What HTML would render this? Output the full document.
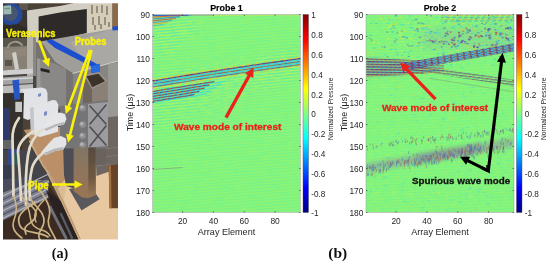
<!DOCTYPE html>
<html><head><meta charset="utf-8"><title>Probe comparison</title>
<style>html,body{margin:0;padding:0;background:#fff;}body{width:550px;height:265px;overflow:hidden;}svg{display:block;}</style>
</head><body>
<svg width="550" height="265" viewBox="0 0 550 265" font-family="'Liberation Sans', Arial, sans-serif"><defs><linearGradient id="jet" x1="0" y1="0" x2="0" y2="1"><stop offset="0" stop-color="rgb(128, 0, 0)"/><stop offset="0.125" stop-color="rgb(255, 0, 0)"/><stop offset="0.375" stop-color="rgb(255, 255, 0)"/><stop offset="0.625" stop-color="rgb(0, 255, 255)"/><stop offset="0.875" stop-color="rgb(0, 0, 255)"/><stop offset="1" stop-color="rgb(0, 0, 128)"/></linearGradient><filter id="blur" filterUnits="userSpaceOnUse" x="0" y="0" width="125" height="245"><feGaussianBlur stdDeviation="0.5"/></filter><filter id="sblur" x="-0.1" y="-0.1" width="1.2" height="1.2"><feGaussianBlur stdDeviation="0.7"/></filter><filter id="ublur" x="-0.2" y="-0.5" width="1.4" height="2"><feGaussianBlur stdDeviation="2"/></filter><filter id="ublur2" x="-0.3" y="-0.5" width="1.6" height="2"><feGaussianBlur stdDeviation="5"/></filter><filter id="pblur" x="0" y="0" width="1" height="1"><feGaussianBlur stdDeviation="0.45"/></filter><clipPath id="pc152"><rect x="152.5" y="14.5" width="148" height="198"/></clipPath><clipPath id="pc366"><rect x="366.0" y="14.5" width="148" height="198"/></clipPath><linearGradient id="pipeL" x1="0" y1="0" x2="0" y2="1"><stop offset="0" stop-color="#807466"/><stop offset="0.45" stop-color="#8e745c"/><stop offset="1" stop-color="#9a7654"/></linearGradient><linearGradient id="pipeR" x1="0" y1="0" x2="0" y2="1"><stop offset="0" stop-color="#574a40"/><stop offset="0.6" stop-color="#6e5842"/><stop offset="1" stop-color="#9a7a58"/></linearGradient><clipPath id="phc"><rect x="3" y="3.3" width="115" height="236.2"/></clipPath></defs>
<g clip-path="url(#phc)"><g filter="url(#blur)"><rect x="0" y="0" width="121" height="243" fill="#4e4338"/>
<polygon points="0,0 28,0 28,40 0,40" fill="#3b3531"/>
<polygon points="19,0 28,0 28,10 19,10" fill="#5e564c"/>
<circle cx="11.5" cy="14.5" r="11" fill="#26489a"/>
<circle cx="10.5" cy="13.5" r="7.5" fill="#4a5670"/>
<polygon points="3.4,5.7 11,5.2 11.5,14 3.4,14.5" fill="#9cbab0"/>
<polygon points="4.5,8 10,7.8 10,9 4.5,9.2" fill="#5a7068" opacity="0.6"/>
<polygon points="0,26 18,24 27,28 28,40 0,40" fill="#2f2b28"/>
<polygon points="27,10.5 60,6 88.3,0 112.5,0 112.5,30 37,44 36,75 28,75" fill="#d3cec4"/>
<polygon points="38.6,16.6 60,12.5 86.8,9 86.8,33 38.6,44" fill="#2e2a29"/>
<polygon points="88.5,4 112,4 112,29 88.5,32" fill="#cbc1ad"/>
<polygon points="88.5,4 112,4 112,29 88.5,32" fill="#d6cdb9"/>
<rect x="91" y="5" width="2" height="9" fill="#7d7466" opacity="0.7"/>
<rect x="96" y="6" width="2" height="7" fill="#7d7466" opacity="0.7"/>
<rect x="101" y="5" width="2" height="8" fill="#7d7466" opacity="0.7"/>
<rect x="106" y="6" width="2" height="9" fill="#7d7466" opacity="0.7"/>
<rect x="92" y="17" width="2" height="8" fill="#7d7466" opacity="0.7"/>
<rect x="98" y="16" width="2" height="9" fill="#7d7466" opacity="0.7"/>
<rect x="104" y="17" width="2" height="8" fill="#7d7466" opacity="0.7"/>
<rect x="94" y="25" width="2" height="5" fill="#7d7466" opacity="0.7"/>
<rect x="100" y="24" width="2" height="5" fill="#7d7466" opacity="0.7"/>
<rect x="108" y="22" width="2" height="5" fill="#7d7466" opacity="0.7"/>
<polygon points="112.5,0 121,0 121,27 112.5,28" fill="#8d6a47"/>
<polygon points="0,38 28,38 36,42 36,100 0,100" fill="#4a4541"/>
<polygon points="0,38 27,38 27,47 0,48" fill="#5a544c"/>
<polygon points="0,47 27,46 27,70 0,70" fill="#868074"/>
<polygon points="5,50 26,48 26,56 5,58" fill="#8f887a"/>
<path d="M8,47 C10,41 18,40 22,45" fill="none" stroke="#9a978f" stroke-width="2.0" stroke-linecap="round" stroke-linejoin="round"/>
<polygon points="12,53 16,52 19,69 15,70" fill="#cfcdc6"/>
<polygon points="5,60 12,60 12,66 5,66" fill="#5a544a"/>
<polygon points="27,35 33,35 33,76 27,76" fill="#b4b2aa"/>
<polygon points="33,35 36,38 36,76 33,76" fill="#8a8882"/>
<polygon points="0,70.5 33,68.5 33,73.5 0,75.5" fill="#cfcfcf"/>
<polygon points="0,77.5 33,75.5 33,83 0,85" fill="#a5a5a5"/>
<polygon points="0,79 33,77 33,78.5 0,80.5" fill="#d5d5d5"/>
<polygon points="0,86 33,84 33,91.5 0,93.5" fill="#bcbcbc"/>
<polygon points="36,42 42.8,44 55,62 73,73.4 73,112 36,104" fill="#747270"/>
<polygon points="37,42 115.5,28.6 121,28.6 121,61 73,73.4 55,62 42.8,44" fill="#a09e9b"/>
<polygon points="70,42 115.5,28.6 121,28.6 121,61 90,68.5" fill="#aeacaa" opacity="0.7"/>
<polygon points="73,73.4 121,61 121,120 73,120" fill="#878582"/>
<path d="M73,73.4 L118,61" fill="none" stroke="#d2d2d2" stroke-width="0.9" stroke-linecap="round" stroke-linejoin="round"/>
<polygon points="46,40.5 52,39.6 97.4,64.2 99.7,63.8 99.7,72 91.3,73 91.3,66.4 55,48" fill="#1f50d0"/>
<polygon points="91.3,66.4 99.7,63.8 99.7,72 91.3,73" fill="#2a6ae0"/>
<polygon points="112.5,26.5 121,25.8 121,30 112.5,30.5" fill="#1f50d0"/>
<polygon points="37,58 56,64 66,69 66,108 40,102 37,100" fill="#8a8886"/>
<polygon points="37,58 40,59 41,101 37,100" fill="#9a9896"/>
<polygon points="40.6,68 49.6,70 49.6,73 40.6,71" fill="#262423"/>
<polygon points="84,75 92,89 92,106 82.5,104" fill="#6e655c"/>
<polygon points="92,89 107.5,81 106.5,103.5 92,106" fill="#8a8076"/>
<polygon points="84,75 99,72 107.5,81 92,89" fill="#9a9088"/>
<polygon points="86.5,76.2 98.5,73.8 105,81.2 92.2,87.2" fill="#3b322c"/>
<polygon points="108,64 121,62 121,120 108,120" fill="#9a9895"/>
<polygon points="24,130 75,126 100,140 121,140 121,243 82.3,243 62.5,200 48,170 44,165 30.6,140" fill="#d8bc96"/>
<polygon points="66,186 121,150 121,243 82.3,243 64,200" fill="#e8c8a0"/>
<polygon points="24,130 60,128 68,150 66,178 58,188 48,170 44,165 30.6,140" fill="#bb9068"/>
<polygon points="30.6,140 44,165 48,170 62.5,200 82.3,243 79.8,243 60.5,201 46,171.5 42,166 28.5,141" fill="#c9a67c"/>
<polygon points="19,92 22,89 42,87.5 46,89 47.5,93 47.5,112 28,120 20,117" fill="#e2e3e6"/>
<polygon points="19,92 23,90.5 24,118 20,117" fill="#c4c5c9"/>
<polygon points="16,106 23.5,106 23.5,115 16,115" fill="#d5d5d8"/>
<polygon points="30,108 52.6,100 56,100.5 58.3,104.5 58,131.7 40,137 31,134" fill="#e3e4e7"/>
<polygon points="30,108 33.5,107 34.5,135 31,134" fill="#c4c5c9"/>
<polygon points="38,94 41,93 41,96 38,97" fill="#5064b0" opacity="0.7"/>
<polygon points="44,112 47,111 47,115 44,116" fill="#5064b0" opacity="0.7"/>
<polygon points="100,118 121,116 121,170 108,172 96.5,176 95,140" fill="#6e6660"/>
<path d="M97,150 L121,147 M97,158 L121,155 M97,166 L110,164" fill="none" stroke="#857c74" stroke-width="0.8" stroke-linecap="round" stroke-linejoin="round"/>
<polygon points="108.7,165.5 121,164 121,208.3 109.5,208.3" fill="#6a4326"/>
<polygon points="108.7,165.5 111,165.5 111.5,208.3 109.5,208.3" fill="#a07040"/>
<polygon points="63,143 76,140 76,189 66,186 64,175" fill="#4e4e53"/>
<polygon points="95,140 106,140 106,164.5 95,164.5" fill="#6a625c"/>
<polygon points="60,106 108,100 108,148.5 65.7,148.5 60,146" fill="#747478"/>
<polygon points="88,104 108,102 108,146 88,147.5" fill="#9c9ca0"/>
<path d="M90,106 L106,124 M106,105 L90,124 M90,127 L106,145 M106,126 L90,146" fill="none" stroke="#4f4f52" stroke-width="1.6" stroke-linecap="round" stroke-linejoin="round"/>
<circle cx="82.6" cy="108" r="3.3" fill="#8f8f93"/><circle cx="81.8" cy="107.2" r="1.6" fill="#b5b5b8"/>
<circle cx="82.6" cy="124.5" r="3.3" fill="#8f8f93"/><circle cx="81.8" cy="123.7" r="1.6" fill="#b5b5b8"/>
<circle cx="82.6" cy="135.8" r="3.3" fill="#8f8f93"/><circle cx="81.8" cy="135.0" r="1.6" fill="#b5b5b8"/>
<circle cx="82.6" cy="145" r="3.3" fill="#8f8f93"/><circle cx="81.8" cy="144.2" r="1.6" fill="#b5b5b8"/>
<polygon points="69,189 90,185 99.6,199.2 81.5,210.6" fill="#58585d"/>
<polygon points="73.6,147.4 95.7,147.4 95.7,195 88.3,198 82,197.5 73.6,191" fill="url(#pipeL)"/>
<polygon points="88.3,147.4 95.7,147.4 95.7,195 88.3,198" fill="url(#pipeR)"/>
<polygon points="0,93.5 24,93 22,150 0,150" fill="#35312e"/>
<polygon points="12.3,80.4 19,79.5 20,99 14.5,100" fill="#2657c4"/>
<polygon points="15.3,101.8 22,101.8 22,112 15.3,112" fill="#c8c8c6"/>
<polygon points="3,108 10,108 10,143 3,143" fill="#2e3f80" opacity="0.75"/>
<polygon points="0,150 26,150 28.5,141 42,166 46,171.5 48,185 48.7,198 0,200" fill="#45444a"/>
<polygon points="0,140 14,140 14,149 0,149" fill="#646466"/>
<polygon points="8,149 18,149 18,165 8,165" fill="#30489a" opacity="0.85"/>
<polygon points="0,165 14,165 14,179 0,179" fill="#353a50"/>
<polygon points="0,180 30,176 30,186 0,192" fill="#484c5c"/>
<polygon points="0,193.6 37,180 48.7,180 48.7,198 0,222" fill="#7e7f8c"/>
<path d="M0,197.4 L48.7,174.0" fill="none" stroke="#b4b5c0" stroke-width="1.1" stroke-linecap="round" stroke-linejoin="round"/>
<path d="M0,201.1 L48.7,177.7" fill="none" stroke="#505162" stroke-width="1.1" stroke-linecap="round" stroke-linejoin="round"/>
<path d="M0,204.8 L48.7,181.4" fill="none" stroke="#b4b5c0" stroke-width="1.1" stroke-linecap="round" stroke-linejoin="round"/>
<path d="M0,208.5 L48.7,185.1" fill="none" stroke="#505162" stroke-width="1.1" stroke-linecap="round" stroke-linejoin="round"/>
<path d="M0,212.20000000000002 L48.7,188.8" fill="none" stroke="#b4b5c0" stroke-width="1.1" stroke-linecap="round" stroke-linejoin="round"/>
<path d="M0,215.9 L48.7,192.5" fill="none" stroke="#505162" stroke-width="1.1" stroke-linecap="round" stroke-linejoin="round"/>
<path d="M0,219.6 L48.7,196.2" fill="none" stroke="#b4b5c0" stroke-width="1.1" stroke-linecap="round" stroke-linejoin="round"/>
<polygon points="0,222 48.7,198 48,185 60.5,201 79.8,243 0,243" fill="#3b2c21"/>
<polygon points="46,190 60.5,201 79.8,243 66,243" fill="#2a2420"/>
<path d="M50,207 L66,238" fill="none" stroke="#6f7078" stroke-width="2.8" stroke-linecap="round" stroke-linejoin="round"/>
<path d="M61,214 L72,238" fill="none" stroke="#5a5b62" stroke-width="2.2" stroke-linecap="round" stroke-linejoin="round"/>
<polygon points="13,153 20,153 20,165 13,165" fill="#2f5f45" opacity="0.85"/>
<polygon points="54,113.5 60,112.4 65,114 66.5,119 64,124.5 56,126.5 46,131 41,128.5 49,119" fill="#e6e6e8"/>
<polygon points="56,124 64,122 64,124.5 56,126.5 46,131 44,129" fill="#b8b8bc"/>
<polygon points="54,138 61,136 66,138.5 66.5,144 63.5,149.5 55,151 46,155 41,152.5 49,143" fill="#e4e4e6"/>
<polygon points="55,148.5 63.5,147 63.5,149.5 55,151 46,155 44,153" fill="#b5b5b9"/>
<path d="M19,118 C14,125 12,132 12.5,140 C13,155 13,170 13.5,196" fill="none" stroke="#e3dccb" stroke-width="2.7" stroke-linecap="round" stroke-linejoin="round"/>
<path d="M34,131 C24,137 18,144 18,152 C19,165 20,172 21,200" fill="none" stroke="#e3dccb" stroke-width="2.7" stroke-linecap="round" stroke-linejoin="round"/>
<path d="M43,129 C36,134 30,142 28,155 C26,168 25,178 26,205" fill="none" stroke="#e3dccb" stroke-width="2.7" stroke-linecap="round" stroke-linejoin="round"/>
<path d="M43,153 C38,157 34,161 32,168 C30,176 29,186 30,200" fill="none" stroke="#e3dccb" stroke-width="2.7" stroke-linecap="round" stroke-linejoin="round"/>
<path d="M22,196 C26,205 40,208 35,218 C30,226 22,224 26,234" fill="none" stroke="#cdb486" stroke-width="1.7" stroke-linecap="round" stroke-linejoin="round"/>
<path d="M30,198 C35,207 45,212 44,222 C43,230 36,232 40,240" fill="none" stroke="#cdb486" stroke-width="1.7" stroke-linecap="round" stroke-linejoin="round"/>
<path d="M35,202 C25,210 15,214 20,226 C24,234 40,231 48,237" fill="none" stroke="#cdb486" stroke-width="1.7" stroke-linecap="round" stroke-linejoin="round"/>
<path d="M40,190 C45,198 52,207 49,217 C46,225 52,231 56,240" fill="none" stroke="#cdb486" stroke-width="1.7" stroke-linecap="round" stroke-linejoin="round"/>
<path d="M14,196 C16,204 18,210 14,220 C11,228 16,234 22,238" fill="none" stroke="#cdb486" stroke-width="1.6" stroke-linecap="round" stroke-linejoin="round"/>
<path d="M26,205 C32,212 28,220 34,226 C40,232 46,228 50,236" fill="none" stroke="#cdb486" stroke-width="1.5" stroke-linecap="round" stroke-linejoin="round"/>
<path d="M44,200 C38,206 32,214 36,222" fill="none" stroke="#cdb486" stroke-width="1.4" stroke-linecap="round" stroke-linejoin="round"/></g>
<line x1="39.00" y1="40.50" x2="46.43" y2="60.15" stroke="#fbf20a" stroke-width="2.7"/><polygon points="48.90,66.70 42.19,60.68 49.95,57.75" fill="#fbf20a"/>
<line x1="90.00" y1="50.00" x2="68.18" y2="107.46" stroke="#fbf20a" stroke-width="2.6"/><polygon points="65.70,114.00 64.80,105.10 72.28,107.94" fill="#fbf20a"/>
<line x1="91.50" y1="50.00" x2="69.72" y2="135.82" stroke="#fbf20a" stroke-width="2.6"/><polygon points="68.00,142.60 66.09,133.86 73.84,135.83" fill="#fbf20a"/>
<line x1="52.00" y1="184.50" x2="75.60" y2="184.50" stroke="#fbf20a" stroke-width="2.6"/><polygon points="82.60,184.50 74.60,188.50 74.60,180.50" fill="#fbf20a"/>
<text x="6.1" y="36.9" font-size="11.2" font-weight="bold" fill="#fbf20a" stroke="#fbf20a" stroke-width="0.35" font-family="'Liberation Sans', Arial, sans-serif" textLength="49.4" lengthAdjust="spacingAndGlyphs">Verasonics</text>
<text x="74.7" y="44.8" font-size="10.4" font-weight="bold" fill="#fbf20a" stroke="#fbf20a" stroke-width="0.35" font-family="'Liberation Sans', Arial, sans-serif" textLength="31.7" lengthAdjust="spacingAndGlyphs">Probes</text>
<text x="28.3" y="188.9" font-size="10.4" font-weight="bold" fill="#fbf20a" stroke="#fbf20a" stroke-width="0.35" font-family="'Liberation Sans', Arial, sans-serif" textLength="20.4" lengthAdjust="spacingAndGlyphs">Pipe</text>
</g>
<g clip-path="url(#pc152)"><g filter="url(#pblur)"><defs><filter id="blp1_152" x="-0.2" y="-0.2" width="1.4" height="1.4"><feGaussianBlur stdDeviation="6"/></filter><mask id="mp1_152" maskUnits="userSpaceOnUse" x="152.5" y="14.5" width="148" height="198"><g filter="url(#blp1_152)"><polygon points="152.5,14.5 212.5,14.5 172.5,54.5 152.5,54.5" fill="#fff"/><polygon points="152.5,74.5 300.5,49.5 300.5,76.5 222.5,106.5 152.5,114.5" fill="#fff"/><polygon points="152.5,102.5 242.5,92.5 242.5,114.5 152.5,129.5" fill="#bbb"/></g></mask></defs>
<rect x="152.5" y="14.5" width="148" height="198" fill="#82f47c"/>
<g opacity="0.2"><path d="M152.5,-5.5 L201.8,-9.4 L251.2,-13.4 L300.5,-17.3" fill="none" stroke="#e8f54a" stroke-width="0.8" stroke-dasharray="28 6" stroke-dashoffset="4"/><path d="M152.5,-4.0 L201.8,-7.9 L251.2,-11.9 L300.5,-15.8" fill="none" stroke="#3ee8cf" stroke-width="0.8" stroke-dasharray="36 2" stroke-dashoffset="31"/><path d="M152.5,-2.5 L201.8,-6.4 L251.2,-10.4 L300.5,-14.3" fill="none" stroke="#e8f54a" stroke-width="0.8" stroke-dasharray="48 5" stroke-dashoffset="24"/><path d="M152.5,-1.0 L201.8,-4.9 L251.2,-8.9 L300.5,-12.8" fill="none" stroke="#3ee8cf" stroke-width="0.8" stroke-dasharray="33 2" stroke-dashoffset="31"/><path d="M152.5,0.5 L201.8,-3.4 L251.2,-7.4 L300.5,-11.3" fill="none" stroke="#e8f54a" stroke-width="0.8" stroke-dasharray="21 8" stroke-dashoffset="24"/><path d="M152.5,2.0 L201.8,-1.9 L251.2,-5.9 L300.5,-9.8" fill="none" stroke="#3ee8cf" stroke-width="0.8" stroke-dasharray="47 6" stroke-dashoffset="0"/><path d="M152.5,3.5 L201.8,-0.4 L251.2,-4.4 L300.5,-8.3" fill="none" stroke="#e8f54a" stroke-width="0.8" stroke-dasharray="48 4" stroke-dashoffset="14"/><path d="M152.5,5.0 L201.8,1.1 L251.2,-2.9 L300.5,-6.8" fill="none" stroke="#3ee8cf" stroke-width="0.8" stroke-dasharray="57 2" stroke-dashoffset="20"/><path d="M152.5,6.5 L201.8,2.6 L251.2,-1.4 L300.5,-5.3" fill="none" stroke="#e8f54a" stroke-width="0.8" stroke-dasharray="21 2" stroke-dashoffset="1"/><path d="M152.5,8.0 L201.8,4.1 L251.2,0.1 L300.5,-3.8" fill="none" stroke="#3ee8cf" stroke-width="0.8" stroke-dasharray="54 2" stroke-dashoffset="24"/><path d="M152.5,9.5 L201.8,5.6 L251.2,1.6 L300.5,-2.3" fill="none" stroke="#e8f54a" stroke-width="0.8" stroke-dasharray="33 5" stroke-dashoffset="1"/><path d="M152.5,11.0 L201.8,7.1 L251.2,3.1 L300.5,-0.8" fill="none" stroke="#3ee8cf" stroke-width="0.8" stroke-dasharray="53 3" stroke-dashoffset="28"/><path d="M152.5,12.5 L201.8,8.6 L251.2,4.6 L300.5,0.7" fill="none" stroke="#e8f54a" stroke-width="0.8" stroke-dasharray="51 6" stroke-dashoffset="14"/><path d="M152.5,14.0 L201.8,10.1 L251.2,6.1 L300.5,2.2" fill="none" stroke="#3ee8cf" stroke-width="0.8" stroke-dasharray="42 3" stroke-dashoffset="14"/><path d="M152.5,15.5 L201.8,11.6 L251.2,7.6 L300.5,3.7" fill="none" stroke="#e8f54a" stroke-width="0.8" stroke-dasharray="49 4" stroke-dashoffset="1"/><path d="M152.5,17.0 L201.8,13.1 L251.2,9.1 L300.5,5.2" fill="none" stroke="#3ee8cf" stroke-width="0.8" stroke-dasharray="46 8" stroke-dashoffset="35"/><path d="M152.5,18.5 L201.8,14.6 L251.2,10.6 L300.5,6.7" fill="none" stroke="#e8f54a" stroke-width="0.8" stroke-dasharray="26 3" stroke-dashoffset="40"/><path d="M152.5,20.0 L201.8,16.1 L251.2,12.1 L300.5,8.2" fill="none" stroke="#3ee8cf" stroke-width="0.8" stroke-dasharray="38 2" stroke-dashoffset="21"/><path d="M152.5,21.5 L201.8,17.6 L251.2,13.6 L300.5,9.7" fill="none" stroke="#e8f54a" stroke-width="0.8" stroke-dasharray="52 5" stroke-dashoffset="32"/><path d="M152.5,23.0 L201.8,19.1 L251.2,15.1 L300.5,11.2" fill="none" stroke="#3ee8cf" stroke-width="0.8" stroke-dasharray="32 4" stroke-dashoffset="18"/><path d="M152.5,24.5 L201.8,20.6 L251.2,16.6 L300.5,12.7" fill="none" stroke="#e8f54a" stroke-width="0.8" stroke-dasharray="57 5" stroke-dashoffset="32"/><path d="M152.5,26.0 L201.8,22.1 L251.2,18.1 L300.5,14.2" fill="none" stroke="#3ee8cf" stroke-width="0.8" stroke-dasharray="45 6" stroke-dashoffset="2"/><path d="M152.5,27.5 L201.8,23.6 L251.2,19.6 L300.5,15.7" fill="none" stroke="#e8f54a" stroke-width="0.8" stroke-dasharray="50 3" stroke-dashoffset="25"/><path d="M152.5,29.0 L201.8,25.1 L251.2,21.1 L300.5,17.2" fill="none" stroke="#3ee8cf" stroke-width="0.8" stroke-dasharray="46 7" stroke-dashoffset="11"/><path d="M152.5,30.5 L201.8,26.6 L251.2,22.6 L300.5,18.7" fill="none" stroke="#e8f54a" stroke-width="0.8" stroke-dasharray="43 6" stroke-dashoffset="23"/><path d="M152.5,32.0 L201.8,28.1 L251.2,24.1 L300.5,20.2" fill="none" stroke="#3ee8cf" stroke-width="0.8" stroke-dasharray="25 5" stroke-dashoffset="32"/><path d="M152.5,33.5 L201.8,29.6 L251.2,25.6 L300.5,21.7" fill="none" stroke="#e8f54a" stroke-width="0.8" stroke-dasharray="26 8" stroke-dashoffset="10"/><path d="M152.5,35.0 L201.8,31.1 L251.2,27.1 L300.5,23.2" fill="none" stroke="#3ee8cf" stroke-width="0.8" stroke-dasharray="53 8" stroke-dashoffset="25"/><path d="M152.5,36.5 L201.8,32.6 L251.2,28.6 L300.5,24.7" fill="none" stroke="#e8f54a" stroke-width="0.8" stroke-dasharray="43 5" stroke-dashoffset="1"/><path d="M152.5,38.0 L201.8,34.1 L251.2,30.1 L300.5,26.2" fill="none" stroke="#3ee8cf" stroke-width="0.8" stroke-dasharray="50 2" stroke-dashoffset="19"/><path d="M152.5,39.5 L201.8,35.6 L251.2,31.6 L300.5,27.7" fill="none" stroke="#e8f54a" stroke-width="0.8" stroke-dasharray="59 6" stroke-dashoffset="37"/><path d="M152.5,41.0 L201.8,37.1 L251.2,33.1 L300.5,29.2" fill="none" stroke="#3ee8cf" stroke-width="0.8" stroke-dasharray="45 7" stroke-dashoffset="10"/><path d="M152.5,42.5 L201.8,38.6 L251.2,34.6 L300.5,30.7" fill="none" stroke="#e8f54a" stroke-width="0.8" stroke-dasharray="30 6" stroke-dashoffset="14"/><path d="M152.5,44.0 L201.8,40.1 L251.2,36.1 L300.5,32.2" fill="none" stroke="#3ee8cf" stroke-width="0.8" stroke-dasharray="20 8" stroke-dashoffset="12"/><path d="M152.5,45.5 L201.8,41.6 L251.2,37.6 L300.5,33.7" fill="none" stroke="#e8f54a" stroke-width="0.8" stroke-dasharray="54 8" stroke-dashoffset="35"/><path d="M152.5,47.0 L201.8,43.1 L251.2,39.1 L300.5,35.2" fill="none" stroke="#3ee8cf" stroke-width="0.8" stroke-dasharray="34 5" stroke-dashoffset="32"/><path d="M152.5,48.5 L201.8,44.6 L251.2,40.6 L300.5,36.7" fill="none" stroke="#e8f54a" stroke-width="0.8" stroke-dasharray="42 8" stroke-dashoffset="36"/><path d="M152.5,50.0 L201.8,46.1 L251.2,42.1 L300.5,38.2" fill="none" stroke="#3ee8cf" stroke-width="0.8" stroke-dasharray="42 5" stroke-dashoffset="17"/><path d="M152.5,51.5 L201.8,47.6 L251.2,43.6 L300.5,39.7" fill="none" stroke="#e8f54a" stroke-width="0.8" stroke-dasharray="55 6" stroke-dashoffset="0"/><path d="M152.5,53.0 L201.8,49.1 L251.2,45.1 L300.5,41.2" fill="none" stroke="#3ee8cf" stroke-width="0.8" stroke-dasharray="44 8" stroke-dashoffset="32"/><path d="M152.5,54.5 L201.8,50.6 L251.2,46.6 L300.5,42.7" fill="none" stroke="#e8f54a" stroke-width="0.8" stroke-dasharray="28 6" stroke-dashoffset="35"/><path d="M152.5,56.0 L201.8,52.1 L251.2,48.1 L300.5,44.2" fill="none" stroke="#3ee8cf" stroke-width="0.8" stroke-dasharray="33 5" stroke-dashoffset="3"/><path d="M152.5,57.5 L201.8,53.6 L251.2,49.6 L300.5,45.7" fill="none" stroke="#e8f54a" stroke-width="0.8" stroke-dasharray="50 8" stroke-dashoffset="23"/><path d="M152.5,59.0 L201.8,55.1 L251.2,51.1 L300.5,47.2" fill="none" stroke="#3ee8cf" stroke-width="0.8" stroke-dasharray="56 6" stroke-dashoffset="12"/><path d="M152.5,60.5 L201.8,56.6 L251.2,52.6 L300.5,48.7" fill="none" stroke="#e8f54a" stroke-width="0.8" stroke-dasharray="52 5" stroke-dashoffset="31"/><path d="M152.5,62.0 L201.8,58.1 L251.2,54.1 L300.5,50.2" fill="none" stroke="#3ee8cf" stroke-width="0.8" stroke-dasharray="42 5" stroke-dashoffset="22"/><path d="M152.5,63.5 L201.8,59.6 L251.2,55.6 L300.5,51.7" fill="none" stroke="#e8f54a" stroke-width="0.8" stroke-dasharray="20 6" stroke-dashoffset="34"/><path d="M152.5,65.0 L201.8,61.1 L251.2,57.1 L300.5,53.2" fill="none" stroke="#3ee8cf" stroke-width="0.8" stroke-dasharray="59 8" stroke-dashoffset="39"/><path d="M152.5,66.5 L201.8,62.6 L251.2,58.6 L300.5,54.7" fill="none" stroke="#e8f54a" stroke-width="0.8" stroke-dasharray="41 5" stroke-dashoffset="38"/><path d="M152.5,68.0 L201.8,64.1 L251.2,60.1 L300.5,56.2" fill="none" stroke="#3ee8cf" stroke-width="0.8" stroke-dasharray="21 8" stroke-dashoffset="14"/><path d="M152.5,69.5 L201.8,65.6 L251.2,61.6 L300.5,57.7" fill="none" stroke="#e8f54a" stroke-width="0.8" stroke-dasharray="60 3" stroke-dashoffset="35"/><path d="M152.5,71.0 L201.8,67.1 L251.2,63.1 L300.5,59.2" fill="none" stroke="#3ee8cf" stroke-width="0.8" stroke-dasharray="57 3" stroke-dashoffset="5"/><path d="M152.5,72.5 L201.8,68.6 L251.2,64.6 L300.5,60.7" fill="none" stroke="#e8f54a" stroke-width="0.8" stroke-dasharray="55 8" stroke-dashoffset="16"/><path d="M152.5,74.0 L201.8,70.1 L251.2,66.1 L300.5,62.2" fill="none" stroke="#3ee8cf" stroke-width="0.8" stroke-dasharray="22 8" stroke-dashoffset="4"/><path d="M152.5,75.5 L201.8,71.6 L251.2,67.6 L300.5,63.7" fill="none" stroke="#e8f54a" stroke-width="0.8" stroke-dasharray="25 8" stroke-dashoffset="1"/><path d="M152.5,77.0 L201.8,73.1 L251.2,69.1 L300.5,65.2" fill="none" stroke="#3ee8cf" stroke-width="0.8" stroke-dasharray="48 2" stroke-dashoffset="17"/><path d="M152.5,78.5 L201.8,74.6 L251.2,70.6 L300.5,66.7" fill="none" stroke="#e8f54a" stroke-width="0.8" stroke-dasharray="35 4" stroke-dashoffset="7"/><path d="M152.5,80.0 L201.8,76.1 L251.2,72.1 L300.5,68.2" fill="none" stroke="#3ee8cf" stroke-width="0.8" stroke-dasharray="59 3" stroke-dashoffset="22"/><path d="M152.5,81.5 L201.8,77.6 L251.2,73.6 L300.5,69.7" fill="none" stroke="#e8f54a" stroke-width="0.8" stroke-dasharray="38 2" stroke-dashoffset="10"/><path d="M152.5,83.0 L201.8,79.1 L251.2,75.1 L300.5,71.2" fill="none" stroke="#3ee8cf" stroke-width="0.8" stroke-dasharray="30 4" stroke-dashoffset="33"/><path d="M152.5,84.5 L201.8,80.6 L251.2,76.6 L300.5,72.7" fill="none" stroke="#e8f54a" stroke-width="0.8" stroke-dasharray="30 7" stroke-dashoffset="17"/><path d="M152.5,86.0 L201.8,82.1 L251.2,78.1 L300.5,74.2" fill="none" stroke="#3ee8cf" stroke-width="0.8" stroke-dasharray="38 5" stroke-dashoffset="20"/><path d="M152.5,87.5 L201.8,83.6 L251.2,79.6 L300.5,75.7" fill="none" stroke="#e8f54a" stroke-width="0.8" stroke-dasharray="51 5" stroke-dashoffset="7"/><path d="M152.5,89.0 L201.8,85.1 L251.2,81.1 L300.5,77.2" fill="none" stroke="#3ee8cf" stroke-width="0.8" stroke-dasharray="21 4" stroke-dashoffset="24"/><path d="M152.5,90.5 L201.8,86.6 L251.2,82.6 L300.5,78.7" fill="none" stroke="#e8f54a" stroke-width="0.8" stroke-dasharray="41 5" stroke-dashoffset="12"/><path d="M152.5,92.0 L201.8,88.1 L251.2,84.1 L300.5,80.2" fill="none" stroke="#3ee8cf" stroke-width="0.8" stroke-dasharray="36 2" stroke-dashoffset="16"/><path d="M152.5,93.5 L201.8,89.6 L251.2,85.6 L300.5,81.7" fill="none" stroke="#e8f54a" stroke-width="0.8" stroke-dasharray="52 3" stroke-dashoffset="38"/><path d="M152.5,95.0 L201.8,91.1 L251.2,87.1 L300.5,83.2" fill="none" stroke="#3ee8cf" stroke-width="0.8" stroke-dasharray="47 8" stroke-dashoffset="1"/><path d="M152.5,96.5 L201.8,92.6 L251.2,88.6 L300.5,84.7" fill="none" stroke="#e8f54a" stroke-width="0.8" stroke-dasharray="34 2" stroke-dashoffset="25"/><path d="M152.5,98.0 L201.8,94.1 L251.2,90.1 L300.5,86.2" fill="none" stroke="#3ee8cf" stroke-width="0.8" stroke-dasharray="29 2" stroke-dashoffset="10"/><path d="M152.5,99.5 L201.8,95.6 L251.2,91.6 L300.5,87.7" fill="none" stroke="#e8f54a" stroke-width="0.8" stroke-dasharray="48 7" stroke-dashoffset="32"/><path d="M152.5,101.0 L201.8,97.1 L251.2,93.1 L300.5,89.2" fill="none" stroke="#3ee8cf" stroke-width="0.8" stroke-dasharray="47 6" stroke-dashoffset="14"/><path d="M152.5,102.5 L201.8,98.6 L251.2,94.6 L300.5,90.7" fill="none" stroke="#e8f54a" stroke-width="0.8" stroke-dasharray="60 8" stroke-dashoffset="33"/><path d="M152.5,104.0 L201.8,100.1 L251.2,96.1 L300.5,92.2" fill="none" stroke="#3ee8cf" stroke-width="0.8" stroke-dasharray="48 3" stroke-dashoffset="33"/><path d="M152.5,105.5 L201.8,101.6 L251.2,97.6 L300.5,93.7" fill="none" stroke="#e8f54a" stroke-width="0.8" stroke-dasharray="21 5" stroke-dashoffset="36"/><path d="M152.5,107.0 L201.8,103.1 L251.2,99.1 L300.5,95.2" fill="none" stroke="#3ee8cf" stroke-width="0.8" stroke-dasharray="40 7" stroke-dashoffset="40"/><path d="M152.5,108.5 L201.8,104.6 L251.2,100.6 L300.5,96.7" fill="none" stroke="#e8f54a" stroke-width="0.8" stroke-dasharray="47 2" stroke-dashoffset="19"/><path d="M152.5,110.0 L201.8,106.1 L251.2,102.1 L300.5,98.2" fill="none" stroke="#3ee8cf" stroke-width="0.8" stroke-dasharray="28 3" stroke-dashoffset="3"/><path d="M152.5,111.5 L201.8,107.6 L251.2,103.6 L300.5,99.7" fill="none" stroke="#e8f54a" stroke-width="0.8" stroke-dasharray="39 2" stroke-dashoffset="4"/><path d="M152.5,113.0 L201.8,109.1 L251.2,105.1 L300.5,101.2" fill="none" stroke="#3ee8cf" stroke-width="0.8" stroke-dasharray="39 4" stroke-dashoffset="10"/><path d="M152.5,114.5 L201.8,110.6 L251.2,106.6 L300.5,102.7" fill="none" stroke="#e8f54a" stroke-width="0.8" stroke-dasharray="46 6" stroke-dashoffset="16"/><path d="M152.5,116.0 L201.8,112.1 L251.2,108.1 L300.5,104.2" fill="none" stroke="#3ee8cf" stroke-width="0.8" stroke-dasharray="28 2" stroke-dashoffset="35"/><path d="M152.5,117.5 L201.8,113.6 L251.2,109.6 L300.5,105.7" fill="none" stroke="#e8f54a" stroke-width="0.8" stroke-dasharray="22 6" stroke-dashoffset="13"/><path d="M152.5,119.0 L201.8,115.1 L251.2,111.1 L300.5,107.2" fill="none" stroke="#3ee8cf" stroke-width="0.8" stroke-dasharray="56 5" stroke-dashoffset="10"/><path d="M152.5,120.5 L201.8,116.6 L251.2,112.6 L300.5,108.7" fill="none" stroke="#e8f54a" stroke-width="0.8" stroke-dasharray="59 6" stroke-dashoffset="2"/><path d="M152.5,122.0 L201.8,118.1 L251.2,114.1 L300.5,110.2" fill="none" stroke="#3ee8cf" stroke-width="0.8" stroke-dasharray="44 3" stroke-dashoffset="22"/><path d="M152.5,123.5 L201.8,119.6 L251.2,115.6 L300.5,111.7" fill="none" stroke="#e8f54a" stroke-width="0.8" stroke-dasharray="26 3" stroke-dashoffset="36"/><path d="M152.5,125.0 L201.8,121.1 L251.2,117.1 L300.5,113.2" fill="none" stroke="#3ee8cf" stroke-width="0.8" stroke-dasharray="47 6" stroke-dashoffset="12"/><path d="M152.5,126.5 L201.8,122.6 L251.2,118.6 L300.5,114.7" fill="none" stroke="#e8f54a" stroke-width="0.8" stroke-dasharray="51 2" stroke-dashoffset="24"/><path d="M152.5,128.0 L201.8,124.1 L251.2,120.1 L300.5,116.2" fill="none" stroke="#3ee8cf" stroke-width="0.8" stroke-dasharray="38 6" stroke-dashoffset="31"/><path d="M152.5,129.5 L201.8,125.6 L251.2,121.6 L300.5,117.7" fill="none" stroke="#e8f54a" stroke-width="0.8" stroke-dasharray="21 4" stroke-dashoffset="39"/><path d="M152.5,131.0 L201.8,127.1 L251.2,123.1 L300.5,119.2" fill="none" stroke="#3ee8cf" stroke-width="0.8" stroke-dasharray="45 4" stroke-dashoffset="1"/><path d="M152.5,132.5 L201.8,128.6 L251.2,124.6 L300.5,120.7" fill="none" stroke="#e8f54a" stroke-width="0.8" stroke-dasharray="30 3" stroke-dashoffset="20"/><path d="M152.5,134.0 L201.8,130.1 L251.2,126.1 L300.5,122.2" fill="none" stroke="#3ee8cf" stroke-width="0.8" stroke-dasharray="56 8" stroke-dashoffset="8"/><path d="M152.5,135.5 L201.8,131.6 L251.2,127.6 L300.5,123.7" fill="none" stroke="#e8f54a" stroke-width="0.8" stroke-dasharray="41 5" stroke-dashoffset="13"/><path d="M152.5,137.0 L201.8,133.1 L251.2,129.1 L300.5,125.2" fill="none" stroke="#3ee8cf" stroke-width="0.8" stroke-dasharray="37 7" stroke-dashoffset="6"/><path d="M152.5,138.5 L201.8,134.6 L251.2,130.6 L300.5,126.7" fill="none" stroke="#e8f54a" stroke-width="0.8" stroke-dasharray="44 6" stroke-dashoffset="22"/><path d="M152.5,140.0 L201.8,136.1 L251.2,132.1 L300.5,128.2" fill="none" stroke="#3ee8cf" stroke-width="0.8" stroke-dasharray="54 5" stroke-dashoffset="34"/><path d="M152.5,141.5 L201.8,137.6 L251.2,133.6 L300.5,129.7" fill="none" stroke="#e8f54a" stroke-width="0.8" stroke-dasharray="35 2" stroke-dashoffset="2"/><path d="M152.5,143.0 L201.8,139.1 L251.2,135.1 L300.5,131.2" fill="none" stroke="#3ee8cf" stroke-width="0.8" stroke-dasharray="25 3" stroke-dashoffset="10"/><path d="M152.5,144.5 L201.8,140.6 L251.2,136.6 L300.5,132.7" fill="none" stroke="#e8f54a" stroke-width="0.8" stroke-dasharray="30 6" stroke-dashoffset="13"/><path d="M152.5,146.0 L201.8,142.1 L251.2,138.1 L300.5,134.2" fill="none" stroke="#3ee8cf" stroke-width="0.8" stroke-dasharray="37 8" stroke-dashoffset="21"/><path d="M152.5,147.5 L201.8,143.6 L251.2,139.6 L300.5,135.7" fill="none" stroke="#e8f54a" stroke-width="0.8" stroke-dasharray="58 6" stroke-dashoffset="16"/><path d="M152.5,149.0 L201.8,145.1 L251.2,141.1 L300.5,137.2" fill="none" stroke="#3ee8cf" stroke-width="0.8" stroke-dasharray="43 4" stroke-dashoffset="21"/><path d="M152.5,150.5 L201.8,146.6 L251.2,142.6 L300.5,138.7" fill="none" stroke="#e8f54a" stroke-width="0.8" stroke-dasharray="27 4" stroke-dashoffset="15"/><path d="M152.5,152.0 L201.8,148.1 L251.2,144.1 L300.5,140.2" fill="none" stroke="#3ee8cf" stroke-width="0.8" stroke-dasharray="58 8" stroke-dashoffset="31"/><path d="M152.5,153.5 L201.8,149.6 L251.2,145.6 L300.5,141.7" fill="none" stroke="#e8f54a" stroke-width="0.8" stroke-dasharray="28 6" stroke-dashoffset="35"/><path d="M152.5,155.0 L201.8,151.1 L251.2,147.1 L300.5,143.2" fill="none" stroke="#3ee8cf" stroke-width="0.8" stroke-dasharray="26 4" stroke-dashoffset="2"/><path d="M152.5,156.5 L201.8,152.6 L251.2,148.6 L300.5,144.7" fill="none" stroke="#e8f54a" stroke-width="0.8" stroke-dasharray="46 2" stroke-dashoffset="24"/><path d="M152.5,158.0 L201.8,154.1 L251.2,150.1 L300.5,146.2" fill="none" stroke="#3ee8cf" stroke-width="0.8" stroke-dasharray="29 8" stroke-dashoffset="8"/><path d="M152.5,159.5 L201.8,155.6 L251.2,151.6 L300.5,147.7" fill="none" stroke="#e8f54a" stroke-width="0.8" stroke-dasharray="41 2" stroke-dashoffset="39"/><path d="M152.5,161.0 L201.8,157.1 L251.2,153.1 L300.5,149.2" fill="none" stroke="#3ee8cf" stroke-width="0.8" stroke-dasharray="57 8" stroke-dashoffset="24"/><path d="M152.5,162.5 L201.8,158.6 L251.2,154.6 L300.5,150.7" fill="none" stroke="#e8f54a" stroke-width="0.8" stroke-dasharray="24 6" stroke-dashoffset="35"/><path d="M152.5,164.0 L201.8,160.1 L251.2,156.1 L300.5,152.2" fill="none" stroke="#3ee8cf" stroke-width="0.8" stroke-dasharray="34 6" stroke-dashoffset="5"/><path d="M152.5,165.5 L201.8,161.6 L251.2,157.6 L300.5,153.7" fill="none" stroke="#e8f54a" stroke-width="0.8" stroke-dasharray="37 4" stroke-dashoffset="18"/><path d="M152.5,167.0 L201.8,163.1 L251.2,159.1 L300.5,155.2" fill="none" stroke="#3ee8cf" stroke-width="0.8" stroke-dasharray="56 6" stroke-dashoffset="7"/><path d="M152.5,168.5 L201.8,164.6 L251.2,160.6 L300.5,156.7" fill="none" stroke="#e8f54a" stroke-width="0.8" stroke-dasharray="49 4" stroke-dashoffset="6"/><path d="M152.5,170.0 L201.8,166.1 L251.2,162.1 L300.5,158.2" fill="none" stroke="#3ee8cf" stroke-width="0.8" stroke-dasharray="22 8" stroke-dashoffset="18"/><path d="M152.5,171.5 L201.8,167.6 L251.2,163.6 L300.5,159.7" fill="none" stroke="#e8f54a" stroke-width="0.8" stroke-dasharray="20 6" stroke-dashoffset="0"/><path d="M152.5,173.0 L201.8,169.1 L251.2,165.1 L300.5,161.2" fill="none" stroke="#3ee8cf" stroke-width="0.8" stroke-dasharray="25 5" stroke-dashoffset="7"/><path d="M152.5,174.5 L201.8,170.6 L251.2,166.6 L300.5,162.7" fill="none" stroke="#e8f54a" stroke-width="0.8" stroke-dasharray="22 3" stroke-dashoffset="15"/><path d="M152.5,176.0 L201.8,172.1 L251.2,168.1 L300.5,164.2" fill="none" stroke="#3ee8cf" stroke-width="0.8" stroke-dasharray="57 5" stroke-dashoffset="10"/><path d="M152.5,177.5 L201.8,173.6 L251.2,169.6 L300.5,165.7" fill="none" stroke="#e8f54a" stroke-width="0.8" stroke-dasharray="27 5" stroke-dashoffset="10"/><path d="M152.5,179.0 L201.8,175.1 L251.2,171.1 L300.5,167.2" fill="none" stroke="#3ee8cf" stroke-width="0.8" stroke-dasharray="35 3" stroke-dashoffset="6"/><path d="M152.5,180.5 L201.8,176.6 L251.2,172.6 L300.5,168.7" fill="none" stroke="#e8f54a" stroke-width="0.8" stroke-dasharray="47 5" stroke-dashoffset="34"/><path d="M152.5,182.0 L201.8,178.1 L251.2,174.1 L300.5,170.2" fill="none" stroke="#3ee8cf" stroke-width="0.8" stroke-dasharray="38 6" stroke-dashoffset="16"/><path d="M152.5,183.5 L201.8,179.6 L251.2,175.6 L300.5,171.7" fill="none" stroke="#e8f54a" stroke-width="0.8" stroke-dasharray="50 4" stroke-dashoffset="6"/><path d="M152.5,185.0 L201.8,181.1 L251.2,177.1 L300.5,173.2" fill="none" stroke="#3ee8cf" stroke-width="0.8" stroke-dasharray="33 7" stroke-dashoffset="20"/><path d="M152.5,186.5 L201.8,182.6 L251.2,178.6 L300.5,174.7" fill="none" stroke="#e8f54a" stroke-width="0.8" stroke-dasharray="22 2" stroke-dashoffset="0"/><path d="M152.5,188.0 L201.8,184.1 L251.2,180.1 L300.5,176.2" fill="none" stroke="#3ee8cf" stroke-width="0.8" stroke-dasharray="38 7" stroke-dashoffset="38"/><path d="M152.5,189.5 L201.8,185.6 L251.2,181.6 L300.5,177.7" fill="none" stroke="#e8f54a" stroke-width="0.8" stroke-dasharray="40 5" stroke-dashoffset="25"/><path d="M152.5,191.0 L201.8,187.1 L251.2,183.1 L300.5,179.2" fill="none" stroke="#3ee8cf" stroke-width="0.8" stroke-dasharray="40 5" stroke-dashoffset="4"/><path d="M152.5,192.5 L201.8,188.6 L251.2,184.6 L300.5,180.7" fill="none" stroke="#e8f54a" stroke-width="0.8" stroke-dasharray="24 4" stroke-dashoffset="38"/><path d="M152.5,194.0 L201.8,190.1 L251.2,186.1 L300.5,182.2" fill="none" stroke="#3ee8cf" stroke-width="0.8" stroke-dasharray="49 2" stroke-dashoffset="16"/><path d="M152.5,195.5 L201.8,191.6 L251.2,187.6 L300.5,183.7" fill="none" stroke="#e8f54a" stroke-width="0.8" stroke-dasharray="33 8" stroke-dashoffset="39"/><path d="M152.5,197.0 L201.8,193.1 L251.2,189.1 L300.5,185.2" fill="none" stroke="#3ee8cf" stroke-width="0.8" stroke-dasharray="54 8" stroke-dashoffset="30"/><path d="M152.5,198.5 L201.8,194.6 L251.2,190.6 L300.5,186.7" fill="none" stroke="#e8f54a" stroke-width="0.8" stroke-dasharray="42 4" stroke-dashoffset="11"/><path d="M152.5,200.0 L201.8,196.1 L251.2,192.1 L300.5,188.2" fill="none" stroke="#3ee8cf" stroke-width="0.8" stroke-dasharray="54 3" stroke-dashoffset="19"/><path d="M152.5,201.5 L201.8,197.6 L251.2,193.6 L300.5,189.7" fill="none" stroke="#e8f54a" stroke-width="0.8" stroke-dasharray="32 3" stroke-dashoffset="23"/><path d="M152.5,203.0 L201.8,199.1 L251.2,195.1 L300.5,191.2" fill="none" stroke="#3ee8cf" stroke-width="0.8" stroke-dasharray="25 8" stroke-dashoffset="17"/><path d="M152.5,204.5 L201.8,200.6 L251.2,196.6 L300.5,192.7" fill="none" stroke="#e8f54a" stroke-width="0.8" stroke-dasharray="25 8" stroke-dashoffset="28"/><path d="M152.5,206.0 L201.8,202.1 L251.2,198.1 L300.5,194.2" fill="none" stroke="#3ee8cf" stroke-width="0.8" stroke-dasharray="25 7" stroke-dashoffset="36"/><path d="M152.5,207.5 L201.8,203.6 L251.2,199.6 L300.5,195.7" fill="none" stroke="#e8f54a" stroke-width="0.8" stroke-dasharray="41 3" stroke-dashoffset="24"/><path d="M152.5,209.0 L201.8,205.1 L251.2,201.1 L300.5,197.2" fill="none" stroke="#3ee8cf" stroke-width="0.8" stroke-dasharray="39 2" stroke-dashoffset="20"/><path d="M152.5,210.5 L201.8,206.6 L251.2,202.6 L300.5,198.7" fill="none" stroke="#e8f54a" stroke-width="0.8" stroke-dasharray="31 4" stroke-dashoffset="37"/><path d="M152.5,212.0 L201.8,208.1 L251.2,204.1 L300.5,200.2" fill="none" stroke="#3ee8cf" stroke-width="0.8" stroke-dasharray="39 3" stroke-dashoffset="21"/><path d="M152.5,213.5 L201.8,209.6 L251.2,205.6 L300.5,201.7" fill="none" stroke="#e8f54a" stroke-width="0.8" stroke-dasharray="26 6" stroke-dashoffset="39"/><path d="M152.5,215.0 L201.8,211.1 L251.2,207.1 L300.5,203.2" fill="none" stroke="#3ee8cf" stroke-width="0.8" stroke-dasharray="57 8" stroke-dashoffset="38"/><path d="M152.5,216.5 L201.8,212.6 L251.2,208.6 L300.5,204.7" fill="none" stroke="#e8f54a" stroke-width="0.8" stroke-dasharray="25 3" stroke-dashoffset="14"/><path d="M152.5,218.0 L201.8,214.1 L251.2,210.1 L300.5,206.2" fill="none" stroke="#3ee8cf" stroke-width="0.8" stroke-dasharray="21 8" stroke-dashoffset="15"/><path d="M152.5,219.5 L201.8,215.6 L251.2,211.6 L300.5,207.7" fill="none" stroke="#e8f54a" stroke-width="0.8" stroke-dasharray="45 2" stroke-dashoffset="17"/><path d="M152.5,221.0 L201.8,217.1 L251.2,213.1 L300.5,209.2" fill="none" stroke="#3ee8cf" stroke-width="0.8" stroke-dasharray="55 8" stroke-dashoffset="4"/><path d="M152.5,222.5 L201.8,218.6 L251.2,214.6 L300.5,210.7" fill="none" stroke="#e8f54a" stroke-width="0.8" stroke-dasharray="24 2" stroke-dashoffset="40"/><path d="M152.5,224.0 L201.8,220.1 L251.2,216.1 L300.5,212.2" fill="none" stroke="#3ee8cf" stroke-width="0.8" stroke-dasharray="20 4" stroke-dashoffset="22"/><path d="M152.5,225.5 L201.8,221.6 L251.2,217.6 L300.5,213.7" fill="none" stroke="#e8f54a" stroke-width="0.8" stroke-dasharray="51 5" stroke-dashoffset="9"/><path d="M152.5,227.0 L201.8,223.1 L251.2,219.1 L300.5,215.2" fill="none" stroke="#3ee8cf" stroke-width="0.8" stroke-dasharray="26 6" stroke-dashoffset="20"/><path d="M152.5,228.5 L201.8,224.6 L251.2,220.6 L300.5,216.7" fill="none" stroke="#e8f54a" stroke-width="0.8" stroke-dasharray="24 6" stroke-dashoffset="11"/><path d="M152.5,230.0 L201.8,226.1 L251.2,222.1 L300.5,218.2" fill="none" stroke="#3ee8cf" stroke-width="0.8" stroke-dasharray="31 8" stroke-dashoffset="9"/><path d="M152.5,231.5 L201.8,227.6 L251.2,223.6 L300.5,219.7" fill="none" stroke="#e8f54a" stroke-width="0.8" stroke-dasharray="29 8" stroke-dashoffset="20"/></g>
<g mask="url(#mp1_152)"><g opacity="0.4"><path d="M152.5,0.5 L201.8,-4.4 L251.2,-9.4 L300.5,-14.3" fill="none" stroke="#f2f23a" stroke-width="0.85" stroke-dasharray="10 2" stroke-dashoffset="32"/><path d="M152.5,2.0 L201.8,-2.9 L251.2,-7.9 L300.5,-12.8" fill="none" stroke="#30dce8" stroke-width="0.85" stroke-dasharray="19 6" stroke-dashoffset="18"/><path d="M152.5,3.5 L201.8,-1.4 L251.2,-6.4 L300.5,-11.3" fill="none" stroke="#f2f23a" stroke-width="0.85" stroke-dasharray="8 3" stroke-dashoffset="9"/><path d="M152.5,5.0 L201.8,0.1 L251.2,-4.9 L300.5,-9.8" fill="none" stroke="#30dce8" stroke-width="0.85" stroke-dasharray="14 2" stroke-dashoffset="20"/><path d="M152.5,6.5 L201.8,1.6 L251.2,-3.4 L300.5,-8.3" fill="none" stroke="#f2f23a" stroke-width="0.85" stroke-dasharray="19 6" stroke-dashoffset="35"/><path d="M152.5,8.0 L201.8,3.1 L251.2,-1.9 L300.5,-6.8" fill="none" stroke="#30dce8" stroke-width="0.85" stroke-dasharray="19 3" stroke-dashoffset="11"/><path d="M152.5,9.5 L201.8,4.6 L251.2,-0.4 L300.5,-5.3" fill="none" stroke="#f2f23a" stroke-width="0.85" stroke-dasharray="10 5" stroke-dashoffset="34"/><path d="M152.5,11.0 L201.8,6.1 L251.2,1.1 L300.5,-3.8" fill="none" stroke="#30dce8" stroke-width="0.85" stroke-dasharray="8 2" stroke-dashoffset="15"/><path d="M152.5,12.5 L201.8,7.6 L251.2,2.6 L300.5,-2.3" fill="none" stroke="#f2f23a" stroke-width="0.85" stroke-dasharray="10 2" stroke-dashoffset="28"/><path d="M152.5,14.0 L201.8,9.1 L251.2,4.1 L300.5,-0.8" fill="none" stroke="#30dce8" stroke-width="0.85" stroke-dasharray="18 5" stroke-dashoffset="35"/><path d="M152.5,15.5 L201.8,10.6 L251.2,5.6 L300.5,0.7" fill="none" stroke="#f2f23a" stroke-width="0.85" stroke-dasharray="10 6" stroke-dashoffset="28"/><path d="M152.5,17.0 L201.8,12.1 L251.2,7.1 L300.5,2.2" fill="none" stroke="#30dce8" stroke-width="0.85" stroke-dasharray="19 6" stroke-dashoffset="29"/><path d="M152.5,18.5 L201.8,13.6 L251.2,8.6 L300.5,3.7" fill="none" stroke="#f2f23a" stroke-width="0.85" stroke-dasharray="6 5" stroke-dashoffset="21"/><path d="M152.5,20.0 L201.8,15.1 L251.2,10.1 L300.5,5.2" fill="none" stroke="#30dce8" stroke-width="0.85" stroke-dasharray="8 4" stroke-dashoffset="31"/><path d="M152.5,21.5 L201.8,16.6 L251.2,11.6 L300.5,6.7" fill="none" stroke="#f2f23a" stroke-width="0.85" stroke-dasharray="6 5" stroke-dashoffset="36"/><path d="M152.5,23.0 L201.8,18.1 L251.2,13.1 L300.5,8.2" fill="none" stroke="#30dce8" stroke-width="0.85" stroke-dasharray="6 2" stroke-dashoffset="22"/><path d="M152.5,24.5 L201.8,19.6 L251.2,14.6 L300.5,9.7" fill="none" stroke="#f2f23a" stroke-width="0.85" stroke-dasharray="15 3" stroke-dashoffset="37"/><path d="M152.5,26.0 L201.8,21.1 L251.2,16.1 L300.5,11.2" fill="none" stroke="#30dce8" stroke-width="0.85" stroke-dasharray="8 3" stroke-dashoffset="16"/><path d="M152.5,27.5 L201.8,22.6 L251.2,17.6 L300.5,12.7" fill="none" stroke="#f2f23a" stroke-width="0.85" stroke-dasharray="19 4" stroke-dashoffset="25"/><path d="M152.5,29.0 L201.8,24.1 L251.2,19.1 L300.5,14.2" fill="none" stroke="#30dce8" stroke-width="0.85" stroke-dasharray="15 5" stroke-dashoffset="11"/><path d="M152.5,30.5 L201.8,25.6 L251.2,20.6 L300.5,15.7" fill="none" stroke="#f2f23a" stroke-width="0.85" stroke-dasharray="15 2" stroke-dashoffset="14"/><path d="M152.5,32.0 L201.8,27.1 L251.2,22.1 L300.5,17.2" fill="none" stroke="#30dce8" stroke-width="0.85" stroke-dasharray="13 2" stroke-dashoffset="11"/><path d="M152.5,33.5 L201.8,28.6 L251.2,23.6 L300.5,18.7" fill="none" stroke="#f2f23a" stroke-width="0.85" stroke-dasharray="14 4" stroke-dashoffset="32"/><path d="M152.5,35.0 L201.8,30.1 L251.2,25.1 L300.5,20.2" fill="none" stroke="#30dce8" stroke-width="0.85" stroke-dasharray="20 5" stroke-dashoffset="40"/><path d="M152.5,36.5 L201.8,31.6 L251.2,26.6 L300.5,21.7" fill="none" stroke="#f2f23a" stroke-width="0.85" stroke-dasharray="17 3" stroke-dashoffset="15"/><path d="M152.5,38.0 L201.8,33.1 L251.2,28.1 L300.5,23.2" fill="none" stroke="#30dce8" stroke-width="0.85" stroke-dasharray="11 5" stroke-dashoffset="30"/><path d="M152.5,39.5 L201.8,34.6 L251.2,29.6 L300.5,24.7" fill="none" stroke="#f2f23a" stroke-width="0.85" stroke-dasharray="9 5" stroke-dashoffset="21"/><path d="M152.5,41.0 L201.8,36.1 L251.2,31.1 L300.5,26.2" fill="none" stroke="#30dce8" stroke-width="0.85" stroke-dasharray="14 6" stroke-dashoffset="17"/><path d="M152.5,42.5 L201.8,37.6 L251.2,32.6 L300.5,27.7" fill="none" stroke="#f2f23a" stroke-width="0.85" stroke-dasharray="16 3" stroke-dashoffset="3"/><path d="M152.5,44.0 L201.8,39.1 L251.2,34.1 L300.5,29.2" fill="none" stroke="#30dce8" stroke-width="0.85" stroke-dasharray="20 2" stroke-dashoffset="32"/><path d="M152.5,45.5 L201.8,40.6 L251.2,35.6 L300.5,30.7" fill="none" stroke="#f2f23a" stroke-width="0.85" stroke-dasharray="16 4" stroke-dashoffset="10"/><path d="M152.5,47.0 L201.8,42.1 L251.2,37.1 L300.5,32.2" fill="none" stroke="#30dce8" stroke-width="0.85" stroke-dasharray="14 3" stroke-dashoffset="19"/><path d="M152.5,48.5 L201.8,43.6 L251.2,38.6 L300.5,33.7" fill="none" stroke="#f2f23a" stroke-width="0.85" stroke-dasharray="10 4" stroke-dashoffset="35"/><path d="M152.5,50.0 L201.8,45.1 L251.2,40.1 L300.5,35.2" fill="none" stroke="#30dce8" stroke-width="0.85" stroke-dasharray="11 3" stroke-dashoffset="29"/><path d="M152.5,51.5 L201.8,46.6 L251.2,41.6 L300.5,36.7" fill="none" stroke="#f2f23a" stroke-width="0.85" stroke-dasharray="15 2" stroke-dashoffset="7"/><path d="M152.5,53.0 L201.8,48.1 L251.2,43.1 L300.5,38.2" fill="none" stroke="#30dce8" stroke-width="0.85" stroke-dasharray="20 6" stroke-dashoffset="32"/><path d="M152.5,54.5 L201.8,49.6 L251.2,44.6 L300.5,39.7" fill="none" stroke="#f2f23a" stroke-width="0.85" stroke-dasharray="15 5" stroke-dashoffset="11"/><path d="M152.5,56.0 L201.8,51.1 L251.2,46.1 L300.5,41.2" fill="none" stroke="#30dce8" stroke-width="0.85" stroke-dasharray="8 4" stroke-dashoffset="27"/><path d="M152.5,57.5 L201.8,52.6 L251.2,47.6 L300.5,42.7" fill="none" stroke="#f2f23a" stroke-width="0.85" stroke-dasharray="9 6" stroke-dashoffset="3"/><path d="M152.5,59.0 L201.8,54.1 L251.2,49.1 L300.5,44.2" fill="none" stroke="#30dce8" stroke-width="0.85" stroke-dasharray="13 5" stroke-dashoffset="40"/><path d="M152.5,60.5 L201.8,55.6 L251.2,50.6 L300.5,45.7" fill="none" stroke="#f2f23a" stroke-width="0.85" stroke-dasharray="11 5" stroke-dashoffset="32"/><path d="M152.5,62.0 L201.8,57.1 L251.2,52.1 L300.5,47.2" fill="none" stroke="#30dce8" stroke-width="0.85" stroke-dasharray="19 3" stroke-dashoffset="34"/><path d="M152.5,63.5 L201.8,58.6 L251.2,53.6 L300.5,48.7" fill="none" stroke="#f2f23a" stroke-width="0.85" stroke-dasharray="17 2" stroke-dashoffset="33"/><path d="M152.5,65.0 L201.8,60.1 L251.2,55.1 L300.5,50.2" fill="none" stroke="#30dce8" stroke-width="0.85" stroke-dasharray="7 4" stroke-dashoffset="40"/><path d="M152.5,66.5 L201.8,61.6 L251.2,56.6 L300.5,51.7" fill="none" stroke="#f2f23a" stroke-width="0.85" stroke-dasharray="7 4" stroke-dashoffset="5"/><path d="M152.5,68.0 L201.8,63.1 L251.2,58.1 L300.5,53.2" fill="none" stroke="#30dce8" stroke-width="0.85" stroke-dasharray="8 6" stroke-dashoffset="5"/><path d="M152.5,69.5 L201.8,64.6 L251.2,59.6 L300.5,54.7" fill="none" stroke="#f2f23a" stroke-width="0.85" stroke-dasharray="13 3" stroke-dashoffset="24"/><path d="M152.5,71.0 L201.8,66.1 L251.2,61.1 L300.5,56.2" fill="none" stroke="#30dce8" stroke-width="0.85" stroke-dasharray="18 5" stroke-dashoffset="25"/><path d="M152.5,72.5 L201.8,67.6 L251.2,62.6 L300.5,57.7" fill="none" stroke="#f2f23a" stroke-width="0.85" stroke-dasharray="8 4" stroke-dashoffset="28"/><path d="M152.5,74.0 L201.8,69.1 L251.2,64.1 L300.5,59.2" fill="none" stroke="#30dce8" stroke-width="0.85" stroke-dasharray="8 6" stroke-dashoffset="31"/><path d="M152.5,75.5 L201.8,70.6 L251.2,65.6 L300.5,60.7" fill="none" stroke="#f2f23a" stroke-width="0.85" stroke-dasharray="9 2" stroke-dashoffset="27"/><path d="M152.5,77.0 L201.8,72.1 L251.2,67.1 L300.5,62.2" fill="none" stroke="#30dce8" stroke-width="0.85" stroke-dasharray="15 6" stroke-dashoffset="26"/><path d="M152.5,78.5 L201.8,73.6 L251.2,68.6 L300.5,63.7" fill="none" stroke="#f2f23a" stroke-width="0.85" stroke-dasharray="20 2" stroke-dashoffset="18"/><path d="M152.5,80.0 L201.8,75.1 L251.2,70.1 L300.5,65.2" fill="none" stroke="#30dce8" stroke-width="0.85" stroke-dasharray="10 3" stroke-dashoffset="24"/><path d="M152.5,81.5 L201.8,76.6 L251.2,71.6 L300.5,66.7" fill="none" stroke="#f2f23a" stroke-width="0.85" stroke-dasharray="17 6" stroke-dashoffset="0"/><path d="M152.5,83.0 L201.8,78.1 L251.2,73.1 L300.5,68.2" fill="none" stroke="#30dce8" stroke-width="0.85" stroke-dasharray="9 6" stroke-dashoffset="28"/><path d="M152.5,84.5 L201.8,79.6 L251.2,74.6 L300.5,69.7" fill="none" stroke="#f2f23a" stroke-width="0.85" stroke-dasharray="15 2" stroke-dashoffset="1"/><path d="M152.5,86.0 L201.8,81.1 L251.2,76.1 L300.5,71.2" fill="none" stroke="#30dce8" stroke-width="0.85" stroke-dasharray="16 6" stroke-dashoffset="15"/><path d="M152.5,87.5 L201.8,82.6 L251.2,77.6 L300.5,72.7" fill="none" stroke="#f2f23a" stroke-width="0.85" stroke-dasharray="19 4" stroke-dashoffset="13"/><path d="M152.5,89.0 L201.8,84.1 L251.2,79.1 L300.5,74.2" fill="none" stroke="#30dce8" stroke-width="0.85" stroke-dasharray="8 4" stroke-dashoffset="9"/><path d="M152.5,90.5 L201.8,85.6 L251.2,80.6 L300.5,75.7" fill="none" stroke="#f2f23a" stroke-width="0.85" stroke-dasharray="14 3" stroke-dashoffset="17"/><path d="M152.5,92.0 L201.8,87.1 L251.2,82.1 L300.5,77.2" fill="none" stroke="#30dce8" stroke-width="0.85" stroke-dasharray="10 6" stroke-dashoffset="16"/><path d="M152.5,93.5 L201.8,88.6 L251.2,83.6 L300.5,78.7" fill="none" stroke="#f2f23a" stroke-width="0.85" stroke-dasharray="19 5" stroke-dashoffset="10"/><path d="M152.5,95.0 L201.8,90.1 L251.2,85.1 L300.5,80.2" fill="none" stroke="#30dce8" stroke-width="0.85" stroke-dasharray="14 4" stroke-dashoffset="31"/><path d="M152.5,96.5 L201.8,91.6 L251.2,86.6 L300.5,81.7" fill="none" stroke="#f2f23a" stroke-width="0.85" stroke-dasharray="12 2" stroke-dashoffset="13"/><path d="M152.5,98.0 L201.8,93.1 L251.2,88.1 L300.5,83.2" fill="none" stroke="#30dce8" stroke-width="0.85" stroke-dasharray="15 5" stroke-dashoffset="13"/><path d="M152.5,99.5 L201.8,94.6 L251.2,89.6 L300.5,84.7" fill="none" stroke="#f2f23a" stroke-width="0.85" stroke-dasharray="10 2" stroke-dashoffset="1"/><path d="M152.5,101.0 L201.8,96.1 L251.2,91.1 L300.5,86.2" fill="none" stroke="#30dce8" stroke-width="0.85" stroke-dasharray="7 6" stroke-dashoffset="0"/><path d="M152.5,102.5 L201.8,97.6 L251.2,92.6 L300.5,87.7" fill="none" stroke="#f2f23a" stroke-width="0.85" stroke-dasharray="14 4" stroke-dashoffset="8"/><path d="M152.5,104.0 L201.8,99.1 L251.2,94.1 L300.5,89.2" fill="none" stroke="#30dce8" stroke-width="0.85" stroke-dasharray="7 6" stroke-dashoffset="23"/><path d="M152.5,105.5 L201.8,100.6 L251.2,95.6 L300.5,90.7" fill="none" stroke="#f2f23a" stroke-width="0.85" stroke-dasharray="15 4" stroke-dashoffset="27"/><path d="M152.5,107.0 L201.8,102.1 L251.2,97.1 L300.5,92.2" fill="none" stroke="#30dce8" stroke-width="0.85" stroke-dasharray="14 4" stroke-dashoffset="33"/><path d="M152.5,108.5 L201.8,103.6 L251.2,98.6 L300.5,93.7" fill="none" stroke="#f2f23a" stroke-width="0.85" stroke-dasharray="11 2" stroke-dashoffset="7"/><path d="M152.5,110.0 L201.8,105.1 L251.2,100.1 L300.5,95.2" fill="none" stroke="#30dce8" stroke-width="0.85" stroke-dasharray="13 5" stroke-dashoffset="22"/><path d="M152.5,111.5 L201.8,106.6 L251.2,101.6 L300.5,96.7" fill="none" stroke="#f2f23a" stroke-width="0.85" stroke-dasharray="10 6" stroke-dashoffset="25"/><path d="M152.5,113.0 L201.8,108.1 L251.2,103.1 L300.5,98.2" fill="none" stroke="#30dce8" stroke-width="0.85" stroke-dasharray="11 6" stroke-dashoffset="31"/><path d="M152.5,114.5 L201.8,109.6 L251.2,104.6 L300.5,99.7" fill="none" stroke="#f2f23a" stroke-width="0.85" stroke-dasharray="7 5" stroke-dashoffset="24"/><path d="M152.5,116.0 L201.8,111.1 L251.2,106.1 L300.5,101.2" fill="none" stroke="#30dce8" stroke-width="0.85" stroke-dasharray="9 6" stroke-dashoffset="0"/><path d="M152.5,117.5 L201.8,112.6 L251.2,107.6 L300.5,102.7" fill="none" stroke="#f2f23a" stroke-width="0.85" stroke-dasharray="10 6" stroke-dashoffset="32"/><path d="M152.5,119.0 L201.8,114.1 L251.2,109.1 L300.5,104.2" fill="none" stroke="#30dce8" stroke-width="0.85" stroke-dasharray="9 5" stroke-dashoffset="38"/><path d="M152.5,120.5 L201.8,115.6 L251.2,110.6 L300.5,105.7" fill="none" stroke="#f2f23a" stroke-width="0.85" stroke-dasharray="19 6" stroke-dashoffset="26"/><path d="M152.5,122.0 L201.8,117.1 L251.2,112.1 L300.5,107.2" fill="none" stroke="#30dce8" stroke-width="0.85" stroke-dasharray="20 4" stroke-dashoffset="10"/><path d="M152.5,123.5 L201.8,118.6 L251.2,113.6 L300.5,108.7" fill="none" stroke="#f2f23a" stroke-width="0.85" stroke-dasharray="13 6" stroke-dashoffset="33"/><path d="M152.5,125.0 L201.8,120.1 L251.2,115.1 L300.5,110.2" fill="none" stroke="#30dce8" stroke-width="0.85" stroke-dasharray="9 4" stroke-dashoffset="33"/><path d="M152.5,126.5 L201.8,121.6 L251.2,116.6 L300.5,111.7" fill="none" stroke="#f2f23a" stroke-width="0.85" stroke-dasharray="6 5" stroke-dashoffset="37"/><path d="M152.5,128.0 L201.8,123.1 L251.2,118.1 L300.5,113.2" fill="none" stroke="#30dce8" stroke-width="0.85" stroke-dasharray="12 5" stroke-dashoffset="21"/><path d="M152.5,129.5 L201.8,124.6 L251.2,119.6 L300.5,114.7" fill="none" stroke="#f2f23a" stroke-width="0.85" stroke-dasharray="19 6" stroke-dashoffset="37"/><path d="M152.5,131.0 L201.8,126.1 L251.2,121.1 L300.5,116.2" fill="none" stroke="#30dce8" stroke-width="0.85" stroke-dasharray="17 2" stroke-dashoffset="31"/><path d="M152.5,132.5 L201.8,127.6 L251.2,122.6 L300.5,117.7" fill="none" stroke="#f2f23a" stroke-width="0.85" stroke-dasharray="17 3" stroke-dashoffset="40"/><path d="M152.5,134.0 L201.8,129.1 L251.2,124.1 L300.5,119.2" fill="none" stroke="#30dce8" stroke-width="0.85" stroke-dasharray="16 4" stroke-dashoffset="40"/><path d="M152.5,135.5 L201.8,130.6 L251.2,125.6 L300.5,120.7" fill="none" stroke="#f2f23a" stroke-width="0.85" stroke-dasharray="6 5" stroke-dashoffset="40"/><path d="M152.5,137.0 L201.8,132.1 L251.2,127.1 L300.5,122.2" fill="none" stroke="#30dce8" stroke-width="0.85" stroke-dasharray="8 5" stroke-dashoffset="17"/><path d="M152.5,138.5 L201.8,133.6 L251.2,128.6 L300.5,123.7" fill="none" stroke="#f2f23a" stroke-width="0.85" stroke-dasharray="19 3" stroke-dashoffset="4"/><path d="M152.5,140.0 L201.8,135.1 L251.2,130.1 L300.5,125.2" fill="none" stroke="#30dce8" stroke-width="0.85" stroke-dasharray="19 6" stroke-dashoffset="0"/><path d="M152.5,141.5 L201.8,136.6 L251.2,131.6 L300.5,126.7" fill="none" stroke="#f2f23a" stroke-width="0.85" stroke-dasharray="11 4" stroke-dashoffset="26"/><path d="M152.5,143.0 L201.8,138.1 L251.2,133.1 L300.5,128.2" fill="none" stroke="#30dce8" stroke-width="0.85" stroke-dasharray="19 6" stroke-dashoffset="19"/><path d="M152.5,144.5 L201.8,139.6 L251.2,134.6 L300.5,129.7" fill="none" stroke="#f2f23a" stroke-width="0.85" stroke-dasharray="8 5" stroke-dashoffset="16"/><path d="M152.5,146.0 L201.8,141.1 L251.2,136.1 L300.5,131.2" fill="none" stroke="#30dce8" stroke-width="0.85" stroke-dasharray="13 3" stroke-dashoffset="29"/><path d="M152.5,147.5 L201.8,142.6 L251.2,137.6 L300.5,132.7" fill="none" stroke="#f2f23a" stroke-width="0.85" stroke-dasharray="14 2" stroke-dashoffset="17"/><path d="M152.5,149.0 L201.8,144.1 L251.2,139.1 L300.5,134.2" fill="none" stroke="#30dce8" stroke-width="0.85" stroke-dasharray="14 2" stroke-dashoffset="37"/><path d="M152.5,150.5 L201.8,145.6 L251.2,140.6 L300.5,135.7" fill="none" stroke="#f2f23a" stroke-width="0.85" stroke-dasharray="12 2" stroke-dashoffset="22"/><path d="M152.5,152.0 L201.8,147.1 L251.2,142.1 L300.5,137.2" fill="none" stroke="#30dce8" stroke-width="0.85" stroke-dasharray="7 5" stroke-dashoffset="1"/><path d="M152.5,153.5 L201.8,148.6 L251.2,143.6 L300.5,138.7" fill="none" stroke="#f2f23a" stroke-width="0.85" stroke-dasharray="8 6" stroke-dashoffset="10"/><path d="M152.5,155.0 L201.8,150.1 L251.2,145.1 L300.5,140.2" fill="none" stroke="#30dce8" stroke-width="0.85" stroke-dasharray="17 2" stroke-dashoffset="25"/><path d="M152.5,156.5 L201.8,151.6 L251.2,146.6 L300.5,141.7" fill="none" stroke="#f2f23a" stroke-width="0.85" stroke-dasharray="16 4" stroke-dashoffset="38"/><path d="M152.5,158.0 L201.8,153.1 L251.2,148.1 L300.5,143.2" fill="none" stroke="#30dce8" stroke-width="0.85" stroke-dasharray="10 3" stroke-dashoffset="33"/><path d="M152.5,159.5 L201.8,154.6 L251.2,149.6 L300.5,144.7" fill="none" stroke="#f2f23a" stroke-width="0.85" stroke-dasharray="9 3" stroke-dashoffset="21"/><path d="M152.5,161.0 L201.8,156.1 L251.2,151.1 L300.5,146.2" fill="none" stroke="#30dce8" stroke-width="0.85" stroke-dasharray="10 2" stroke-dashoffset="4"/><path d="M152.5,162.5 L201.8,157.6 L251.2,152.6 L300.5,147.7" fill="none" stroke="#f2f23a" stroke-width="0.85" stroke-dasharray="17 6" stroke-dashoffset="23"/><path d="M152.5,164.0 L201.8,159.1 L251.2,154.1 L300.5,149.2" fill="none" stroke="#30dce8" stroke-width="0.85" stroke-dasharray="13 6" stroke-dashoffset="35"/><path d="M152.5,165.5 L201.8,160.6 L251.2,155.6 L300.5,150.7" fill="none" stroke="#f2f23a" stroke-width="0.85" stroke-dasharray="17 2" stroke-dashoffset="10"/><path d="M152.5,167.0 L201.8,162.1 L251.2,157.1 L300.5,152.2" fill="none" stroke="#30dce8" stroke-width="0.85" stroke-dasharray="10 6" stroke-dashoffset="17"/><path d="M152.5,168.5 L201.8,163.6 L251.2,158.6 L300.5,153.7" fill="none" stroke="#f2f23a" stroke-width="0.85" stroke-dasharray="11 6" stroke-dashoffset="14"/><path d="M152.5,170.0 L201.8,165.1 L251.2,160.1 L300.5,155.2" fill="none" stroke="#30dce8" stroke-width="0.85" stroke-dasharray="12 6" stroke-dashoffset="25"/><path d="M152.5,171.5 L201.8,166.6 L251.2,161.6 L300.5,156.7" fill="none" stroke="#f2f23a" stroke-width="0.85" stroke-dasharray="8 5" stroke-dashoffset="16"/><path d="M152.5,173.0 L201.8,168.1 L251.2,163.1 L300.5,158.2" fill="none" stroke="#30dce8" stroke-width="0.85" stroke-dasharray="19 6" stroke-dashoffset="21"/><path d="M152.5,174.5 L201.8,169.6 L251.2,164.6 L300.5,159.7" fill="none" stroke="#f2f23a" stroke-width="0.85" stroke-dasharray="17 3" stroke-dashoffset="16"/><path d="M152.5,176.0 L201.8,171.1 L251.2,166.1 L300.5,161.2" fill="none" stroke="#30dce8" stroke-width="0.85" stroke-dasharray="15 3" stroke-dashoffset="1"/><path d="M152.5,177.5 L201.8,172.6 L251.2,167.6 L300.5,162.7" fill="none" stroke="#f2f23a" stroke-width="0.85" stroke-dasharray="19 6" stroke-dashoffset="25"/><path d="M152.5,179.0 L201.8,174.1 L251.2,169.1 L300.5,164.2" fill="none" stroke="#30dce8" stroke-width="0.85" stroke-dasharray="11 5" stroke-dashoffset="15"/><path d="M152.5,180.5 L201.8,175.6 L251.2,170.6 L300.5,165.7" fill="none" stroke="#f2f23a" stroke-width="0.85" stroke-dasharray="18 4" stroke-dashoffset="12"/><path d="M152.5,182.0 L201.8,177.1 L251.2,172.1 L300.5,167.2" fill="none" stroke="#30dce8" stroke-width="0.85" stroke-dasharray="7 3" stroke-dashoffset="37"/><path d="M152.5,183.5 L201.8,178.6 L251.2,173.6 L300.5,168.7" fill="none" stroke="#f2f23a" stroke-width="0.85" stroke-dasharray="13 6" stroke-dashoffset="9"/><path d="M152.5,185.0 L201.8,180.1 L251.2,175.1 L300.5,170.2" fill="none" stroke="#30dce8" stroke-width="0.85" stroke-dasharray="15 4" stroke-dashoffset="29"/><path d="M152.5,186.5 L201.8,181.6 L251.2,176.6 L300.5,171.7" fill="none" stroke="#f2f23a" stroke-width="0.85" stroke-dasharray="14 3" stroke-dashoffset="8"/><path d="M152.5,188.0 L201.8,183.1 L251.2,178.1 L300.5,173.2" fill="none" stroke="#30dce8" stroke-width="0.85" stroke-dasharray="18 3" stroke-dashoffset="28"/><path d="M152.5,189.5 L201.8,184.6 L251.2,179.6 L300.5,174.7" fill="none" stroke="#f2f23a" stroke-width="0.85" stroke-dasharray="11 4" stroke-dashoffset="25"/><path d="M152.5,191.0 L201.8,186.1 L251.2,181.1 L300.5,176.2" fill="none" stroke="#30dce8" stroke-width="0.85" stroke-dasharray="9 2" stroke-dashoffset="13"/><path d="M152.5,192.5 L201.8,187.6 L251.2,182.6 L300.5,177.7" fill="none" stroke="#f2f23a" stroke-width="0.85" stroke-dasharray="17 4" stroke-dashoffset="4"/><path d="M152.5,194.0 L201.8,189.1 L251.2,184.1 L300.5,179.2" fill="none" stroke="#30dce8" stroke-width="0.85" stroke-dasharray="7 3" stroke-dashoffset="25"/><path d="M152.5,195.5 L201.8,190.6 L251.2,185.6 L300.5,180.7" fill="none" stroke="#f2f23a" stroke-width="0.85" stroke-dasharray="11 5" stroke-dashoffset="6"/><path d="M152.5,197.0 L201.8,192.1 L251.2,187.1 L300.5,182.2" fill="none" stroke="#30dce8" stroke-width="0.85" stroke-dasharray="8 2" stroke-dashoffset="3"/><path d="M152.5,198.5 L201.8,193.6 L251.2,188.6 L300.5,183.7" fill="none" stroke="#f2f23a" stroke-width="0.85" stroke-dasharray="18 6" stroke-dashoffset="1"/><path d="M152.5,200.0 L201.8,195.1 L251.2,190.1 L300.5,185.2" fill="none" stroke="#30dce8" stroke-width="0.85" stroke-dasharray="20 3" stroke-dashoffset="2"/><path d="M152.5,201.5 L201.8,196.6 L251.2,191.6 L300.5,186.7" fill="none" stroke="#f2f23a" stroke-width="0.85" stroke-dasharray="13 6" stroke-dashoffset="39"/><path d="M152.5,203.0 L201.8,198.1 L251.2,193.1 L300.5,188.2" fill="none" stroke="#30dce8" stroke-width="0.85" stroke-dasharray="13 4" stroke-dashoffset="17"/><path d="M152.5,204.5 L201.8,199.6 L251.2,194.6 L300.5,189.7" fill="none" stroke="#f2f23a" stroke-width="0.85" stroke-dasharray="7 6" stroke-dashoffset="11"/><path d="M152.5,206.0 L201.8,201.1 L251.2,196.1 L300.5,191.2" fill="none" stroke="#30dce8" stroke-width="0.85" stroke-dasharray="7 3" stroke-dashoffset="25"/><path d="M152.5,207.5 L201.8,202.6 L251.2,197.6 L300.5,192.7" fill="none" stroke="#f2f23a" stroke-width="0.85" stroke-dasharray="9 5" stroke-dashoffset="28"/><path d="M152.5,209.0 L201.8,204.1 L251.2,199.1 L300.5,194.2" fill="none" stroke="#30dce8" stroke-width="0.85" stroke-dasharray="12 3" stroke-dashoffset="14"/><path d="M152.5,210.5 L201.8,205.6 L251.2,200.6 L300.5,195.7" fill="none" stroke="#f2f23a" stroke-width="0.85" stroke-dasharray="9 4" stroke-dashoffset="29"/><path d="M152.5,212.0 L201.8,207.1 L251.2,202.1 L300.5,197.2" fill="none" stroke="#30dce8" stroke-width="0.85" stroke-dasharray="14 6" stroke-dashoffset="24"/></g></g>
<path d="M152.5,15.5 L188.5,15.1" fill="none" stroke="#2a5ad8" stroke-width="1.25" opacity="0.9"/>
<path d="M152.5,17.2 L184.3,15.1" fill="none" stroke="#e0582a" stroke-width="1.25" opacity="0.8400000000000001"/>
<path d="M152.5,19.0 L180.1,16.7" fill="none" stroke="#2f7ae0" stroke-width="1.25" opacity="0.78"/>
<path d="M152.5,20.8 L175.9,18.5" fill="none" stroke="#d8402a" stroke-width="1.25" opacity="0.72"/>
<path d="M152.5,22.5 L171.7,20.4" fill="none" stroke="#3a8ad8" stroke-width="1.25" opacity="0.66"/>
<path d="M152.5,24.2 L167.5,22.4" fill="none" stroke="#e8902a" stroke-width="1.25" opacity="0.6000000000000001"/>
<path d="M152.5,26.0 L163.3,24.6" fill="none" stroke="#40a0e0" stroke-width="1.25" opacity="0.54"/>
<path d="M152.5,15.2 L212.5,15.1" fill="none" stroke="#2a5ad8" stroke-width="1.0" opacity="0.6"/>
<path d="M192.5,15.3 L300.5,15.1" fill="none" stroke="#e8e040" stroke-width="1.0" opacity="0.45"/>
<path d="M152.5,79.4 L167.3,77.0 L182.1,74.6 L196.9,72.2 L211.7,69.9 L226.5,67.7 L241.3,65.4 L256.1,63.2 L270.9,61.1 L285.7,59.0 L300.5,56.9" fill="none" stroke="#f2c83a" stroke-width="1.0" opacity="0.85" stroke-dasharray="5 3" stroke-dashoffset="0"/>
<path d="M152.5,88.6 L167.3,86.2 L182.1,83.8 L196.9,81.4 L211.7,79.1 L226.5,76.8 L241.3,74.6 L256.1,72.4 L270.9,70.3 L285.7,68.2 L300.5,66.1" fill="none" stroke="#f2c83a" stroke-width="1.0" opacity="0.85" stroke-dasharray="5 3" stroke-dashoffset="0"/>
<path d="M152.5,82.5 L167.3,80.1 L182.1,77.7 L196.9,75.3 L211.7,73.0 L226.5,70.8 L241.3,68.5 L256.1,66.3 L270.9,64.2 L285.7,62.1 L300.5,60.0" fill="none" stroke="#2ed2ec" stroke-width="1.2" opacity="0.95"/>
<path d="M152.5,85.5 L167.3,83.1 L182.1,80.7 L196.9,78.3 L211.7,76.0 L226.5,73.8 L241.3,71.5 L256.1,69.3 L270.9,67.2 L285.7,65.1 L300.5,63.0" fill="none" stroke="#2ed2ec" stroke-width="1.2" opacity="0.95"/>
<path d="M152.5,81.0 L167.3,78.6 L182.1,76.2 L196.9,73.8 L211.7,71.5 L226.5,69.2 L241.3,67.0 L256.1,64.8 L270.9,62.7 L285.7,60.6 L300.5,58.5" fill="none" stroke="#a83848" stroke-width="1.3" stroke-dasharray="3.0 3.0" stroke-dashoffset="0.0" opacity="0.95"/><path d="M152.5,81.0 L167.3,78.6 L182.1,76.2 L196.9,73.8 L211.7,71.5 L226.5,69.2 L241.3,67.0 L256.1,64.8 L270.9,62.7 L285.7,60.6 L300.5,58.5" fill="none" stroke="#4040b0" stroke-width="1.3" stroke-dasharray="3.0 3.0" stroke-dashoffset="3.0" opacity="0.95"/>
<path d="M152.5,84.0 L167.3,81.6 L182.1,79.2 L196.9,76.8 L211.7,74.5 L226.5,72.2 L241.3,70.0 L256.1,67.8 L270.9,65.7 L285.7,63.6 L300.5,61.5" fill="none" stroke="#a83848" stroke-width="1.15" stroke-dasharray="3.0 3.0" stroke-dashoffset="1.5" opacity="0.7"/><path d="M152.5,84.0 L167.3,81.6 L182.1,79.2 L196.9,76.8 L211.7,74.5 L226.5,72.2 L241.3,70.0 L256.1,67.8 L270.9,65.7 L285.7,63.6 L300.5,61.5" fill="none" stroke="#4040b0" stroke-width="1.15" stroke-dasharray="3.0 3.0" stroke-dashoffset="4.5" opacity="0.7"/>
<path d="M152.5,87.0 L167.3,84.6 L182.1,82.2 L196.9,79.8 L211.7,77.5 L226.5,75.2 L241.3,73.0 L256.1,70.8 L270.9,68.7 L285.7,66.6 L300.5,64.5" fill="none" stroke="#a83848" stroke-width="1.15" stroke-dasharray="3.0 3.0" stroke-dashoffset="3.0" opacity="0.7"/><path d="M152.5,87.0 L167.3,84.6 L182.1,82.2 L196.9,79.8 L211.7,77.5 L226.5,75.2 L241.3,73.0 L256.1,70.8 L270.9,68.7 L285.7,66.6 L300.5,64.5" fill="none" stroke="#4040b0" stroke-width="1.15" stroke-dasharray="3.0 3.0" stroke-dashoffset="6.0" opacity="0.7"/>
<path d="M152.5,92.8 L164.8,90.8 L177.2,88.8 L189.5,86.8 L201.8,84.9 L214.2,82.9 L226.5,81.0" fill="none" stroke="#35d8e6" stroke-width="1.0" opacity="0.8"/>
<path d="M152.5,91.5 L162.8,89.8 L173.2,88.1 L183.5,86.5 L193.8,84.8 L204.2,83.2 L214.5,81.6" fill="none" stroke="#b03a30" stroke-width="1.25" stroke-dasharray="2.8 2.8" stroke-dashoffset="0" opacity="0.85"/><path d="M152.5,91.5 L162.8,89.8 L173.2,88.1 L183.5,86.5 L193.8,84.8 L204.2,83.2 L214.5,81.6" fill="none" stroke="#3444b0" stroke-width="1.25" stroke-dasharray="2.8 2.8" stroke-dashoffset="2.8" opacity="0.85"/>
<path d="M152.5,95.3 L164.0,93.4 L175.5,91.5 L187.0,89.7 L198.5,87.9 L210.0,86.1 L221.5,84.3" fill="none" stroke="#35d8e6" stroke-width="1.0" opacity="0.8"/>
<path d="M152.5,94.0 L162.0,92.4 L171.5,90.9 L181.0,89.4 L190.5,87.8 L200.0,86.3 L209.5,84.9" fill="none" stroke="#b03a30" stroke-width="1.25" stroke-dasharray="2.8 2.8" stroke-dashoffset="1" opacity="0.85"/><path d="M152.5,94.0 L162.0,92.4 L171.5,90.9 L181.0,89.4 L190.5,87.8 L200.0,86.3 L209.5,84.9" fill="none" stroke="#3444b0" stroke-width="1.25" stroke-dasharray="2.8 2.8" stroke-dashoffset="3.8" opacity="0.85"/>
<path d="M152.5,97.8 L163.2,96.0 L173.8,94.3 L184.5,92.6 L195.2,90.9 L205.8,89.2 L216.5,87.6" fill="none" stroke="#35d8e6" stroke-width="1.0" opacity="0.8"/>
<path d="M152.5,96.5 L161.2,95.1 L169.8,93.7 L178.5,92.3 L187.2,90.9 L195.8,89.5 L204.5,88.1" fill="none" stroke="#b03a30" stroke-width="1.25" stroke-dasharray="2.8 2.8" stroke-dashoffset="2" opacity="0.85"/><path d="M152.5,96.5 L161.2,95.1 L169.8,93.7 L178.5,92.3 L187.2,90.9 L195.8,89.5 L204.5,88.1" fill="none" stroke="#3444b0" stroke-width="1.25" stroke-dasharray="2.8 2.8" stroke-dashoffset="4.8" opacity="0.85"/>
<path d="M152.5,100.3 L162.3,98.7 L172.2,97.1 L182.0,95.5 L191.8,93.9 L201.7,92.4 L211.5,90.9" fill="none" stroke="#35d8e6" stroke-width="1.0" opacity="0.8"/>
<path d="M152.5,99.0 L160.3,97.7 L168.2,96.4 L176.0,95.2 L183.8,93.9 L191.7,92.7 L199.5,91.4" fill="none" stroke="#b03a30" stroke-width="1.25" stroke-dasharray="2.8 2.8" stroke-dashoffset="3" opacity="0.85"/><path d="M152.5,99.0 L160.3,97.7 L168.2,96.4 L176.0,95.2 L183.8,93.9 L191.7,92.7 L199.5,91.4" fill="none" stroke="#3444b0" stroke-width="1.25" stroke-dasharray="2.8 2.8" stroke-dashoffset="5.8" opacity="0.85"/>
<path d="M152.5,102.8 L161.5,101.3 L170.5,99.8 L179.5,98.4 L188.5,97.0 L197.5,95.5 L206.5,94.1" fill="none" stroke="#35d8e6" stroke-width="1.0" opacity="0.8"/>
<path d="M152.5,101.5 L159.5,100.3 L166.5,99.2 L173.5,98.1 L180.5,96.9 L187.5,95.8 L194.5,94.7" fill="none" stroke="#b03a30" stroke-width="1.25" stroke-dasharray="2.8 2.8" stroke-dashoffset="4" opacity="0.85"/><path d="M152.5,101.5 L159.5,100.3 L166.5,99.2 L173.5,98.1 L180.5,96.9 L187.5,95.8 L194.5,94.7" fill="none" stroke="#3444b0" stroke-width="1.25" stroke-dasharray="2.8 2.8" stroke-dashoffset="6.8" opacity="0.85"/>
<path d="M152.5,169.5 L182.5,167.5" fill="none" stroke="#d07030" stroke-width="0.9" stroke-dasharray="2.0 2.0" stroke-dashoffset="0" opacity="0.6"/><path d="M152.5,169.5 L182.5,167.5" fill="none" stroke="#5a7fd0" stroke-width="0.9" stroke-dasharray="2.0 2.0" stroke-dashoffset="2.0" opacity="0.6"/></g></g>
<g clip-path="url(#pc366)"><g filter="url(#pblur)"><rect x="366.0" y="14.5" width="148" height="198" fill="#82f47c"/>
<g opacity="0.2"><path d="M366.0,4.5 L415.3,2.0 L464.7,-0.4 L514.0,-2.9" fill="none" stroke="#e8f54a" stroke-width="0.8" stroke-dasharray="4 2" stroke-dashoffset="5"/><path d="M366.0,6.0 L415.3,3.5 L464.7,1.1 L514.0,-1.4" fill="none" stroke="#3ee8cf" stroke-width="0.8" stroke-dasharray="9 3" stroke-dashoffset="19"/><path d="M366.0,7.5 L415.3,5.0 L464.7,2.6 L514.0,0.1" fill="none" stroke="#e8f54a" stroke-width="0.8" stroke-dasharray="8 6" stroke-dashoffset="13"/><path d="M366.0,9.0 L415.3,6.5 L464.7,4.1 L514.0,1.6" fill="none" stroke="#3ee8cf" stroke-width="0.8" stroke-dasharray="13 2" stroke-dashoffset="37"/><path d="M366.0,10.5 L415.3,8.0 L464.7,5.6 L514.0,3.1" fill="none" stroke="#e8f54a" stroke-width="0.8" stroke-dasharray="14 3" stroke-dashoffset="27"/><path d="M366.0,12.0 L415.3,9.5 L464.7,7.1 L514.0,4.6" fill="none" stroke="#3ee8cf" stroke-width="0.8" stroke-dasharray="14 5" stroke-dashoffset="32"/><path d="M366.0,13.5 L415.3,11.0 L464.7,8.6 L514.0,6.1" fill="none" stroke="#e8f54a" stroke-width="0.8" stroke-dasharray="9 6" stroke-dashoffset="28"/><path d="M366.0,15.0 L415.3,12.5 L464.7,10.1 L514.0,7.6" fill="none" stroke="#3ee8cf" stroke-width="0.8" stroke-dasharray="12 4" stroke-dashoffset="2"/><path d="M366.0,16.5 L415.3,14.0 L464.7,11.6 L514.0,9.1" fill="none" stroke="#e8f54a" stroke-width="0.8" stroke-dasharray="4 4" stroke-dashoffset="29"/><path d="M366.0,18.0 L415.3,15.5 L464.7,13.1 L514.0,10.6" fill="none" stroke="#3ee8cf" stroke-width="0.8" stroke-dasharray="9 5" stroke-dashoffset="27"/><path d="M366.0,19.5 L415.3,17.0 L464.7,14.6 L514.0,12.1" fill="none" stroke="#e8f54a" stroke-width="0.8" stroke-dasharray="12 3" stroke-dashoffset="35"/><path d="M366.0,21.0 L415.3,18.5 L464.7,16.1 L514.0,13.6" fill="none" stroke="#3ee8cf" stroke-width="0.8" stroke-dasharray="6 3" stroke-dashoffset="14"/><path d="M366.0,22.5 L415.3,20.0 L464.7,17.6 L514.0,15.1" fill="none" stroke="#e8f54a" stroke-width="0.8" stroke-dasharray="4 3" stroke-dashoffset="20"/><path d="M366.0,24.0 L415.3,21.5 L464.7,19.1 L514.0,16.6" fill="none" stroke="#3ee8cf" stroke-width="0.8" stroke-dasharray="6 3" stroke-dashoffset="32"/><path d="M366.0,25.5 L415.3,23.0 L464.7,20.6 L514.0,18.1" fill="none" stroke="#e8f54a" stroke-width="0.8" stroke-dasharray="12 4" stroke-dashoffset="32"/><path d="M366.0,27.0 L415.3,24.5 L464.7,22.1 L514.0,19.6" fill="none" stroke="#3ee8cf" stroke-width="0.8" stroke-dasharray="14 6" stroke-dashoffset="11"/><path d="M366.0,28.5 L415.3,26.0 L464.7,23.6 L514.0,21.1" fill="none" stroke="#e8f54a" stroke-width="0.8" stroke-dasharray="11 5" stroke-dashoffset="33"/><path d="M366.0,30.0 L415.3,27.5 L464.7,25.1 L514.0,22.6" fill="none" stroke="#3ee8cf" stroke-width="0.8" stroke-dasharray="9 6" stroke-dashoffset="22"/><path d="M366.0,31.5 L415.3,29.0 L464.7,26.6 L514.0,24.1" fill="none" stroke="#e8f54a" stroke-width="0.8" stroke-dasharray="9 5" stroke-dashoffset="10"/><path d="M366.0,33.0 L415.3,30.5 L464.7,28.1 L514.0,25.6" fill="none" stroke="#3ee8cf" stroke-width="0.8" stroke-dasharray="10 5" stroke-dashoffset="33"/><path d="M366.0,34.5 L415.3,32.0 L464.7,29.6 L514.0,27.1" fill="none" stroke="#e8f54a" stroke-width="0.8" stroke-dasharray="7 5" stroke-dashoffset="17"/><path d="M366.0,36.0 L415.3,33.5 L464.7,31.1 L514.0,28.6" fill="none" stroke="#3ee8cf" stroke-width="0.8" stroke-dasharray="11 6" stroke-dashoffset="32"/><path d="M366.0,37.5 L415.3,35.0 L464.7,32.6 L514.0,30.1" fill="none" stroke="#e8f54a" stroke-width="0.8" stroke-dasharray="9 5" stroke-dashoffset="29"/><path d="M366.0,39.0 L415.3,36.5 L464.7,34.1 L514.0,31.6" fill="none" stroke="#3ee8cf" stroke-width="0.8" stroke-dasharray="9 6" stroke-dashoffset="35"/><path d="M366.0,40.5 L415.3,38.0 L464.7,35.6 L514.0,33.1" fill="none" stroke="#e8f54a" stroke-width="0.8" stroke-dasharray="11 5" stroke-dashoffset="14"/><path d="M366.0,42.0 L415.3,39.5 L464.7,37.1 L514.0,34.6" fill="none" stroke="#3ee8cf" stroke-width="0.8" stroke-dasharray="9 3" stroke-dashoffset="39"/><path d="M366.0,43.5 L415.3,41.0 L464.7,38.6 L514.0,36.1" fill="none" stroke="#e8f54a" stroke-width="0.8" stroke-dasharray="8 5" stroke-dashoffset="19"/><path d="M366.0,45.0 L415.3,42.5 L464.7,40.1 L514.0,37.6" fill="none" stroke="#3ee8cf" stroke-width="0.8" stroke-dasharray="8 6" stroke-dashoffset="35"/><path d="M366.0,46.5 L415.3,44.0 L464.7,41.6 L514.0,39.1" fill="none" stroke="#e8f54a" stroke-width="0.8" stroke-dasharray="12 6" stroke-dashoffset="39"/><path d="M366.0,48.0 L415.3,45.5 L464.7,43.1 L514.0,40.6" fill="none" stroke="#3ee8cf" stroke-width="0.8" stroke-dasharray="13 5" stroke-dashoffset="19"/><path d="M366.0,49.5 L415.3,47.0 L464.7,44.6 L514.0,42.1" fill="none" stroke="#e8f54a" stroke-width="0.8" stroke-dasharray="7 5" stroke-dashoffset="32"/><path d="M366.0,51.0 L415.3,48.5 L464.7,46.1 L514.0,43.6" fill="none" stroke="#3ee8cf" stroke-width="0.8" stroke-dasharray="9 6" stroke-dashoffset="4"/><path d="M366.0,52.5 L415.3,50.0 L464.7,47.6 L514.0,45.1" fill="none" stroke="#e8f54a" stroke-width="0.8" stroke-dasharray="9 2" stroke-dashoffset="12"/><path d="M366.0,54.0 L415.3,51.5 L464.7,49.1 L514.0,46.6" fill="none" stroke="#3ee8cf" stroke-width="0.8" stroke-dasharray="5 2" stroke-dashoffset="36"/><path d="M366.0,55.5 L415.3,53.0 L464.7,50.6 L514.0,48.1" fill="none" stroke="#e8f54a" stroke-width="0.8" stroke-dasharray="14 2" stroke-dashoffset="17"/><path d="M366.0,57.0 L415.3,54.5 L464.7,52.1 L514.0,49.6" fill="none" stroke="#3ee8cf" stroke-width="0.8" stroke-dasharray="13 3" stroke-dashoffset="6"/><path d="M366.0,58.5 L415.3,56.0 L464.7,53.6 L514.0,51.1" fill="none" stroke="#e8f54a" stroke-width="0.8" stroke-dasharray="12 3" stroke-dashoffset="17"/><path d="M366.0,60.0 L415.3,57.5 L464.7,55.1 L514.0,52.6" fill="none" stroke="#3ee8cf" stroke-width="0.8" stroke-dasharray="7 3" stroke-dashoffset="3"/><path d="M366.0,61.5 L415.3,59.0 L464.7,56.6 L514.0,54.1" fill="none" stroke="#e8f54a" stroke-width="0.8" stroke-dasharray="10 2" stroke-dashoffset="3"/><path d="M366.0,63.0 L415.3,60.5 L464.7,58.1 L514.0,55.6" fill="none" stroke="#3ee8cf" stroke-width="0.8" stroke-dasharray="9 4" stroke-dashoffset="11"/><path d="M366.0,64.5 L415.3,62.0 L464.7,59.6 L514.0,57.1" fill="none" stroke="#e8f54a" stroke-width="0.8" stroke-dasharray="7 2" stroke-dashoffset="5"/><path d="M366.0,66.0 L415.3,63.5 L464.7,61.1 L514.0,58.6" fill="none" stroke="#3ee8cf" stroke-width="0.8" stroke-dasharray="5 2" stroke-dashoffset="1"/><path d="M366.0,67.5 L415.3,65.0 L464.7,62.6 L514.0,60.1" fill="none" stroke="#e8f54a" stroke-width="0.8" stroke-dasharray="4 2" stroke-dashoffset="23"/><path d="M366.0,69.0 L415.3,66.5 L464.7,64.1 L514.0,61.6" fill="none" stroke="#3ee8cf" stroke-width="0.8" stroke-dasharray="8 3" stroke-dashoffset="10"/><path d="M366.0,70.5 L415.3,68.0 L464.7,65.6 L514.0,63.1" fill="none" stroke="#e8f54a" stroke-width="0.8" stroke-dasharray="6 6" stroke-dashoffset="0"/><path d="M366.0,72.0 L415.3,69.5 L464.7,67.1 L514.0,64.6" fill="none" stroke="#3ee8cf" stroke-width="0.8" stroke-dasharray="10 6" stroke-dashoffset="2"/><path d="M366.0,73.5 L415.3,71.0 L464.7,68.6 L514.0,66.1" fill="none" stroke="#e8f54a" stroke-width="0.8" stroke-dasharray="7 3" stroke-dashoffset="2"/><path d="M366.0,75.0 L415.3,72.5 L464.7,70.1 L514.0,67.6" fill="none" stroke="#3ee8cf" stroke-width="0.8" stroke-dasharray="4 4" stroke-dashoffset="39"/><path d="M366.0,76.5 L415.3,74.0 L464.7,71.6 L514.0,69.1" fill="none" stroke="#e8f54a" stroke-width="0.8" stroke-dasharray="14 2" stroke-dashoffset="18"/><path d="M366.0,78.0 L415.3,75.5 L464.7,73.1 L514.0,70.6" fill="none" stroke="#3ee8cf" stroke-width="0.8" stroke-dasharray="9 5" stroke-dashoffset="1"/><path d="M366.0,79.5 L415.3,77.0 L464.7,74.6 L514.0,72.1" fill="none" stroke="#e8f54a" stroke-width="0.8" stroke-dasharray="8 5" stroke-dashoffset="35"/><path d="M366.0,81.0 L415.3,78.5 L464.7,76.1 L514.0,73.6" fill="none" stroke="#3ee8cf" stroke-width="0.8" stroke-dasharray="13 2" stroke-dashoffset="16"/><path d="M366.0,82.5 L415.3,80.0 L464.7,77.6 L514.0,75.1" fill="none" stroke="#e8f54a" stroke-width="0.8" stroke-dasharray="10 6" stroke-dashoffset="9"/><path d="M366.0,84.0 L415.3,81.5 L464.7,79.1 L514.0,76.6" fill="none" stroke="#3ee8cf" stroke-width="0.8" stroke-dasharray="11 3" stroke-dashoffset="5"/><path d="M366.0,85.5 L415.3,83.0 L464.7,80.6 L514.0,78.1" fill="none" stroke="#e8f54a" stroke-width="0.8" stroke-dasharray="14 4" stroke-dashoffset="6"/><path d="M366.0,87.0 L415.3,84.5 L464.7,82.1 L514.0,79.6" fill="none" stroke="#3ee8cf" stroke-width="0.8" stroke-dasharray="4 5" stroke-dashoffset="8"/><path d="M366.0,88.5 L415.3,86.0 L464.7,83.6 L514.0,81.1" fill="none" stroke="#e8f54a" stroke-width="0.8" stroke-dasharray="12 6" stroke-dashoffset="25"/><path d="M366.0,90.0 L415.3,87.5 L464.7,85.1 L514.0,82.6" fill="none" stroke="#3ee8cf" stroke-width="0.8" stroke-dasharray="11 6" stroke-dashoffset="20"/><path d="M366.0,91.5 L415.3,89.0 L464.7,86.6 L514.0,84.1" fill="none" stroke="#e8f54a" stroke-width="0.8" stroke-dasharray="6 4" stroke-dashoffset="16"/><path d="M366.0,93.0 L415.3,90.5 L464.7,88.1 L514.0,85.6" fill="none" stroke="#3ee8cf" stroke-width="0.8" stroke-dasharray="8 6" stroke-dashoffset="26"/><path d="M366.0,94.5 L415.3,92.0 L464.7,89.6 L514.0,87.1" fill="none" stroke="#e8f54a" stroke-width="0.8" stroke-dasharray="14 2" stroke-dashoffset="35"/><path d="M366.0,96.0 L415.3,93.5 L464.7,91.1 L514.0,88.6" fill="none" stroke="#3ee8cf" stroke-width="0.8" stroke-dasharray="6 2" stroke-dashoffset="16"/><path d="M366.0,97.5 L415.3,95.0 L464.7,92.6 L514.0,90.1" fill="none" stroke="#e8f54a" stroke-width="0.8" stroke-dasharray="4 3" stroke-dashoffset="10"/><path d="M366.0,99.0 L415.3,96.5 L464.7,94.1 L514.0,91.6" fill="none" stroke="#3ee8cf" stroke-width="0.8" stroke-dasharray="6 2" stroke-dashoffset="29"/><path d="M366.0,100.5 L415.3,98.0 L464.7,95.6 L514.0,93.1" fill="none" stroke="#e8f54a" stroke-width="0.8" stroke-dasharray="14 3" stroke-dashoffset="32"/><path d="M366.0,102.0 L415.3,99.5 L464.7,97.1 L514.0,94.6" fill="none" stroke="#3ee8cf" stroke-width="0.8" stroke-dasharray="4 3" stroke-dashoffset="14"/><path d="M366.0,103.5 L415.3,101.0 L464.7,98.6 L514.0,96.1" fill="none" stroke="#e8f54a" stroke-width="0.8" stroke-dasharray="11 2" stroke-dashoffset="16"/><path d="M366.0,105.0 L415.3,102.5 L464.7,100.1 L514.0,97.6" fill="none" stroke="#3ee8cf" stroke-width="0.8" stroke-dasharray="5 6" stroke-dashoffset="14"/><path d="M366.0,106.5 L415.3,104.0 L464.7,101.6 L514.0,99.1" fill="none" stroke="#e8f54a" stroke-width="0.8" stroke-dasharray="13 6" stroke-dashoffset="23"/><path d="M366.0,108.0 L415.3,105.5 L464.7,103.1 L514.0,100.6" fill="none" stroke="#3ee8cf" stroke-width="0.8" stroke-dasharray="8 5" stroke-dashoffset="17"/><path d="M366.0,109.5 L415.3,107.0 L464.7,104.6 L514.0,102.1" fill="none" stroke="#e8f54a" stroke-width="0.8" stroke-dasharray="12 2" stroke-dashoffset="9"/><path d="M366.0,111.0 L415.3,108.5 L464.7,106.1 L514.0,103.6" fill="none" stroke="#3ee8cf" stroke-width="0.8" stroke-dasharray="4 5" stroke-dashoffset="26"/><path d="M366.0,112.5 L415.3,110.0 L464.7,107.6 L514.0,105.1" fill="none" stroke="#e8f54a" stroke-width="0.8" stroke-dasharray="6 2" stroke-dashoffset="32"/><path d="M366.0,114.0 L415.3,111.5 L464.7,109.1 L514.0,106.6" fill="none" stroke="#3ee8cf" stroke-width="0.8" stroke-dasharray="5 3" stroke-dashoffset="6"/><path d="M366.0,115.5 L415.3,113.0 L464.7,110.6 L514.0,108.1" fill="none" stroke="#e8f54a" stroke-width="0.8" stroke-dasharray="5 2" stroke-dashoffset="11"/><path d="M366.0,117.0 L415.3,114.5 L464.7,112.1 L514.0,109.6" fill="none" stroke="#3ee8cf" stroke-width="0.8" stroke-dasharray="7 2" stroke-dashoffset="13"/><path d="M366.0,118.5 L415.3,116.0 L464.7,113.6 L514.0,111.1" fill="none" stroke="#e8f54a" stroke-width="0.8" stroke-dasharray="4 6" stroke-dashoffset="29"/><path d="M366.0,120.0 L415.3,117.5 L464.7,115.1 L514.0,112.6" fill="none" stroke="#3ee8cf" stroke-width="0.8" stroke-dasharray="11 4" stroke-dashoffset="34"/><path d="M366.0,121.5 L415.3,119.0 L464.7,116.6 L514.0,114.1" fill="none" stroke="#e8f54a" stroke-width="0.8" stroke-dasharray="14 5" stroke-dashoffset="13"/><path d="M366.0,123.0 L415.3,120.5 L464.7,118.1 L514.0,115.6" fill="none" stroke="#3ee8cf" stroke-width="0.8" stroke-dasharray="14 3" stroke-dashoffset="27"/><path d="M366.0,124.5 L415.3,122.0 L464.7,119.6 L514.0,117.1" fill="none" stroke="#e8f54a" stroke-width="0.8" stroke-dasharray="10 6" stroke-dashoffset="1"/><path d="M366.0,126.0 L415.3,123.5 L464.7,121.1 L514.0,118.6" fill="none" stroke="#3ee8cf" stroke-width="0.8" stroke-dasharray="13 6" stroke-dashoffset="3"/><path d="M366.0,127.5 L415.3,125.0 L464.7,122.6 L514.0,120.1" fill="none" stroke="#e8f54a" stroke-width="0.8" stroke-dasharray="10 6" stroke-dashoffset="37"/><path d="M366.0,129.0 L415.3,126.5 L464.7,124.1 L514.0,121.6" fill="none" stroke="#3ee8cf" stroke-width="0.8" stroke-dasharray="6 2" stroke-dashoffset="30"/><path d="M366.0,130.5 L415.3,128.0 L464.7,125.6 L514.0,123.1" fill="none" stroke="#e8f54a" stroke-width="0.8" stroke-dasharray="9 2" stroke-dashoffset="33"/><path d="M366.0,132.0 L415.3,129.5 L464.7,127.1 L514.0,124.6" fill="none" stroke="#3ee8cf" stroke-width="0.8" stroke-dasharray="5 6" stroke-dashoffset="23"/><path d="M366.0,133.5 L415.3,131.0 L464.7,128.6 L514.0,126.1" fill="none" stroke="#e8f54a" stroke-width="0.8" stroke-dasharray="8 4" stroke-dashoffset="19"/><path d="M366.0,135.0 L415.3,132.5 L464.7,130.1 L514.0,127.6" fill="none" stroke="#3ee8cf" stroke-width="0.8" stroke-dasharray="4 5" stroke-dashoffset="6"/><path d="M366.0,136.5 L415.3,134.0 L464.7,131.6 L514.0,129.1" fill="none" stroke="#e8f54a" stroke-width="0.8" stroke-dasharray="5 4" stroke-dashoffset="12"/><path d="M366.0,138.0 L415.3,135.5 L464.7,133.1 L514.0,130.6" fill="none" stroke="#3ee8cf" stroke-width="0.8" stroke-dasharray="14 2" stroke-dashoffset="28"/><path d="M366.0,139.5 L415.3,137.0 L464.7,134.6 L514.0,132.1" fill="none" stroke="#e8f54a" stroke-width="0.8" stroke-dasharray="4 5" stroke-dashoffset="40"/><path d="M366.0,141.0 L415.3,138.5 L464.7,136.1 L514.0,133.6" fill="none" stroke="#3ee8cf" stroke-width="0.8" stroke-dasharray="11 5" stroke-dashoffset="13"/><path d="M366.0,142.5 L415.3,140.0 L464.7,137.6 L514.0,135.1" fill="none" stroke="#e8f54a" stroke-width="0.8" stroke-dasharray="13 6" stroke-dashoffset="4"/><path d="M366.0,144.0 L415.3,141.5 L464.7,139.1 L514.0,136.6" fill="none" stroke="#3ee8cf" stroke-width="0.8" stroke-dasharray="4 4" stroke-dashoffset="1"/><path d="M366.0,145.5 L415.3,143.0 L464.7,140.6 L514.0,138.1" fill="none" stroke="#e8f54a" stroke-width="0.8" stroke-dasharray="9 4" stroke-dashoffset="4"/><path d="M366.0,147.0 L415.3,144.5 L464.7,142.1 L514.0,139.6" fill="none" stroke="#3ee8cf" stroke-width="0.8" stroke-dasharray="7 5" stroke-dashoffset="12"/><path d="M366.0,148.5 L415.3,146.0 L464.7,143.6 L514.0,141.1" fill="none" stroke="#e8f54a" stroke-width="0.8" stroke-dasharray="5 6" stroke-dashoffset="23"/><path d="M366.0,150.0 L415.3,147.5 L464.7,145.1 L514.0,142.6" fill="none" stroke="#3ee8cf" stroke-width="0.8" stroke-dasharray="10 5" stroke-dashoffset="8"/><path d="M366.0,151.5 L415.3,149.0 L464.7,146.6 L514.0,144.1" fill="none" stroke="#e8f54a" stroke-width="0.8" stroke-dasharray="9 5" stroke-dashoffset="7"/><path d="M366.0,153.0 L415.3,150.5 L464.7,148.1 L514.0,145.6" fill="none" stroke="#3ee8cf" stroke-width="0.8" stroke-dasharray="8 2" stroke-dashoffset="7"/><path d="M366.0,154.5 L415.3,152.0 L464.7,149.6 L514.0,147.1" fill="none" stroke="#e8f54a" stroke-width="0.8" stroke-dasharray="5 6" stroke-dashoffset="21"/><path d="M366.0,156.0 L415.3,153.5 L464.7,151.1 L514.0,148.6" fill="none" stroke="#3ee8cf" stroke-width="0.8" stroke-dasharray="14 5" stroke-dashoffset="13"/><path d="M366.0,157.5 L415.3,155.0 L464.7,152.6 L514.0,150.1" fill="none" stroke="#e8f54a" stroke-width="0.8" stroke-dasharray="5 2" stroke-dashoffset="39"/><path d="M366.0,159.0 L415.3,156.5 L464.7,154.1 L514.0,151.6" fill="none" stroke="#3ee8cf" stroke-width="0.8" stroke-dasharray="14 5" stroke-dashoffset="2"/><path d="M366.0,160.5 L415.3,158.0 L464.7,155.6 L514.0,153.1" fill="none" stroke="#e8f54a" stroke-width="0.8" stroke-dasharray="11 4" stroke-dashoffset="22"/><path d="M366.0,162.0 L415.3,159.5 L464.7,157.1 L514.0,154.6" fill="none" stroke="#3ee8cf" stroke-width="0.8" stroke-dasharray="11 3" stroke-dashoffset="23"/><path d="M366.0,163.5 L415.3,161.0 L464.7,158.6 L514.0,156.1" fill="none" stroke="#e8f54a" stroke-width="0.8" stroke-dasharray="8 5" stroke-dashoffset="33"/><path d="M366.0,165.0 L415.3,162.5 L464.7,160.1 L514.0,157.6" fill="none" stroke="#3ee8cf" stroke-width="0.8" stroke-dasharray="11 5" stroke-dashoffset="31"/><path d="M366.0,166.5 L415.3,164.0 L464.7,161.6 L514.0,159.1" fill="none" stroke="#e8f54a" stroke-width="0.8" stroke-dasharray="14 4" stroke-dashoffset="25"/><path d="M366.0,168.0 L415.3,165.5 L464.7,163.1 L514.0,160.6" fill="none" stroke="#3ee8cf" stroke-width="0.8" stroke-dasharray="7 3" stroke-dashoffset="31"/><path d="M366.0,169.5 L415.3,167.0 L464.7,164.6 L514.0,162.1" fill="none" stroke="#e8f54a" stroke-width="0.8" stroke-dasharray="13 4" stroke-dashoffset="35"/><path d="M366.0,171.0 L415.3,168.5 L464.7,166.1 L514.0,163.6" fill="none" stroke="#3ee8cf" stroke-width="0.8" stroke-dasharray="10 2" stroke-dashoffset="37"/><path d="M366.0,172.5 L415.3,170.0 L464.7,167.6 L514.0,165.1" fill="none" stroke="#e8f54a" stroke-width="0.8" stroke-dasharray="13 2" stroke-dashoffset="4"/><path d="M366.0,174.0 L415.3,171.5 L464.7,169.1 L514.0,166.6" fill="none" stroke="#3ee8cf" stroke-width="0.8" stroke-dasharray="9 3" stroke-dashoffset="34"/><path d="M366.0,175.5 L415.3,173.0 L464.7,170.6 L514.0,168.1" fill="none" stroke="#e8f54a" stroke-width="0.8" stroke-dasharray="6 5" stroke-dashoffset="4"/><path d="M366.0,177.0 L415.3,174.5 L464.7,172.1 L514.0,169.6" fill="none" stroke="#3ee8cf" stroke-width="0.8" stroke-dasharray="5 2" stroke-dashoffset="8"/><path d="M366.0,178.5 L415.3,176.0 L464.7,173.6 L514.0,171.1" fill="none" stroke="#e8f54a" stroke-width="0.8" stroke-dasharray="8 5" stroke-dashoffset="14"/><path d="M366.0,180.0 L415.3,177.5 L464.7,175.1 L514.0,172.6" fill="none" stroke="#3ee8cf" stroke-width="0.8" stroke-dasharray="14 4" stroke-dashoffset="28"/><path d="M366.0,181.5 L415.3,179.0 L464.7,176.6 L514.0,174.1" fill="none" stroke="#e8f54a" stroke-width="0.8" stroke-dasharray="6 6" stroke-dashoffset="18"/><path d="M366.0,183.0 L415.3,180.5 L464.7,178.1 L514.0,175.6" fill="none" stroke="#3ee8cf" stroke-width="0.8" stroke-dasharray="5 3" stroke-dashoffset="34"/><path d="M366.0,184.5 L415.3,182.0 L464.7,179.6 L514.0,177.1" fill="none" stroke="#e8f54a" stroke-width="0.8" stroke-dasharray="10 2" stroke-dashoffset="21"/><path d="M366.0,186.0 L415.3,183.5 L464.7,181.1 L514.0,178.6" fill="none" stroke="#3ee8cf" stroke-width="0.8" stroke-dasharray="12 3" stroke-dashoffset="32"/><path d="M366.0,187.5 L415.3,185.0 L464.7,182.6 L514.0,180.1" fill="none" stroke="#e8f54a" stroke-width="0.8" stroke-dasharray="8 3" stroke-dashoffset="10"/><path d="M366.0,189.0 L415.3,186.5 L464.7,184.1 L514.0,181.6" fill="none" stroke="#3ee8cf" stroke-width="0.8" stroke-dasharray="11 3" stroke-dashoffset="25"/><path d="M366.0,190.5 L415.3,188.0 L464.7,185.6 L514.0,183.1" fill="none" stroke="#e8f54a" stroke-width="0.8" stroke-dasharray="9 6" stroke-dashoffset="9"/><path d="M366.0,192.0 L415.3,189.5 L464.7,187.1 L514.0,184.6" fill="none" stroke="#3ee8cf" stroke-width="0.8" stroke-dasharray="11 5" stroke-dashoffset="1"/><path d="M366.0,193.5 L415.3,191.0 L464.7,188.6 L514.0,186.1" fill="none" stroke="#e8f54a" stroke-width="0.8" stroke-dasharray="13 5" stroke-dashoffset="11"/><path d="M366.0,195.0 L415.3,192.5 L464.7,190.1 L514.0,187.6" fill="none" stroke="#3ee8cf" stroke-width="0.8" stroke-dasharray="10 6" stroke-dashoffset="3"/><path d="M366.0,196.5 L415.3,194.0 L464.7,191.6 L514.0,189.1" fill="none" stroke="#e8f54a" stroke-width="0.8" stroke-dasharray="11 4" stroke-dashoffset="25"/><path d="M366.0,198.0 L415.3,195.5 L464.7,193.1 L514.0,190.6" fill="none" stroke="#3ee8cf" stroke-width="0.8" stroke-dasharray="8 5" stroke-dashoffset="30"/><path d="M366.0,199.5 L415.3,197.0 L464.7,194.6 L514.0,192.1" fill="none" stroke="#e8f54a" stroke-width="0.8" stroke-dasharray="9 6" stroke-dashoffset="21"/><path d="M366.0,201.0 L415.3,198.5 L464.7,196.1 L514.0,193.6" fill="none" stroke="#3ee8cf" stroke-width="0.8" stroke-dasharray="14 2" stroke-dashoffset="14"/><path d="M366.0,202.5 L415.3,200.0 L464.7,197.6 L514.0,195.1" fill="none" stroke="#e8f54a" stroke-width="0.8" stroke-dasharray="12 6" stroke-dashoffset="12"/><path d="M366.0,204.0 L415.3,201.5 L464.7,199.1 L514.0,196.6" fill="none" stroke="#3ee8cf" stroke-width="0.8" stroke-dasharray="10 5" stroke-dashoffset="40"/><path d="M366.0,205.5 L415.3,203.0 L464.7,200.6 L514.0,198.1" fill="none" stroke="#e8f54a" stroke-width="0.8" stroke-dasharray="4 4" stroke-dashoffset="29"/><path d="M366.0,207.0 L415.3,204.5 L464.7,202.1 L514.0,199.6" fill="none" stroke="#3ee8cf" stroke-width="0.8" stroke-dasharray="12 5" stroke-dashoffset="11"/><path d="M366.0,208.5 L415.3,206.0 L464.7,203.6 L514.0,201.1" fill="none" stroke="#e8f54a" stroke-width="0.8" stroke-dasharray="5 2" stroke-dashoffset="25"/><path d="M366.0,210.0 L415.3,207.5 L464.7,205.1 L514.0,202.6" fill="none" stroke="#3ee8cf" stroke-width="0.8" stroke-dasharray="7 6" stroke-dashoffset="38"/><path d="M366.0,211.5 L415.3,209.0 L464.7,206.6 L514.0,204.1" fill="none" stroke="#e8f54a" stroke-width="0.8" stroke-dasharray="10 3" stroke-dashoffset="6"/><path d="M366.0,213.0 L415.3,210.5 L464.7,208.1 L514.0,205.6" fill="none" stroke="#3ee8cf" stroke-width="0.8" stroke-dasharray="10 6" stroke-dashoffset="12"/><path d="M366.0,214.5 L415.3,212.0 L464.7,209.6 L514.0,207.1" fill="none" stroke="#e8f54a" stroke-width="0.8" stroke-dasharray="8 6" stroke-dashoffset="37"/><path d="M366.0,216.0 L415.3,213.5 L464.7,211.1 L514.0,208.6" fill="none" stroke="#3ee8cf" stroke-width="0.8" stroke-dasharray="7 5" stroke-dashoffset="39"/><path d="M366.0,217.5 L415.3,215.0 L464.7,212.6 L514.0,210.1" fill="none" stroke="#e8f54a" stroke-width="0.8" stroke-dasharray="6 2" stroke-dashoffset="39"/><path d="M366.0,219.0 L415.3,216.5 L464.7,214.1 L514.0,211.6" fill="none" stroke="#3ee8cf" stroke-width="0.8" stroke-dasharray="14 5" stroke-dashoffset="30"/><path d="M366.0,220.5 L415.3,218.0 L464.7,215.6 L514.0,213.1" fill="none" stroke="#e8f54a" stroke-width="0.8" stroke-dasharray="8 6" stroke-dashoffset="36"/><path d="M366.0,222.0 L415.3,219.5 L464.7,217.1 L514.0,214.6" fill="none" stroke="#3ee8cf" stroke-width="0.8" stroke-dasharray="6 5" stroke-dashoffset="13"/></g>
<rect x="509.9" y="165.0" width="1.5" height="1.2" fill="#f0d030" opacity="0.35"/><rect x="437.8" y="180.3" width="3.0" height="1.2" fill="#e8f040" opacity="0.35"/><rect x="437.8" y="148.1" width="2.4" height="1.2" fill="#f0d030" opacity="0.35"/><rect x="495.9" y="105.6" width="2.7" height="1.2" fill="#e8f040" opacity="0.35"/><rect x="417.5" y="164.9" width="2.0" height="1.2" fill="#40c8f0" opacity="0.35"/><rect x="458.5" y="179.5" width="1.6" height="1.2" fill="#30d8e0" opacity="0.35"/><rect x="439.9" y="211.0" width="1.8" height="1.2" fill="#f0d030" opacity="0.35"/><rect x="407.8" y="107.0" width="2.2" height="1.2" fill="#e8f040" opacity="0.35"/><rect x="445.6" y="90.2" width="1.9" height="1.2" fill="#40c8f0" opacity="0.35"/><rect x="466.1" y="113.2" width="2.5" height="1.2" fill="#30d8e0" opacity="0.35"/><rect x="445.7" y="195.6" width="2.0" height="1.2" fill="#e8f040" opacity="0.35"/><rect x="412.3" y="80.6" width="2.8" height="1.2" fill="#f0d030" opacity="0.35"/><rect x="424.2" y="181.0" width="2.5" height="1.2" fill="#e8f040" opacity="0.35"/><rect x="397.2" y="132.5" width="3.1" height="1.2" fill="#30d8e0" opacity="0.35"/><rect x="459.1" y="75.5" width="3.4" height="1.2" fill="#30d8e0" opacity="0.35"/><rect x="449.1" y="118.0" width="3.4" height="1.2" fill="#e8f040" opacity="0.35"/><rect x="382.6" y="176.6" width="3.2" height="1.2" fill="#40c8f0" opacity="0.35"/><rect x="397.6" y="85.0" width="2.4" height="1.2" fill="#f0d030" opacity="0.35"/><rect x="390.6" y="102.0" width="2.4" height="1.2" fill="#f0d030" opacity="0.35"/><rect x="385.8" y="156.8" width="3.4" height="1.2" fill="#30d8e0" opacity="0.35"/><rect x="414.3" y="34.2" width="2.4" height="1.2" fill="#30d8e0" opacity="0.6"/><rect x="477.3" y="182.1" width="2.2" height="1.2" fill="#30d8e0" opacity="0.35"/><rect x="483.7" y="60.7" width="2.3" height="1.2" fill="#40c8f0" opacity="0.35"/><rect x="487.9" y="82.3" width="3.0" height="1.2" fill="#f0d030" opacity="0.35"/><rect x="477.1" y="186.6" width="2.6" height="1.2" fill="#f0d030" opacity="0.35"/><rect x="460.3" y="28.9" width="2.3" height="1.2" fill="#f0d030" opacity="0.6"/><rect x="391.9" y="204.1" width="2.4" height="1.2" fill="#f0d030" opacity="0.35"/><rect x="379.0" y="197.4" width="3.4" height="1.2" fill="#f0d030" opacity="0.35"/><rect x="384.8" y="20.0" width="1.8" height="1.2" fill="#f0d030" opacity="0.6"/><rect x="377.4" y="188.4" width="1.5" height="1.2" fill="#40c8f0" opacity="0.35"/><rect x="413.4" y="177.9" width="2.6" height="1.2" fill="#40c8f0" opacity="0.35"/><rect x="435.4" y="192.8" width="2.1" height="1.2" fill="#f0d030" opacity="0.35"/><rect x="503.1" y="33.3" width="3.1" height="1.2" fill="#30d8e0" opacity="0.6"/><rect x="415.0" y="42.5" width="2.0" height="1.2" fill="#f0d030" opacity="0.6"/><rect x="416.7" y="63.3" width="3.0" height="1.2" fill="#30d8e0" opacity="0.35"/><rect x="372.9" y="200.6" width="3.2" height="1.2" fill="#e8f040" opacity="0.35"/><rect x="392.3" y="27.0" width="3.1" height="1.2" fill="#40c8f0" opacity="0.6"/><rect x="385.7" y="118.1" width="2.2" height="1.2" fill="#e8f040" opacity="0.35"/><rect x="479.7" y="135.4" width="2.0" height="1.2" fill="#40c8f0" opacity="0.35"/><rect x="374.0" y="166.3" width="2.7" height="1.2" fill="#40c8f0" opacity="0.35"/><rect x="412.9" y="180.4" width="2.7" height="1.2" fill="#e8f040" opacity="0.35"/><rect x="445.7" y="209.5" width="3.2" height="1.2" fill="#40c8f0" opacity="0.35"/><rect x="433.3" y="96.0" width="1.6" height="1.2" fill="#40c8f0" opacity="0.35"/><rect x="382.0" y="211.6" width="1.7" height="1.2" fill="#30d8e0" opacity="0.35"/><rect x="502.4" y="113.5" width="1.7" height="1.2" fill="#30d8e0" opacity="0.35"/><rect x="411.3" y="172.5" width="2.0" height="1.2" fill="#e8f040" opacity="0.35"/><rect x="465.0" y="58.2" width="1.8" height="1.2" fill="#e8f040" opacity="0.35"/><rect x="465.1" y="32.7" width="1.6" height="1.2" fill="#40c8f0" opacity="0.6"/><rect x="499.0" y="62.3" width="1.8" height="1.2" fill="#40c8f0" opacity="0.35"/><rect x="370.5" y="152.3" width="1.6" height="1.2" fill="#e8f040" opacity="0.35"/><rect x="446.8" y="15.7" width="2.9" height="1.2" fill="#f0d030" opacity="0.6"/><rect x="495.6" y="42.2" width="1.5" height="1.2" fill="#40c8f0" opacity="0.6"/><rect x="445.9" y="63.3" width="1.9" height="1.2" fill="#40c8f0" opacity="0.35"/><rect x="373.9" y="57.1" width="2.2" height="1.2" fill="#40c8f0" opacity="0.35"/><rect x="461.8" y="92.5" width="2.5" height="1.2" fill="#30d8e0" opacity="0.35"/><rect x="489.3" y="44.5" width="1.8" height="1.2" fill="#30d8e0" opacity="0.6"/><rect x="395.9" y="81.9" width="2.4" height="1.2" fill="#30d8e0" opacity="0.35"/><rect x="424.9" y="172.5" width="2.6" height="1.2" fill="#e8f040" opacity="0.35"/><rect x="436.0" y="70.8" width="3.5" height="1.2" fill="#40c8f0" opacity="0.35"/><rect x="399.9" y="153.7" width="1.6" height="1.2" fill="#e8f040" opacity="0.35"/><rect x="447.7" y="54.5" width="2.3" height="1.2" fill="#30d8e0" opacity="0.6"/><rect x="371.8" y="41.8" width="3.0" height="1.2" fill="#e8f040" opacity="0.6"/><rect x="470.0" y="108.6" width="3.0" height="1.2" fill="#e8f040" opacity="0.35"/><rect x="493.5" y="59.0" width="2.7" height="1.2" fill="#30d8e0" opacity="0.35"/><rect x="371.6" y="53.3" width="1.8" height="1.2" fill="#e8f040" opacity="0.6"/><rect x="468.7" y="196.1" width="3.5" height="1.2" fill="#e8f040" opacity="0.35"/><rect x="499.1" y="106.3" width="3.4" height="1.2" fill="#f0d030" opacity="0.35"/><rect x="389.3" y="78.7" width="3.2" height="1.2" fill="#f0d030" opacity="0.35"/><rect x="442.7" y="27.9" width="2.8" height="1.2" fill="#40c8f0" opacity="0.6"/><rect x="371.0" y="73.4" width="2.8" height="1.2" fill="#e8f040" opacity="0.35"/><rect x="474.7" y="201.5" width="1.9" height="1.2" fill="#e8f040" opacity="0.35"/><rect x="415.3" y="121.0" width="2.7" height="1.2" fill="#40c8f0" opacity="0.35"/><rect x="476.7" y="191.1" width="3.0" height="1.2" fill="#40c8f0" opacity="0.35"/><rect x="468.6" y="170.2" width="3.2" height="1.2" fill="#40c8f0" opacity="0.35"/><rect x="509.6" y="90.3" width="2.7" height="1.2" fill="#f0d030" opacity="0.35"/><rect x="452.0" y="102.6" width="3.2" height="1.2" fill="#40c8f0" opacity="0.35"/><rect x="416.0" y="28.5" width="2.7" height="1.2" fill="#f0d030" opacity="0.6"/><rect x="493.3" y="58.5" width="2.9" height="1.2" fill="#30d8e0" opacity="0.35"/><rect x="411.6" y="55.5" width="1.7" height="1.2" fill="#f0d030" opacity="0.35"/><rect x="482.8" y="20.3" width="1.6" height="1.2" fill="#f0d030" opacity="0.6"/><rect x="444.9" y="171.4" width="3.1" height="1.2" fill="#f0d030" opacity="0.35"/><rect x="376.7" y="107.7" width="2.1" height="1.2" fill="#e8f040" opacity="0.35"/><rect x="451.0" y="56.5" width="2.7" height="1.2" fill="#30d8e0" opacity="0.35"/><rect x="421.6" y="27.3" width="3.3" height="1.2" fill="#40c8f0" opacity="0.6"/><rect x="461.5" y="112.6" width="1.8" height="1.2" fill="#30d8e0" opacity="0.35"/><rect x="410.3" y="205.5" width="1.9" height="1.2" fill="#30d8e0" opacity="0.35"/><rect x="470.1" y="187.6" width="2.5" height="1.2" fill="#40c8f0" opacity="0.35"/><rect x="400.7" y="56.7" width="2.0" height="1.2" fill="#e8f040" opacity="0.35"/><rect x="402.9" y="201.3" width="3.1" height="1.2" fill="#40c8f0" opacity="0.35"/><rect x="383.7" y="104.7" width="2.4" height="1.2" fill="#40c8f0" opacity="0.35"/><rect x="422.2" y="57.1" width="1.6" height="1.2" fill="#30d8e0" opacity="0.35"/><rect x="443.7" y="190.0" width="1.6" height="1.2" fill="#e8f040" opacity="0.35"/><rect x="470.6" y="94.0" width="1.7" height="1.2" fill="#f0d030" opacity="0.35"/><rect x="441.5" y="117.4" width="2.7" height="1.2" fill="#40c8f0" opacity="0.35"/><rect x="470.3" y="159.9" width="2.1" height="1.2" fill="#30d8e0" opacity="0.35"/><rect x="370.3" y="22.8" width="1.9" height="1.2" fill="#30d8e0" opacity="0.6"/><rect x="401.7" y="24.1" width="2.8" height="1.2" fill="#30d8e0" opacity="0.6"/><rect x="505.5" y="34.7" width="2.9" height="1.2" fill="#e8f040" opacity="0.6"/><rect x="386.2" y="154.5" width="2.1" height="1.2" fill="#e8f040" opacity="0.35"/><rect x="463.8" y="108.2" width="3.0" height="1.2" fill="#f0d030" opacity="0.35"/><rect x="467.6" y="33.8" width="1.7" height="1.2" fill="#f0d030" opacity="0.6"/><rect x="482.1" y="86.5" width="3.1" height="1.2" fill="#f0d030" opacity="0.35"/><rect x="498.6" y="115.3" width="1.6" height="1.2" fill="#30d8e0" opacity="0.35"/><rect x="416.4" y="180.4" width="2.2" height="1.2" fill="#e8f040" opacity="0.35"/><rect x="510.3" y="120.3" width="3.2" height="1.2" fill="#e8f040" opacity="0.35"/><rect x="377.4" y="121.5" width="2.4" height="1.2" fill="#40c8f0" opacity="0.35"/><rect x="401.5" y="50.5" width="1.5" height="1.2" fill="#e8f040" opacity="0.6"/><rect x="478.5" y="157.0" width="2.8" height="1.2" fill="#f0d030" opacity="0.35"/><rect x="409.6" y="193.6" width="3.4" height="1.2" fill="#e8f040" opacity="0.35"/><rect x="449.8" y="199.4" width="2.3" height="1.2" fill="#30d8e0" opacity="0.35"/><rect x="500.6" y="36.5" width="2.0" height="1.2" fill="#e8f040" opacity="0.6"/><rect x="447.4" y="34.9" width="1.7" height="1.2" fill="#40c8f0" opacity="0.6"/><rect x="492.2" y="129.7" width="1.6" height="1.2" fill="#30d8e0" opacity="0.35"/><rect x="442.6" y="119.0" width="2.4" height="1.2" fill="#40c8f0" opacity="0.35"/><rect x="481.9" y="45.1" width="2.4" height="1.2" fill="#30d8e0" opacity="0.6"/><rect x="421.2" y="207.3" width="2.5" height="1.2" fill="#30d8e0" opacity="0.35"/><rect x="431.1" y="101.1" width="1.8" height="1.2" fill="#40c8f0" opacity="0.35"/><rect x="454.0" y="39.8" width="1.8" height="1.2" fill="#f0d030" opacity="0.6"/><rect x="403.2" y="51.6" width="2.8" height="1.2" fill="#30d8e0" opacity="0.6"/><rect x="450.3" y="64.1" width="2.4" height="1.2" fill="#40c8f0" opacity="0.35"/><rect x="393.8" y="100.7" width="2.2" height="1.2" fill="#30d8e0" opacity="0.35"/><rect x="459.6" y="20.7" width="2.7" height="1.2" fill="#40c8f0" opacity="0.6"/><rect x="370.1" y="74.3" width="3.4" height="1.2" fill="#e8f040" opacity="0.35"/><rect x="447.1" y="127.1" width="2.0" height="1.2" fill="#f0d030" opacity="0.35"/><rect x="471.4" y="86.8" width="3.3" height="1.2" fill="#40c8f0" opacity="0.35"/><rect x="402.4" y="182.3" width="2.4" height="1.2" fill="#30d8e0" opacity="0.35"/><rect x="506.9" y="164.0" width="1.7" height="1.2" fill="#40c8f0" opacity="0.35"/><rect x="467.3" y="63.1" width="1.7" height="1.2" fill="#40c8f0" opacity="0.35"/><rect x="454.5" y="138.1" width="1.7" height="1.2" fill="#40c8f0" opacity="0.35"/><rect x="475.8" y="179.4" width="2.7" height="1.2" fill="#40c8f0" opacity="0.35"/><rect x="479.3" y="152.3" width="3.3" height="1.2" fill="#f0d030" opacity="0.35"/><rect x="448.4" y="47.3" width="2.8" height="1.2" fill="#30d8e0" opacity="0.6"/><rect x="462.1" y="95.4" width="2.9" height="1.2" fill="#40c8f0" opacity="0.35"/><rect x="472.9" y="48.7" width="3.3" height="1.2" fill="#f0d030" opacity="0.6"/><rect x="450.4" y="94.7" width="2.8" height="1.2" fill="#f0d030" opacity="0.35"/><rect x="464.8" y="93.9" width="1.9" height="1.2" fill="#e8f040" opacity="0.35"/><rect x="381.0" y="16.6" width="2.1" height="1.2" fill="#f0d030" opacity="0.6"/><rect x="412.9" y="94.9" width="3.1" height="1.2" fill="#f0d030" opacity="0.35"/><rect x="444.0" y="109.6" width="2.4" height="1.2" fill="#30d8e0" opacity="0.35"/><rect x="380.0" y="18.2" width="2.1" height="1.2" fill="#e8f040" opacity="0.6"/><rect x="386.7" y="154.5" width="2.2" height="1.2" fill="#e8f040" opacity="0.35"/><rect x="436.8" y="192.2" width="3.3" height="1.2" fill="#e8f040" opacity="0.35"/><rect x="460.6" y="128.4" width="3.0" height="1.2" fill="#30d8e0" opacity="0.35"/><rect x="414.5" y="80.6" width="2.6" height="1.2" fill="#40c8f0" opacity="0.35"/><rect x="473.5" y="106.6" width="1.7" height="1.2" fill="#f0d030" opacity="0.35"/><rect x="397.6" y="87.2" width="3.2" height="1.2" fill="#f0d030" opacity="0.35"/><rect x="511.2" y="50.4" width="2.6" height="1.2" fill="#30d8e0" opacity="0.6"/><rect x="462.0" y="138.2" width="2.7" height="1.2" fill="#30d8e0" opacity="0.35"/><rect x="401.2" y="185.3" width="2.5" height="1.2" fill="#30d8e0" opacity="0.35"/><rect x="389.9" y="94.8" width="3.0" height="1.2" fill="#40c8f0" opacity="0.35"/><rect x="462.1" y="148.5" width="3.2" height="1.2" fill="#30d8e0" opacity="0.35"/><rect x="457.0" y="171.1" width="3.3" height="1.2" fill="#30d8e0" opacity="0.35"/><rect x="513.0" y="57.5" width="2.4" height="1.2" fill="#e8f040" opacity="0.35"/><rect x="460.5" y="161.2" width="2.3" height="1.2" fill="#f0d030" opacity="0.35"/><rect x="489.8" y="16.6" width="2.1" height="1.2" fill="#e8f040" opacity="0.6"/><rect x="450.5" y="108.1" width="1.7" height="1.2" fill="#e8f040" opacity="0.35"/><rect x="434.5" y="42.8" width="3.3" height="1.2" fill="#40c8f0" opacity="0.6"/><rect x="460.8" y="67.4" width="2.6" height="1.2" fill="#40c8f0" opacity="0.35"/><rect x="501.0" y="192.0" width="2.1" height="1.2" fill="#f0d030" opacity="0.35"/><rect x="370.0" y="190.8" width="1.7" height="1.2" fill="#30d8e0" opacity="0.35"/><rect x="500.9" y="51.4" width="2.4" height="1.2" fill="#f0d030" opacity="0.6"/><rect x="395.3" y="22.2" width="2.4" height="1.2" fill="#f0d030" opacity="0.6"/><rect x="375.2" y="209.1" width="2.8" height="1.2" fill="#f0d030" opacity="0.35"/><rect x="485.0" y="142.2" width="1.8" height="1.2" fill="#30d8e0" opacity="0.35"/><rect x="502.5" y="20.2" width="2.0" height="1.2" fill="#e8f040" opacity="0.6"/><rect x="421.2" y="28.7" width="2.2" height="1.2" fill="#30d8e0" opacity="0.6"/><rect x="507.7" y="159.6" width="2.1" height="1.2" fill="#30d8e0" opacity="0.35"/><rect x="478.6" y="163.5" width="2.8" height="1.2" fill="#f0d030" opacity="0.35"/><rect x="472.5" y="185.0" width="1.8" height="1.2" fill="#e8f040" opacity="0.35"/><rect x="475.2" y="208.8" width="2.5" height="1.2" fill="#f0d030" opacity="0.35"/><rect x="409.6" y="27.1" width="3.4" height="1.2" fill="#30d8e0" opacity="0.6"/><rect x="383.0" y="177.0" width="2.2" height="1.2" fill="#30d8e0" opacity="0.35"/><rect x="491.2" y="45.3" width="3.1" height="1.2" fill="#f0d030" opacity="0.6"/><rect x="466.4" y="197.1" width="1.7" height="1.2" fill="#30d8e0" opacity="0.35"/><rect x="503.6" y="127.7" width="3.1" height="1.2" fill="#30d8e0" opacity="0.35"/><rect x="512.4" y="187.8" width="1.9" height="1.2" fill="#40c8f0" opacity="0.35"/><rect x="462.1" y="21.9" width="2.4" height="1.2" fill="#f0d030" opacity="0.6"/><rect x="439.6" y="125.4" width="2.6" height="1.2" fill="#30d8e0" opacity="0.35"/><rect x="383.4" y="185.3" width="2.9" height="1.2" fill="#30d8e0" opacity="0.35"/><rect x="421.9" y="97.9" width="2.8" height="1.2" fill="#30d8e0" opacity="0.35"/><rect x="457.1" y="153.3" width="1.7" height="1.2" fill="#e8f040" opacity="0.35"/><rect x="489.4" y="157.2" width="1.9" height="1.2" fill="#30d8e0" opacity="0.35"/><rect x="511.1" y="148.1" width="2.6" height="1.2" fill="#e8f040" opacity="0.35"/><rect x="412.4" y="114.0" width="2.9" height="1.2" fill="#30d8e0" opacity="0.35"/><rect x="465.6" y="104.8" width="2.0" height="1.2" fill="#f0d030" opacity="0.35"/><rect x="417.0" y="92.4" width="3.0" height="1.2" fill="#e8f040" opacity="0.35"/><rect x="404.3" y="124.3" width="2.3" height="1.2" fill="#f0d030" opacity="0.35"/><rect x="372.4" y="47.6" width="3.4" height="1.2" fill="#30d8e0" opacity="0.6"/><rect x="489.0" y="48.5" width="3.5" height="1.2" fill="#30d8e0" opacity="0.6"/><rect x="461.4" y="165.7" width="1.5" height="1.2" fill="#40c8f0" opacity="0.35"/><rect x="428.5" y="151.0" width="1.9" height="1.2" fill="#e8f040" opacity="0.35"/><rect x="366.3" y="171.9" width="3.1" height="1.2" fill="#40c8f0" opacity="0.35"/><rect x="491.4" y="49.0" width="3.1" height="1.2" fill="#f0d030" opacity="0.6"/><rect x="450.3" y="205.6" width="2.1" height="1.2" fill="#f0d030" opacity="0.35"/><rect x="427.6" y="110.2" width="3.0" height="1.2" fill="#40c8f0" opacity="0.35"/><rect x="511.8" y="48.8" width="2.1" height="1.2" fill="#40c8f0" opacity="0.6"/><rect x="451.3" y="118.9" width="2.6" height="1.2" fill="#f0d030" opacity="0.35"/><rect x="449.4" y="65.1" width="3.3" height="1.2" fill="#40c8f0" opacity="0.35"/><rect x="434.1" y="32.3" width="2.5" height="1.2" fill="#40c8f0" opacity="0.6"/><rect x="407.2" y="205.7" width="3.1" height="1.2" fill="#f0d030" opacity="0.35"/><rect x="474.7" y="209.3" width="1.8" height="1.2" fill="#40c8f0" opacity="0.35"/><rect x="441.6" y="52.3" width="3.3" height="1.2" fill="#40c8f0" opacity="0.6"/><rect x="390.1" y="28.4" width="1.8" height="1.2" fill="#40c8f0" opacity="0.6"/><rect x="442.3" y="160.4" width="1.9" height="1.2" fill="#30d8e0" opacity="0.35"/><rect x="482.5" y="22.9" width="3.3" height="1.2" fill="#e8f040" opacity="0.6"/><rect x="446.9" y="74.4" width="3.0" height="1.2" fill="#30d8e0" opacity="0.35"/><rect x="483.1" y="191.9" width="2.6" height="1.2" fill="#30d8e0" opacity="0.35"/><rect x="488.0" y="113.9" width="2.6" height="1.2" fill="#f0d030" opacity="0.35"/><rect x="455.6" y="45.8" width="2.5" height="1.2" fill="#40c8f0" opacity="0.6"/><rect x="472.2" y="25.6" width="1.9" height="1.2" fill="#40c8f0" opacity="0.6"/><rect x="413.9" y="72.4" width="2.4" height="1.2" fill="#e8f040" opacity="0.35"/><rect x="393.3" y="23.9" width="2.0" height="1.2" fill="#f0d030" opacity="0.6"/><rect x="476.1" y="66.8" width="1.6" height="1.2" fill="#f0d030" opacity="0.35"/><rect x="413.5" y="97.2" width="1.9" height="1.2" fill="#30d8e0" opacity="0.35"/><rect x="468.1" y="109.7" width="2.9" height="1.2" fill="#40c8f0" opacity="0.35"/><rect x="409.9" y="144.6" width="3.0" height="1.2" fill="#30d8e0" opacity="0.35"/><rect x="374.1" y="192.3" width="3.4" height="1.2" fill="#e8f040" opacity="0.35"/><rect x="452.0" y="18.7" width="1.9" height="1.2" fill="#f0d030" opacity="0.6"/><rect x="466.6" y="126.6" width="2.4" height="1.2" fill="#40c8f0" opacity="0.35"/><rect x="465.1" y="167.7" width="1.7" height="1.2" fill="#f0d030" opacity="0.35"/><rect x="367.1" y="55.2" width="1.8" height="1.2" fill="#e8f040" opacity="0.35"/><rect x="409.7" y="38.2" width="3.4" height="1.2" fill="#e8f040" opacity="0.6"/><rect x="499.0" y="35.6" width="2.3" height="1.2" fill="#30d8e0" opacity="0.6"/><rect x="401.0" y="190.0" width="2.6" height="1.2" fill="#40c8f0" opacity="0.35"/><rect x="370.9" y="69.3" width="2.7" height="1.2" fill="#30d8e0" opacity="0.35"/><rect x="373.0" y="176.7" width="2.9" height="1.2" fill="#30d8e0" opacity="0.35"/><rect x="392.0" y="193.1" width="1.8" height="1.2" fill="#e8f040" opacity="0.35"/><rect x="384.3" y="54.1" width="2.1" height="1.2" fill="#30d8e0" opacity="0.6"/><rect x="468.3" y="188.0" width="2.8" height="1.2" fill="#30d8e0" opacity="0.35"/><rect x="450.4" y="204.3" width="2.2" height="1.2" fill="#e8f040" opacity="0.35"/><rect x="468.4" y="56.1" width="2.1" height="1.2" fill="#40c8f0" opacity="0.35"/><rect x="378.5" y="176.6" width="2.8" height="1.2" fill="#f0d030" opacity="0.35"/><rect x="409.2" y="168.0" width="3.5" height="1.2" fill="#f0d030" opacity="0.35"/><rect x="372.3" y="76.0" width="3.5" height="1.2" fill="#e8f040" opacity="0.35"/><rect x="440.1" y="42.2" width="2.1" height="1.2" fill="#f0d030" opacity="0.6"/><rect x="500.2" y="98.1" width="3.3" height="1.2" fill="#40c8f0" opacity="0.35"/><rect x="486.3" y="203.0" width="2.8" height="1.2" fill="#30d8e0" opacity="0.35"/><rect x="400.5" y="138.1" width="1.6" height="1.2" fill="#30d8e0" opacity="0.35"/><rect x="378.0" y="42.8" width="1.8" height="1.2" fill="#e8f040" opacity="0.6"/><rect x="394.1" y="88.7" width="2.4" height="1.2" fill="#30d8e0" opacity="0.35"/><rect x="395.7" y="81.4" width="2.4" height="1.2" fill="#f0d030" opacity="0.35"/><rect x="402.6" y="65.8" width="3.3" height="1.2" fill="#f0d030" opacity="0.35"/><rect x="474.1" y="178.5" width="1.7" height="1.2" fill="#e8f040" opacity="0.35"/><rect x="409.5" y="170.8" width="1.9" height="1.2" fill="#30d8e0" opacity="0.35"/><rect x="490.2" y="20.9" width="2.3" height="1.2" fill="#e8f040" opacity="0.6"/><rect x="427.5" y="200.1" width="2.8" height="1.2" fill="#40c8f0" opacity="0.35"/><rect x="506.3" y="163.4" width="1.8" height="1.2" fill="#e8f040" opacity="0.35"/><rect x="500.7" y="196.5" width="1.7" height="1.2" fill="#30d8e0" opacity="0.35"/><rect x="471.7" y="117.3" width="1.7" height="1.2" fill="#f0d030" opacity="0.35"/><rect x="511.2" y="50.6" width="1.9" height="1.2" fill="#f0d030" opacity="0.6"/><rect x="456.0" y="49.5" width="3.3" height="1.2" fill="#e8f040" opacity="0.6"/><rect x="464.9" y="193.8" width="2.4" height="1.2" fill="#40c8f0" opacity="0.35"/><rect x="461.4" y="130.6" width="3.1" height="1.2" fill="#30d8e0" opacity="0.35"/><rect x="415.1" y="28.7" width="3.1" height="1.2" fill="#f0d030" opacity="0.6"/><rect x="510.4" y="37.5" width="1.7" height="1.2" fill="#30d8e0" opacity="0.6"/><rect x="512.7" y="69.3" width="3.5" height="1.2" fill="#40c8f0" opacity="0.35"/><rect x="406.4" y="137.8" width="2.3" height="1.2" fill="#f0d030" opacity="0.35"/><rect x="452.9" y="59.0" width="2.4" height="1.2" fill="#40c8f0" opacity="0.35"/><rect x="438.0" y="144.4" width="2.9" height="1.2" fill="#f0d030" opacity="0.35"/><rect x="374.9" y="22.8" width="3.0" height="1.2" fill="#40c8f0" opacity="0.6"/><rect x="464.7" y="155.0" width="3.1" height="1.2" fill="#30d8e0" opacity="0.35"/><rect x="426.3" y="142.0" width="3.1" height="1.2" fill="#e8f040" opacity="0.35"/><rect x="486.1" y="206.0" width="1.7" height="1.2" fill="#f0d030" opacity="0.35"/><rect x="408.6" y="163.0" width="3.5" height="1.2" fill="#40c8f0" opacity="0.35"/><rect x="477.7" y="188.8" width="3.3" height="1.2" fill="#30d8e0" opacity="0.35"/><rect x="402.0" y="37.9" width="2.1" height="1.2" fill="#e8f040" opacity="0.6"/><rect x="469.6" y="91.7" width="2.7" height="1.2" fill="#40c8f0" opacity="0.35"/><rect x="370.7" y="150.3" width="1.6" height="1.2" fill="#e8f040" opacity="0.35"/><rect x="396.6" y="177.8" width="2.6" height="1.2" fill="#f0d030" opacity="0.35"/><rect x="489.7" y="45.6" width="2.8" height="1.2" fill="#f0d030" opacity="0.6"/><rect x="470.4" y="211.2" width="1.7" height="1.2" fill="#30d8e0" opacity="0.35"/><rect x="408.6" y="15.3" width="3.0" height="1.2" fill="#30d8e0" opacity="0.6"/><rect x="374.6" y="59.1" width="2.9" height="1.2" fill="#30d8e0" opacity="0.35"/><rect x="496.5" y="163.0" width="3.4" height="1.2" fill="#40c8f0" opacity="0.35"/><rect x="506.6" y="22.1" width="3.2" height="1.2" fill="#40c8f0" opacity="0.6"/><rect x="458.3" y="201.6" width="3.1" height="1.2" fill="#30d8e0" opacity="0.35"/><rect x="380.6" y="105.8" width="2.6" height="1.2" fill="#30d8e0" opacity="0.35"/><rect x="410.3" y="201.4" width="2.5" height="1.2" fill="#e8f040" opacity="0.35"/><rect x="370.1" y="158.3" width="2.7" height="1.2" fill="#e8f040" opacity="0.35"/><rect x="456.0" y="138.8" width="2.1" height="1.2" fill="#40c8f0" opacity="0.35"/><rect x="454.7" y="128.8" width="1.6" height="1.2" fill="#30d8e0" opacity="0.35"/><rect x="403.0" y="130.5" width="2.9" height="1.2" fill="#f0d030" opacity="0.35"/><rect x="374.0" y="174.4" width="3.2" height="1.2" fill="#30d8e0" opacity="0.35"/><rect x="373.3" y="86.1" width="3.0" height="1.2" fill="#e8f040" opacity="0.35"/><rect x="437.9" y="134.3" width="2.7" height="1.2" fill="#e8f040" opacity="0.35"/><rect x="427.6" y="78.2" width="1.7" height="1.2" fill="#30d8e0" opacity="0.35"/><rect x="490.7" y="64.4" width="2.9" height="1.2" fill="#40c8f0" opacity="0.35"/><rect x="466.6" y="106.7" width="2.2" height="1.2" fill="#30d8e0" opacity="0.35"/><rect x="366.5" y="182.5" width="2.3" height="1.2" fill="#e8f040" opacity="0.35"/><rect x="429.1" y="135.8" width="2.3" height="1.2" fill="#f0d030" opacity="0.35"/><rect x="499.5" y="15.5" width="1.5" height="1.2" fill="#e8f040" opacity="0.6"/><rect x="390.0" y="142.3" width="1.9" height="1.2" fill="#30d8e0" opacity="0.35"/><rect x="487.5" y="190.2" width="2.1" height="1.2" fill="#f0d030" opacity="0.35"/><rect x="500.4" y="24.3" width="2.9" height="1.2" fill="#f0d030" opacity="0.6"/><rect x="410.3" y="200.6" width="2.0" height="1.2" fill="#30d8e0" opacity="0.35"/><rect x="438.5" y="123.5" width="2.1" height="1.2" fill="#f0d030" opacity="0.35"/><rect x="414.2" y="165.9" width="2.4" height="1.2" fill="#40c8f0" opacity="0.35"/><rect x="423.3" y="92.7" width="1.7" height="1.2" fill="#30d8e0" opacity="0.35"/><rect x="424.3" y="166.2" width="3.0" height="1.2" fill="#e8f040" opacity="0.35"/><rect x="425.5" y="136.9" width="3.3" height="1.2" fill="#f0d030" opacity="0.35"/><rect x="512.3" y="110.1" width="3.2" height="1.2" fill="#40c8f0" opacity="0.35"/><rect x="419.3" y="97.9" width="2.7" height="1.2" fill="#30d8e0" opacity="0.35"/><rect x="378.3" y="48.7" width="2.9" height="1.2" fill="#f0d030" opacity="0.6"/><rect x="409.2" y="205.7" width="2.8" height="1.2" fill="#e8f040" opacity="0.35"/><rect x="481.2" y="93.1" width="3.2" height="1.2" fill="#30d8e0" opacity="0.35"/><rect x="429.8" y="114.7" width="2.3" height="1.2" fill="#40c8f0" opacity="0.35"/><rect x="366.1" y="50.6" width="1.5" height="1.2" fill="#f0d030" opacity="0.6"/><rect x="369.2" y="50.9" width="2.6" height="1.2" fill="#f0d030" opacity="0.6"/><rect x="478.1" y="152.3" width="2.7" height="1.2" fill="#40c8f0" opacity="0.35"/><rect x="369.2" y="34.8" width="2.8" height="1.2" fill="#40c8f0" opacity="0.6"/><rect x="422.2" y="41.9" width="3.5" height="1.2" fill="#30d8e0" opacity="0.6"/><rect x="508.8" y="147.7" width="3.2" height="1.2" fill="#40c8f0" opacity="0.35"/><rect x="416.4" y="56.2" width="2.9" height="1.2" fill="#30d8e0" opacity="0.35"/><rect x="460.7" y="105.9" width="2.9" height="1.2" fill="#40c8f0" opacity="0.35"/><rect x="486.5" y="195.6" width="2.4" height="1.2" fill="#40c8f0" opacity="0.35"/><rect x="459.2" y="178.2" width="1.9" height="1.2" fill="#f0d030" opacity="0.35"/><rect x="436.2" y="194.7" width="1.6" height="1.2" fill="#40c8f0" opacity="0.35"/><rect x="444.4" y="194.7" width="1.9" height="1.2" fill="#f0d030" opacity="0.35"/><rect x="502.1" y="140.1" width="1.7" height="1.2" fill="#e8f040" opacity="0.35"/><rect x="490.0" y="197.2" width="2.2" height="1.2" fill="#30d8e0" opacity="0.35"/>
<rect x="489.2" y="23.9" width="2.6" height="1.2" fill="#30d8e0" opacity="0.55"/><rect x="466.5" y="18.8" width="2.3" height="1.2" fill="#f0d030" opacity="0.55"/><rect x="429.2" y="46.3" width="1.8" height="1.2" fill="#30d8e0" opacity="0.55"/><rect x="424.6" y="34.9" width="2.2" height="1.2" fill="#40c8f0" opacity="0.55"/><rect x="474.8" y="36.0" width="2.9" height="1.2" fill="#f0d030" opacity="0.55"/><rect x="444.4" y="15.7" width="2.7" height="1.2" fill="#40c8f0" opacity="0.55"/><rect x="437.0" y="53.1" width="2.4" height="1.2" fill="#30d8e0" opacity="0.55"/><rect x="452.6" y="26.4" width="2.8" height="1.2" fill="#30d8e0" opacity="0.55"/><rect x="432.8" y="32.1" width="1.7" height="1.2" fill="#e8f040" opacity="0.55"/><rect x="433.4" y="48.8" width="2.9" height="1.2" fill="#3a70d0" opacity="0.55"/><rect x="458.0" y="23.6" width="2.1" height="1.2" fill="#3a70d0" opacity="0.55"/><rect x="455.3" y="48.1" width="2.7" height="1.2" fill="#30d8e0" opacity="0.55"/><rect x="425.6" y="39.8" width="2.5" height="1.2" fill="#30d8e0" opacity="0.55"/><rect x="395.6" y="43.2" width="1.5" height="1.2" fill="#40c8f0" opacity="0.55"/><rect x="455.6" y="56.2" width="2.3" height="1.2" fill="#e8f040" opacity="0.55"/><rect x="430.0" y="31.1" width="2.4" height="1.2" fill="#3a70d0" opacity="0.55"/><rect x="424.4" y="31.9" width="2.4" height="1.2" fill="#30d8e0" opacity="0.55"/><rect x="466.6" y="43.3" width="2.7" height="1.2" fill="#3a70d0" opacity="0.55"/><rect x="503.5" y="52.5" width="2.7" height="1.2" fill="#40c8f0" opacity="0.55"/><rect x="407.4" y="22.2" width="2.2" height="1.2" fill="#e8f040" opacity="0.55"/><rect x="429.8" y="17.8" width="1.6" height="1.2" fill="#e8f040" opacity="0.55"/><rect x="441.6" y="55.1" width="1.8" height="1.2" fill="#e8f040" opacity="0.55"/><rect x="434.7" y="32.2" width="2.7" height="1.2" fill="#30d8e0" opacity="0.55"/><rect x="466.9" y="23.6" width="2.8" height="1.2" fill="#30d8e0" opacity="0.55"/><rect x="396.4" y="51.9" width="1.8" height="1.2" fill="#30d8e0" opacity="0.55"/><rect x="474.4" y="29.5" width="2.9" height="1.2" fill="#f0d030" opacity="0.55"/><rect x="443.2" y="41.2" width="2.3" height="1.2" fill="#f0d030" opacity="0.55"/><rect x="492.5" y="15.6" width="1.7" height="1.2" fill="#3a70d0" opacity="0.55"/><rect x="457.2" y="24.4" width="1.9" height="1.2" fill="#30d8e0" opacity="0.55"/><rect x="438.4" y="32.7" width="2.5" height="1.2" fill="#30d8e0" opacity="0.55"/><rect x="470.5" y="32.8" width="3.0" height="1.2" fill="#40c8f0" opacity="0.55"/><rect x="508.8" y="28.4" width="1.7" height="1.2" fill="#3a70d0" opacity="0.55"/><rect x="405.0" y="36.8" width="2.4" height="1.2" fill="#40c8f0" opacity="0.55"/><rect x="390.7" y="31.6" width="2.9" height="1.2" fill="#40c8f0" opacity="0.55"/><rect x="511.1" y="55.4" width="1.6" height="1.2" fill="#e8f040" opacity="0.55"/><rect x="445.6" y="43.8" width="3.0" height="1.2" fill="#30d8e0" opacity="0.55"/><rect x="480.7" y="31.0" width="2.0" height="1.2" fill="#3a70d0" opacity="0.55"/><rect x="418.1" y="42.3" width="2.2" height="1.2" fill="#3a70d0" opacity="0.55"/><rect x="486.8" y="32.2" width="2.9" height="1.2" fill="#30d8e0" opacity="0.55"/><rect x="453.8" y="20.7" width="2.5" height="1.2" fill="#30d8e0" opacity="0.55"/><rect x="399.3" y="16.5" width="2.1" height="1.2" fill="#e8f040" opacity="0.55"/><rect x="490.7" y="21.7" width="1.7" height="1.2" fill="#40c8f0" opacity="0.55"/><rect x="386.5" y="31.5" width="1.7" height="1.2" fill="#3a70d0" opacity="0.55"/><rect x="484.6" y="27.1" width="1.7" height="1.2" fill="#30d8e0" opacity="0.55"/><rect x="410.0" y="23.5" width="1.7" height="1.2" fill="#30d8e0" opacity="0.55"/><rect x="391.1" y="24.6" width="2.3" height="1.2" fill="#e8f040" opacity="0.55"/><rect x="501.3" y="42.6" width="2.0" height="1.2" fill="#30d8e0" opacity="0.55"/><rect x="391.0" y="44.5" width="1.7" height="1.2" fill="#30d8e0" opacity="0.55"/><rect x="416.4" y="45.5" width="1.6" height="1.2" fill="#40c8f0" opacity="0.55"/><rect x="450.9" y="27.2" width="2.3" height="1.2" fill="#40c8f0" opacity="0.55"/><rect x="390.1" y="48.9" width="1.6" height="1.2" fill="#30d8e0" opacity="0.55"/><rect x="390.0" y="47.3" width="2.6" height="1.2" fill="#e8f040" opacity="0.55"/><rect x="401.2" y="30.6" width="2.5" height="1.2" fill="#3a70d0" opacity="0.55"/><rect x="399.2" y="34.0" width="2.9" height="1.2" fill="#e8f040" opacity="0.55"/><rect x="468.6" y="37.0" width="1.5" height="1.2" fill="#30d8e0" opacity="0.55"/><rect x="442.1" y="54.2" width="2.2" height="1.2" fill="#3a70d0" opacity="0.55"/><rect x="443.3" y="27.5" width="2.4" height="1.2" fill="#3a70d0" opacity="0.55"/><rect x="460.5" y="53.7" width="2.0" height="1.2" fill="#40c8f0" opacity="0.55"/><rect x="394.5" y="15.5" width="2.6" height="1.2" fill="#40c8f0" opacity="0.55"/><rect x="426.9" y="27.4" width="1.8" height="1.2" fill="#e8f040" opacity="0.55"/><rect x="503.8" y="29.5" width="3.0" height="1.2" fill="#f0d030" opacity="0.55"/><rect x="488.1" y="18.4" width="1.7" height="1.2" fill="#3a70d0" opacity="0.55"/><rect x="394.1" y="38.1" width="1.5" height="1.2" fill="#30d8e0" opacity="0.55"/><rect x="498.4" y="26.6" width="2.6" height="1.2" fill="#30d8e0" opacity="0.55"/><rect x="435.1" y="48.7" width="2.2" height="1.2" fill="#f0d030" opacity="0.55"/><rect x="444.7" y="21.5" width="1.6" height="1.2" fill="#3a70d0" opacity="0.55"/><rect x="492.6" y="31.3" width="2.5" height="1.2" fill="#f0d030" opacity="0.55"/><rect x="485.1" y="22.3" width="2.2" height="1.2" fill="#3a70d0" opacity="0.55"/><rect x="396.3" y="53.2" width="2.9" height="1.2" fill="#f0d030" opacity="0.55"/><rect x="497.7" y="17.6" width="2.3" height="1.2" fill="#f0d030" opacity="0.55"/><rect x="456.2" y="42.8" width="2.0" height="1.2" fill="#f0d030" opacity="0.55"/><rect x="483.3" y="36.1" width="2.5" height="1.2" fill="#30d8e0" opacity="0.55"/><rect x="511.9" y="44.1" width="1.7" height="1.2" fill="#3a70d0" opacity="0.55"/><rect x="418.3" y="25.6" width="2.7" height="1.2" fill="#e8f040" opacity="0.55"/><rect x="402.1" y="30.7" width="3.0" height="1.2" fill="#e8f040" opacity="0.55"/><rect x="466.4" y="29.2" width="2.9" height="1.2" fill="#f0d030" opacity="0.55"/><rect x="418.5" y="35.3" width="2.1" height="1.2" fill="#f0d030" opacity="0.55"/><rect x="394.8" y="48.5" width="1.7" height="1.2" fill="#40c8f0" opacity="0.55"/><rect x="491.4" y="19.6" width="2.3" height="1.2" fill="#40c8f0" opacity="0.55"/><rect x="419.7" y="36.5" width="2.7" height="1.2" fill="#40c8f0" opacity="0.55"/><rect x="466.3" y="45.6" width="2.8" height="1.2" fill="#e8f040" opacity="0.55"/><rect x="411.6" y="19.8" width="2.8" height="1.2" fill="#40c8f0" opacity="0.55"/><rect x="417.4" y="45.0" width="2.5" height="1.2" fill="#30d8e0" opacity="0.55"/><rect x="453.2" y="46.7" width="2.4" height="1.2" fill="#f0d030" opacity="0.55"/><rect x="492.3" y="23.2" width="1.8" height="1.2" fill="#40c8f0" opacity="0.55"/><rect x="500.0" y="34.8" width="1.7" height="1.2" fill="#e8f040" opacity="0.55"/><rect x="392.6" y="25.0" width="1.5" height="1.2" fill="#3a70d0" opacity="0.55"/><rect x="392.3" y="28.9" width="2.1" height="1.2" fill="#f0d030" opacity="0.55"/><rect x="450.1" y="44.5" width="2.0" height="1.2" fill="#e8f040" opacity="0.55"/><rect x="472.3" y="29.1" width="1.5" height="1.2" fill="#f0d030" opacity="0.55"/><rect x="430.1" y="15.2" width="1.9" height="1.2" fill="#3a70d0" opacity="0.55"/><rect x="401.4" y="41.5" width="2.5" height="1.2" fill="#e8f040" opacity="0.55"/><rect x="457.1" y="54.4" width="1.7" height="1.2" fill="#f0d030" opacity="0.55"/><rect x="426.5" y="40.3" width="2.0" height="1.2" fill="#3a70d0" opacity="0.55"/><rect x="405.7" y="37.4" width="2.1" height="1.2" fill="#3a70d0" opacity="0.55"/><rect x="392.5" y="41.7" width="2.3" height="1.2" fill="#f0d030" opacity="0.55"/><rect x="476.9" y="32.1" width="2.7" height="1.2" fill="#3a70d0" opacity="0.55"/><rect x="470.4" y="17.8" width="2.0" height="1.2" fill="#30d8e0" opacity="0.55"/><rect x="438.0" y="38.0" width="2.6" height="1.2" fill="#e8f040" opacity="0.55"/><rect x="512.5" y="25.5" width="1.9" height="1.2" fill="#40c8f0" opacity="0.55"/><rect x="472.4" y="48.0" width="1.9" height="1.2" fill="#f0d030" opacity="0.55"/><rect x="497.7" y="39.9" width="1.7" height="1.2" fill="#3a70d0" opacity="0.55"/><rect x="482.1" y="31.7" width="2.6" height="1.2" fill="#e8f040" opacity="0.55"/><rect x="510.7" y="32.0" width="2.0" height="1.2" fill="#30d8e0" opacity="0.55"/><rect x="509.6" y="49.5" width="2.5" height="1.2" fill="#f0d030" opacity="0.55"/><rect x="445.5" y="55.0" width="2.0" height="1.2" fill="#40c8f0" opacity="0.55"/><rect x="457.9" y="40.8" width="1.9" height="1.2" fill="#40c8f0" opacity="0.55"/><rect x="481.0" y="22.8" width="2.2" height="1.2" fill="#3a70d0" opacity="0.55"/><rect x="507.9" y="40.3" width="1.8" height="1.2" fill="#3a70d0" opacity="0.55"/><rect x="498.8" y="56.1" width="2.1" height="1.2" fill="#30d8e0" opacity="0.55"/><rect x="434.2" y="39.4" width="2.9" height="1.2" fill="#40c8f0" opacity="0.55"/><rect x="484.3" y="30.8" width="1.6" height="1.2" fill="#f0d030" opacity="0.55"/><rect x="399.6" y="37.8" width="1.9" height="1.2" fill="#f0d030" opacity="0.55"/><rect x="387.7" y="16.4" width="1.5" height="1.2" fill="#f0d030" opacity="0.55"/><rect x="493.2" y="26.9" width="2.6" height="1.2" fill="#40c8f0" opacity="0.55"/><rect x="483.7" y="23.8" width="1.6" height="1.2" fill="#3a70d0" opacity="0.55"/><rect x="453.6" y="38.2" width="1.8" height="1.2" fill="#30d8e0" opacity="0.55"/><rect x="496.0" y="37.2" width="2.9" height="1.2" fill="#e8f040" opacity="0.55"/><rect x="398.2" y="17.5" width="2.1" height="1.2" fill="#f0d030" opacity="0.55"/><rect x="420.6" y="22.6" width="2.6" height="1.2" fill="#3a70d0" opacity="0.55"/><rect x="396.9" y="19.7" width="1.5" height="1.2" fill="#30d8e0" opacity="0.55"/><rect x="475.0" y="18.1" width="1.8" height="1.2" fill="#3a70d0" opacity="0.55"/><rect x="464.2" y="43.0" width="2.1" height="1.2" fill="#f0d030" opacity="0.55"/><rect x="447.1" y="38.1" width="1.5" height="1.2" fill="#f0d030" opacity="0.55"/><rect x="479.3" y="52.3" width="2.8" height="1.2" fill="#40c8f0" opacity="0.55"/><rect x="456.5" y="20.2" width="2.1" height="1.2" fill="#3a70d0" opacity="0.55"/><rect x="467.8" y="29.6" width="2.7" height="1.2" fill="#30d8e0" opacity="0.55"/><rect x="436.2" y="17.1" width="1.8" height="1.2" fill="#40c8f0" opacity="0.55"/><rect x="436.5" y="29.6" width="2.2" height="1.2" fill="#30d8e0" opacity="0.55"/><rect x="453.0" y="22.6" width="2.9" height="1.2" fill="#f0d030" opacity="0.55"/><rect x="462.3" y="30.1" width="3.0" height="1.2" fill="#e8f040" opacity="0.55"/><rect x="510.3" y="19.3" width="1.7" height="1.2" fill="#3a70d0" opacity="0.55"/><rect x="420.1" y="47.1" width="2.4" height="1.2" fill="#e8f040" opacity="0.55"/><rect x="427.0" y="34.9" width="2.6" height="1.2" fill="#f0d030" opacity="0.55"/><rect x="453.1" y="22.7" width="2.9" height="1.2" fill="#f0d030" opacity="0.55"/><rect x="409.7" y="50.1" width="2.6" height="1.2" fill="#40c8f0" opacity="0.55"/><rect x="418.6" y="36.8" width="2.6" height="1.2" fill="#3a70d0" opacity="0.55"/><rect x="505.5" y="16.8" width="1.5" height="1.2" fill="#f0d030" opacity="0.55"/><rect x="425.0" y="27.6" width="2.7" height="1.2" fill="#40c8f0" opacity="0.55"/><rect x="470.1" y="47.0" width="1.8" height="1.2" fill="#f0d030" opacity="0.55"/><rect x="466.2" y="55.8" width="1.9" height="1.2" fill="#30d8e0" opacity="0.55"/><rect x="466.1" y="19.5" width="2.1" height="1.2" fill="#40c8f0" opacity="0.55"/><rect x="478.7" y="45.2" width="2.2" height="1.2" fill="#3a70d0" opacity="0.55"/><rect x="411.7" y="45.2" width="1.6" height="1.2" fill="#3a70d0" opacity="0.55"/><rect x="466.0" y="42.7" width="1.7" height="1.2" fill="#3a70d0" opacity="0.55"/><rect x="386.3" y="23.0" width="2.3" height="1.2" fill="#30d8e0" opacity="0.55"/><rect x="387.4" y="38.0" width="1.6" height="1.2" fill="#e8f040" opacity="0.55"/><rect x="473.1" y="42.8" width="2.9" height="1.2" fill="#40c8f0" opacity="0.55"/><rect x="505.2" y="24.4" width="1.6" height="1.2" fill="#40c8f0" opacity="0.55"/><rect x="476.1" y="24.4" width="2.1" height="1.2" fill="#40c8f0" opacity="0.55"/><rect x="441.7" y="22.5" width="2.6" height="1.2" fill="#40c8f0" opacity="0.55"/><rect x="510.3" y="48.1" width="3.0" height="1.2" fill="#40c8f0" opacity="0.55"/><rect x="435.9" y="23.2" width="2.3" height="1.2" fill="#e8f040" opacity="0.55"/><rect x="448.2" y="53.3" width="3.0" height="1.2" fill="#e8f040" opacity="0.55"/><rect x="448.5" y="41.9" width="2.9" height="1.2" fill="#30d8e0" opacity="0.55"/><rect x="467.1" y="29.0" width="2.3" height="1.2" fill="#e8f040" opacity="0.55"/><rect x="423.3" y="24.9" width="2.8" height="1.2" fill="#f0d030" opacity="0.55"/><rect x="500.5" y="25.1" width="2.3" height="1.2" fill="#3a70d0" opacity="0.55"/><rect x="499.0" y="34.8" width="2.4" height="1.2" fill="#30d8e0" opacity="0.55"/><rect x="481.4" y="18.3" width="2.1" height="1.2" fill="#30d8e0" opacity="0.55"/><rect x="492.5" y="17.9" width="2.8" height="1.2" fill="#30d8e0" opacity="0.55"/><rect x="513.2" y="39.5" width="2.1" height="1.2" fill="#f0d030" opacity="0.55"/><rect x="420.9" y="37.1" width="2.7" height="1.2" fill="#e8f040" opacity="0.55"/><rect x="454.7" y="46.6" width="2.9" height="1.2" fill="#30d8e0" opacity="0.55"/><rect x="431.1" y="36.5" width="2.4" height="1.2" fill="#40c8f0" opacity="0.55"/><rect x="503.4" y="19.5" width="2.2" height="1.2" fill="#f0d030" opacity="0.55"/><rect x="460.9" y="24.3" width="1.8" height="1.2" fill="#f0d030" opacity="0.55"/><rect x="512.8" y="47.6" width="2.5" height="1.2" fill="#40c8f0" opacity="0.55"/><rect x="452.2" y="42.0" width="1.9" height="1.2" fill="#e8f040" opacity="0.55"/><rect x="448.5" y="46.7" width="2.1" height="1.2" fill="#e8f040" opacity="0.55"/><rect x="422.1" y="26.0" width="2.5" height="1.2" fill="#e8f040" opacity="0.55"/><rect x="475.2" y="25.8" width="2.2" height="1.2" fill="#3a70d0" opacity="0.55"/><rect x="504.7" y="40.2" width="3.0" height="1.2" fill="#40c8f0" opacity="0.55"/><rect x="477.4" y="54.2" width="2.7" height="1.2" fill="#40c8f0" opacity="0.55"/><rect x="402.0" y="36.3" width="2.8" height="1.2" fill="#3a70d0" opacity="0.55"/><rect x="427.8" y="24.8" width="2.4" height="1.2" fill="#e8f040" opacity="0.55"/><rect x="456.0" y="18.3" width="1.7" height="1.2" fill="#30d8e0" opacity="0.55"/><rect x="505.7" y="20.9" width="2.4" height="1.2" fill="#40c8f0" opacity="0.55"/><rect x="500.4" y="17.6" width="2.0" height="1.2" fill="#40c8f0" opacity="0.55"/><rect x="509.3" y="40.2" width="1.7" height="1.2" fill="#40c8f0" opacity="0.55"/><rect x="438.8" y="44.0" width="2.9" height="1.2" fill="#f0d030" opacity="0.55"/><rect x="492.8" y="50.6" width="2.2" height="1.2" fill="#3a70d0" opacity="0.55"/><rect x="487.7" y="41.5" width="2.7" height="1.2" fill="#f0d030" opacity="0.55"/><rect x="448.5" y="39.6" width="2.7" height="1.2" fill="#e8f040" opacity="0.55"/><rect x="453.1" y="23.3" width="2.5" height="1.2" fill="#f0d030" opacity="0.55"/><rect x="424.1" y="24.8" width="2.2" height="1.2" fill="#e8f040" opacity="0.55"/><rect x="396.5" y="32.3" width="1.8" height="1.2" fill="#3a70d0" opacity="0.55"/><rect x="399.2" y="23.5" width="2.3" height="1.2" fill="#30d8e0" opacity="0.55"/><rect x="461.6" y="33.1" width="2.6" height="1.2" fill="#3a70d0" opacity="0.55"/><rect x="513.1" y="29.0" width="2.8" height="1.2" fill="#3a70d0" opacity="0.55"/><rect x="408.4" y="28.3" width="2.0" height="1.2" fill="#f0d030" opacity="0.55"/><rect x="466.3" y="29.5" width="1.8" height="1.2" fill="#40c8f0" opacity="0.55"/><rect x="475.6" y="47.3" width="2.9" height="1.2" fill="#f0d030" opacity="0.55"/><rect x="494.6" y="22.4" width="1.9" height="1.2" fill="#3a70d0" opacity="0.55"/><rect x="494.3" y="23.5" width="2.8" height="1.2" fill="#3a70d0" opacity="0.55"/><rect x="457.6" y="43.0" width="2.5" height="1.2" fill="#40c8f0" opacity="0.55"/><rect x="428.9" y="46.8" width="2.3" height="1.2" fill="#f0d030" opacity="0.55"/><rect x="496.0" y="29.7" width="2.7" height="1.2" fill="#40c8f0" opacity="0.55"/><rect x="440.6" y="47.3" width="2.7" height="1.2" fill="#e8f040" opacity="0.55"/><rect x="412.3" y="31.3" width="2.3" height="1.2" fill="#e8f040" opacity="0.55"/><rect x="390.6" y="48.5" width="2.1" height="1.2" fill="#30d8e0" opacity="0.55"/><rect x="435.1" y="39.4" width="2.6" height="1.2" fill="#40c8f0" opacity="0.55"/><rect x="388.2" y="24.9" width="2.8" height="1.2" fill="#e8f040" opacity="0.55"/><rect x="500.6" y="52.9" width="2.6" height="1.2" fill="#30d8e0" opacity="0.55"/><rect x="486.0" y="44.6" width="1.7" height="1.2" fill="#3a70d0" opacity="0.55"/><rect x="496.8" y="40.4" width="2.8" height="1.2" fill="#30d8e0" opacity="0.55"/><rect x="386.9" y="56.2" width="1.6" height="1.2" fill="#3a70d0" opacity="0.55"/><rect x="461.7" y="29.3" width="2.4" height="1.2" fill="#f0d030" opacity="0.55"/><rect x="499.0" y="54.6" width="2.4" height="1.2" fill="#f0d030" opacity="0.55"/><rect x="489.4" y="38.4" width="2.2" height="1.2" fill="#3a70d0" opacity="0.55"/><rect x="416.1" y="28.6" width="2.7" height="1.2" fill="#3a70d0" opacity="0.55"/><rect x="480.7" y="52.7" width="2.5" height="1.2" fill="#30d8e0" opacity="0.55"/><rect x="467.5" y="24.0" width="2.7" height="1.2" fill="#f0d030" opacity="0.55"/><rect x="415.7" y="30.2" width="2.7" height="1.2" fill="#40c8f0" opacity="0.55"/><rect x="396.0" y="53.7" width="2.9" height="1.2" fill="#30d8e0" opacity="0.55"/><rect x="484.4" y="31.7" width="2.8" height="1.2" fill="#30d8e0" opacity="0.55"/><rect x="444.5" y="35.3" width="1.6" height="1.2" fill="#40c8f0" opacity="0.55"/><rect x="494.8" y="22.0" width="1.8" height="1.2" fill="#f0d030" opacity="0.55"/><rect x="476.2" y="46.9" width="2.7" height="1.2" fill="#3a70d0" opacity="0.55"/><rect x="459.8" y="26.0" width="2.9" height="1.2" fill="#40c8f0" opacity="0.55"/><rect x="433.1" y="31.9" width="2.8" height="1.2" fill="#30d8e0" opacity="0.55"/><rect x="499.6" y="49.3" width="3.0" height="1.2" fill="#e8f040" opacity="0.55"/><rect x="387.9" y="26.7" width="2.2" height="1.2" fill="#e8f040" opacity="0.55"/><rect x="444.3" y="20.8" width="1.8" height="1.2" fill="#f0d030" opacity="0.55"/><rect x="411.7" y="28.1" width="1.9" height="1.2" fill="#30d8e0" opacity="0.55"/><rect x="410.3" y="47.4" width="2.8" height="1.2" fill="#f0d030" opacity="0.55"/><rect x="441.4" y="36.8" width="2.5" height="1.2" fill="#40c8f0" opacity="0.55"/><rect x="487.1" y="16.6" width="2.4" height="1.2" fill="#30d8e0" opacity="0.55"/><rect x="391.3" y="30.7" width="2.0" height="1.2" fill="#40c8f0" opacity="0.55"/><rect x="427.4" y="28.9" width="2.7" height="1.2" fill="#40c8f0" opacity="0.55"/><rect x="463.4" y="42.8" width="2.0" height="1.2" fill="#3a70d0" opacity="0.55"/><rect x="429.5" y="33.5" width="1.8" height="1.2" fill="#40c8f0" opacity="0.55"/><rect x="505.5" y="27.2" width="1.8" height="1.2" fill="#f0d030" opacity="0.55"/><rect x="499.0" y="56.1" width="2.9" height="1.2" fill="#3a70d0" opacity="0.55"/><rect x="401.1" y="55.1" width="2.0" height="1.2" fill="#40c8f0" opacity="0.55"/><rect x="407.6" y="52.2" width="2.0" height="1.2" fill="#30d8e0" opacity="0.55"/><rect x="483.6" y="27.1" width="2.3" height="1.2" fill="#f0d030" opacity="0.55"/><rect x="434.7" y="40.2" width="2.2" height="1.2" fill="#f0d030" opacity="0.55"/><rect x="414.9" y="18.9" width="2.8" height="1.2" fill="#3a70d0" opacity="0.55"/><rect x="426.6" y="38.7" width="1.8" height="1.2" fill="#e8f040" opacity="0.55"/><rect x="501.5" y="26.1" width="2.4" height="1.2" fill="#e8f040" opacity="0.55"/><rect x="418.8" y="17.8" width="1.8" height="1.2" fill="#e8f040" opacity="0.55"/><rect x="388.7" y="19.5" width="1.9" height="1.2" fill="#40c8f0" opacity="0.55"/><rect x="481.0" y="42.8" width="2.8" height="1.2" fill="#f0d030" opacity="0.55"/><rect x="462.1" y="43.5" width="2.9" height="1.2" fill="#e8f040" opacity="0.55"/><rect x="497.9" y="42.7" width="2.1" height="1.2" fill="#40c8f0" opacity="0.55"/><rect x="505.0" y="34.2" width="3.0" height="1.2" fill="#3a70d0" opacity="0.55"/><rect x="398.4" y="31.5" width="2.5" height="1.2" fill="#e8f040" opacity="0.55"/><rect x="448.3" y="23.1" width="1.9" height="1.2" fill="#e8f040" opacity="0.55"/><rect x="407.8" y="55.8" width="2.0" height="1.2" fill="#3a70d0" opacity="0.55"/><rect x="512.8" y="29.4" width="1.9" height="1.2" fill="#3a70d0" opacity="0.55"/><rect x="512.4" y="38.7" width="2.3" height="1.2" fill="#3a70d0" opacity="0.55"/><rect x="428.3" y="32.4" width="2.9" height="1.2" fill="#40c8f0" opacity="0.55"/><rect x="441.5" y="48.3" width="1.6" height="1.2" fill="#30d8e0" opacity="0.55"/><rect x="422.4" y="39.9" width="2.5" height="1.2" fill="#f0d030" opacity="0.55"/><rect x="434.6" y="41.7" width="2.8" height="1.2" fill="#e8f040" opacity="0.55"/><rect x="494.2" y="29.1" width="1.8" height="1.2" fill="#3a70d0" opacity="0.55"/><rect x="431.5" y="49.0" width="2.4" height="1.2" fill="#40c8f0" opacity="0.55"/><rect x="467.2" y="16.3" width="1.6" height="1.2" fill="#f0d030" opacity="0.55"/><rect x="422.8" y="48.7" width="2.4" height="1.2" fill="#30d8e0" opacity="0.55"/>
<path d="M441.0,15.7 L514.0,15.4" fill="none" stroke="#e09030" stroke-width="1.0" opacity="0.55" stroke-dasharray="4 2" stroke-dashoffset="0"/>
<path d="M441.0,17.5 L514.0,17.2" fill="none" stroke="#3f8fd8" stroke-width="1.0" opacity="0.55" stroke-dasharray="4 2" stroke-dashoffset="1"/>
<path d="M441.0,19.3 L514.0,19.0" fill="none" stroke="#e09030" stroke-width="1.0" opacity="0.55" stroke-dasharray="4 2" stroke-dashoffset="2"/>
<path d="M441.0,21.1 L514.0,20.8" fill="none" stroke="#3f8fd8" stroke-width="1.0" opacity="0.55" stroke-dasharray="4 2" stroke-dashoffset="3"/>
<g filter="url(#sblur)"><rect x="453.4" y="39.8" width="1.8" height="1.5" fill="#3a48b0" opacity="0.7"/><rect x="450.5" y="39.3" width="1.8" height="1.5" fill="#c86040" opacity="0.7"/><rect x="452.3" y="39.2" width="1.8" height="1.5" fill="#5060c0" opacity="0.7"/><rect x="451.8" y="39.7" width="1.8" height="1.5" fill="#5060c0" opacity="0.7"/><rect x="451.4" y="42.0" width="1.8" height="1.5" fill="#b83a3a" opacity="0.7"/><rect x="450.7" y="39.0" width="1.8" height="1.5" fill="#2a9ad8" opacity="0.7"/><rect x="451.7" y="38.2" width="1.8" height="1.5" fill="#c86040" opacity="0.7"/><rect x="460.4" y="41.3" width="1.8" height="1.5" fill="#3a48b0" opacity="0.7"/><rect x="461.3" y="41.1" width="1.8" height="1.5" fill="#5060c0" opacity="0.7"/><rect x="460.3" y="41.8" width="1.8" height="1.5" fill="#3a48b0" opacity="0.7"/><rect x="462.0" y="40.1" width="1.8" height="1.5" fill="#b83a3a" opacity="0.7"/><rect x="457.0" y="40.1" width="1.8" height="1.5" fill="#2a9ad8" opacity="0.7"/><rect x="461.3" y="39.9" width="1.8" height="1.5" fill="#3a48b0" opacity="0.7"/><rect x="464.0" y="40.9" width="1.8" height="1.5" fill="#3a48b0" opacity="0.7"/><rect x="480.4" y="35.0" width="1.8" height="1.5" fill="#5060c0" opacity="0.7"/><rect x="479.9" y="35.2" width="1.8" height="1.5" fill="#b83a3a" opacity="0.7"/><rect x="477.4" y="35.2" width="1.8" height="1.5" fill="#c86040" opacity="0.7"/><rect x="481.0" y="35.8" width="1.8" height="1.5" fill="#3a48b0" opacity="0.7"/><rect x="478.2" y="36.3" width="1.8" height="1.5" fill="#c86040" opacity="0.7"/><rect x="474.8" y="34.3" width="1.8" height="1.5" fill="#3a48b0" opacity="0.7"/><rect x="474.6" y="35.5" width="1.8" height="1.5" fill="#c86040" opacity="0.7"/><rect x="485.4" y="34.7" width="1.8" height="1.5" fill="#3a48b0" opacity="0.7"/><rect x="489.4" y="33.8" width="1.8" height="1.5" fill="#c86040" opacity="0.7"/><rect x="489.3" y="36.6" width="1.8" height="1.5" fill="#5060c0" opacity="0.7"/><rect x="489.5" y="36.8" width="1.8" height="1.5" fill="#2a9ad8" opacity="0.7"/><rect x="489.1" y="35.1" width="1.8" height="1.5" fill="#2a9ad8" opacity="0.7"/><rect x="487.8" y="34.8" width="1.8" height="1.5" fill="#3a48b0" opacity="0.7"/><rect x="488.2" y="37.2" width="1.8" height="1.5" fill="#b83a3a" opacity="0.7"/><rect x="498.9" y="33.3" width="1.8" height="1.5" fill="#b83a3a" opacity="0.7"/><rect x="495.1" y="33.5" width="1.8" height="1.5" fill="#b83a3a" opacity="0.7"/><rect x="495.6" y="32.0" width="1.8" height="1.5" fill="#b83a3a" opacity="0.7"/><rect x="495.1" y="31.7" width="1.8" height="1.5" fill="#b83a3a" opacity="0.7"/><rect x="501.0" y="32.8" width="1.8" height="1.5" fill="#b83a3a" opacity="0.7"/><rect x="499.8" y="33.9" width="1.8" height="1.5" fill="#5060c0" opacity="0.7"/><rect x="499.3" y="32.1" width="1.8" height="1.5" fill="#2a9ad8" opacity="0.7"/><rect x="440.8" y="40.7" width="1.8" height="1.5" fill="#b83a3a" opacity="0.7"/><rect x="440.8" y="46.2" width="1.8" height="1.5" fill="#2a9ad8" opacity="0.7"/><rect x="445.6" y="41.1" width="1.8" height="1.5" fill="#5060c0" opacity="0.7"/><rect x="442.8" y="43.0" width="1.8" height="1.5" fill="#3a48b0" opacity="0.7"/><rect x="443.2" y="40.9" width="1.8" height="1.5" fill="#5060c0" opacity="0.7"/><rect x="438.9" y="41.6" width="1.8" height="1.5" fill="#2a9ad8" opacity="0.7"/><rect x="438.1" y="41.1" width="1.8" height="1.5" fill="#2a9ad8" opacity="0.7"/><rect x="454.5" y="45.7" width="1.8" height="1.5" fill="#2a9ad8" opacity="0.7"/><rect x="454.3" y="43.5" width="1.8" height="1.5" fill="#5060c0" opacity="0.7"/><rect x="457.1" y="45.0" width="1.8" height="1.5" fill="#2a9ad8" opacity="0.7"/><rect x="453.2" y="43.4" width="1.8" height="1.5" fill="#b83a3a" opacity="0.7"/><rect x="450.8" y="46.2" width="1.8" height="1.5" fill="#5060c0" opacity="0.7"/><rect x="448.0" y="43.5" width="1.8" height="1.5" fill="#b83a3a" opacity="0.7"/><rect x="452.9" y="44.4" width="1.8" height="1.5" fill="#5060c0" opacity="0.7"/><rect x="469.3" y="36.0" width="1.8" height="1.5" fill="#3a48b0" opacity="0.7"/><rect x="469.6" y="36.1" width="1.8" height="1.5" fill="#c86040" opacity="0.7"/><rect x="469.7" y="37.6" width="1.8" height="1.5" fill="#c86040" opacity="0.7"/><rect x="470.5" y="37.1" width="1.8" height="1.5" fill="#2a9ad8" opacity="0.7"/><rect x="468.5" y="38.5" width="1.8" height="1.5" fill="#c86040" opacity="0.7"/><rect x="468.8" y="38.9" width="1.8" height="1.5" fill="#2a9ad8" opacity="0.7"/><rect x="467.9" y="38.7" width="1.8" height="1.5" fill="#3a48b0" opacity="0.7"/><rect x="505.6" y="37.3" width="1.8" height="1.5" fill="#c86040" opacity="0.7"/><rect x="507.9" y="37.7" width="1.8" height="1.5" fill="#2a9ad8" opacity="0.7"/><rect x="506.0" y="38.0" width="1.8" height="1.5" fill="#3a48b0" opacity="0.7"/><rect x="505.1" y="36.8" width="1.8" height="1.5" fill="#b83a3a" opacity="0.7"/><rect x="507.3" y="38.7" width="1.8" height="1.5" fill="#3a48b0" opacity="0.7"/><rect x="502.4" y="36.9" width="1.8" height="1.5" fill="#c86040" opacity="0.7"/><rect x="501.3" y="36.5" width="1.8" height="1.5" fill="#2a9ad8" opacity="0.7"/><rect x="429.8" y="39.9" width="1.8" height="1.5" fill="#c86040" opacity="0.7"/><rect x="432.7" y="41.5" width="1.8" height="1.5" fill="#2a9ad8" opacity="0.7"/><rect x="434.5" y="40.6" width="1.8" height="1.5" fill="#b83a3a" opacity="0.7"/><rect x="431.2" y="40.2" width="1.8" height="1.5" fill="#c86040" opacity="0.7"/><rect x="432.4" y="41.6" width="1.8" height="1.5" fill="#5060c0" opacity="0.7"/><rect x="428.9" y="39.4" width="1.8" height="1.5" fill="#5060c0" opacity="0.7"/><rect x="431.7" y="40.5" width="1.8" height="1.5" fill="#3a48b0" opacity="0.7"/><rect x="487.7" y="29.9" width="1.8" height="1.5" fill="#b83a3a" opacity="0.7"/><rect x="488.4" y="28.2" width="1.8" height="1.5" fill="#5060c0" opacity="0.7"/><rect x="489.0" y="28.3" width="1.8" height="1.5" fill="#b83a3a" opacity="0.7"/><rect x="487.1" y="29.1" width="1.8" height="1.5" fill="#3a48b0" opacity="0.7"/><rect x="487.8" y="28.1" width="1.8" height="1.5" fill="#5060c0" opacity="0.7"/><rect x="487.8" y="28.9" width="1.8" height="1.5" fill="#5060c0" opacity="0.7"/><rect x="484.3" y="27.9" width="1.8" height="1.5" fill="#5060c0" opacity="0.7"/><rect x="509.5" y="27.1" width="1.8" height="1.5" fill="#5060c0" opacity="0.7"/><rect x="505.0" y="27.8" width="1.8" height="1.5" fill="#3a48b0" opacity="0.7"/><rect x="509.2" y="26.4" width="1.8" height="1.5" fill="#2a9ad8" opacity="0.7"/><rect x="506.5" y="27.5" width="1.8" height="1.5" fill="#3a48b0" opacity="0.7"/><rect x="510.4" y="28.2" width="1.8" height="1.5" fill="#2a9ad8" opacity="0.7"/><rect x="507.5" y="28.1" width="1.8" height="1.5" fill="#2a9ad8" opacity="0.7"/><rect x="507.1" y="27.0" width="1.8" height="1.5" fill="#3a48b0" opacity="0.7"/><rect x="495.6" y="41.2" width="1.8" height="1.5" fill="#2a9ad8" opacity="0.7"/><rect x="494.8" y="44.1" width="1.8" height="1.5" fill="#b83a3a" opacity="0.7"/><rect x="491.4" y="43.7" width="1.8" height="1.5" fill="#c86040" opacity="0.7"/><rect x="491.1" y="44.8" width="1.8" height="1.5" fill="#3a48b0" opacity="0.7"/><rect x="495.6" y="45.5" width="1.8" height="1.5" fill="#c86040" opacity="0.7"/><rect x="496.2" y="43.2" width="1.8" height="1.5" fill="#5060c0" opacity="0.7"/><rect x="492.9" y="44.3" width="1.8" height="1.5" fill="#2a9ad8" opacity="0.7"/><rect x="462.4" y="30.4" width="1.8" height="1.5" fill="#c86040" opacity="0.7"/><rect x="467.9" y="29.9" width="1.8" height="1.5" fill="#2a9ad8" opacity="0.7"/><rect x="468.7" y="28.9" width="1.8" height="1.5" fill="#c86040" opacity="0.7"/><rect x="469.2" y="30.2" width="1.8" height="1.5" fill="#5060c0" opacity="0.7"/><rect x="466.8" y="31.6" width="1.8" height="1.5" fill="#3a48b0" opacity="0.7"/><rect x="466.4" y="29.0" width="1.8" height="1.5" fill="#2a9ad8" opacity="0.7"/><rect x="465.3" y="27.5" width="1.8" height="1.5" fill="#c86040" opacity="0.7"/><rect x="446.1" y="32.4" width="1.8" height="1.5" fill="#5060c0" opacity="0.7"/><rect x="447.0" y="33.4" width="1.8" height="1.5" fill="#b83a3a" opacity="0.7"/><rect x="445.2" y="32.4" width="1.8" height="1.5" fill="#c86040" opacity="0.7"/><rect x="444.6" y="35.3" width="1.8" height="1.5" fill="#3a48b0" opacity="0.7"/><rect x="449.8" y="31.3" width="1.8" height="1.5" fill="#b83a3a" opacity="0.7"/><rect x="444.5" y="33.1" width="1.8" height="1.5" fill="#2a9ad8" opacity="0.7"/><rect x="446.9" y="30.5" width="1.8" height="1.5" fill="#2a9ad8" opacity="0.7"/><rect x="476.5" y="46.3" width="1.8" height="1.5" fill="#3a48b0" opacity="0.7"/><rect x="473.6" y="45.7" width="1.8" height="1.5" fill="#b83a3a" opacity="0.7"/><rect x="472.9" y="45.1" width="1.8" height="1.5" fill="#5060c0" opacity="0.7"/><rect x="473.3" y="44.8" width="1.8" height="1.5" fill="#c86040" opacity="0.7"/><rect x="476.9" y="46.7" width="1.8" height="1.5" fill="#5060c0" opacity="0.7"/><rect x="478.0" y="43.3" width="1.8" height="1.5" fill="#c86040" opacity="0.7"/><rect x="473.2" y="46.4" width="1.8" height="1.5" fill="#3a48b0" opacity="0.7"/><rect x="457.9" y="31.8" width="1.8" height="1.5" fill="#5060c0" opacity="0.7"/><rect x="459.7" y="34.7" width="1.8" height="1.5" fill="#b83a3a" opacity="0.7"/><rect x="458.2" y="32.0" width="1.8" height="1.5" fill="#b83a3a" opacity="0.7"/><rect x="459.4" y="35.1" width="1.8" height="1.5" fill="#5060c0" opacity="0.7"/><rect x="453.8" y="36.8" width="1.8" height="1.5" fill="#3a48b0" opacity="0.7"/><rect x="458.3" y="34.5" width="1.8" height="1.5" fill="#b83a3a" opacity="0.7"/><rect x="458.1" y="36.0" width="1.8" height="1.5" fill="#3a48b0" opacity="0.7"/><rect x="381.6" y="46.2" width="1.5" height="1.3" fill="#4a70c0" opacity="0.45"/><rect x="383.7" y="45.6" width="1.5" height="1.3" fill="#4a70c0" opacity="0.45"/><rect x="384.3" y="46.9" width="1.5" height="1.3" fill="#4a70c0" opacity="0.45"/><rect x="368.8" y="37.6" width="1.5" height="1.3" fill="#4a70c0" opacity="0.45"/><rect x="370.8" y="40.1" width="1.5" height="1.3" fill="#4a70c0" opacity="0.45"/><rect x="370.8" y="38.8" width="1.5" height="1.3" fill="#4a70c0" opacity="0.45"/><rect x="394.4" y="40.3" width="1.5" height="1.3" fill="#4a70c0" opacity="0.45"/><rect x="393.6" y="41.3" width="1.5" height="1.3" fill="#4a70c0" opacity="0.45"/><rect x="396.1" y="39.0" width="1.5" height="1.3" fill="#4a70c0" opacity="0.45"/><rect x="409.9" y="45.5" width="1.5" height="1.3" fill="#4a70c0" opacity="0.45"/><rect x="406.8" y="43.9" width="1.5" height="1.3" fill="#4a70c0" opacity="0.45"/><rect x="408.0" y="45.4" width="1.5" height="1.3" fill="#4a70c0" opacity="0.45"/><rect x="413.9" y="29.9" width="1.5" height="1.3" fill="#4a70c0" opacity="0.45"/><rect x="416.3" y="28.2" width="1.5" height="1.3" fill="#4a70c0" opacity="0.45"/><rect x="417.3" y="30.7" width="1.5" height="1.3" fill="#4a70c0" opacity="0.45"/><rect x="418.5" y="22.3" width="1.5" height="1.3" fill="#4a70c0" opacity="0.45"/><rect x="417.1" y="22.5" width="1.5" height="1.3" fill="#4a70c0" opacity="0.45"/><rect x="423.0" y="23.3" width="1.5" height="1.3" fill="#4a70c0" opacity="0.45"/></g>
<polygon points="366.0,57.5 406.0,61.5 406.0,74.5 366.0,76.5" fill="#7a80b0" opacity="0.35" filter="url(#ublur)"/>
<polygon points="421.0,28.5 514.0,26.5 514.0,50.5 421.0,48.5" fill="#8a9ab0" opacity="0.22" filter="url(#ublur2)"/>
<defs><pattern id="chk0" width="4.4" height="5.2" patternUnits="userSpaceOnUse" patternTransform="rotate(1)"><rect width="2.2" height="1.3" fill="#a82838"/><rect x="2.2" width="2.2" height="1.3" fill="#2838a8"/><rect y="2.6" width="2.2" height="1.3" fill="#2838a8"/><rect x="2.2" y="2.6" width="2.2" height="1.3" fill="#a82838"/></pattern><pattern id="chkB" width="6.6" height="2.6" patternUnits="userSpaceOnUse" patternTransform="rotate(-9)"><rect width="2.2" height="1.3" fill="#b02838"/><rect x="2.2" width="2.2" height="1.3" fill="#2838b0"/><rect x="4.4" width="2.2" height="1.3" fill="#40b8e0"/><rect y="1.3" width="2.2" height="1.3" fill="#2838b0"/><rect x="2.2" y="1.3" width="2.2" height="1.3" fill="#40b8e0"/><rect x="4.4" y="1.3" width="2.2" height="1.3" fill="#b02838"/></pattern><pattern id="chkA" width="4.4" height="5.2" patternUnits="userSpaceOnUse" patternTransform="rotate(7)"><rect width="2.2" height="1.3" fill="#a84048"/><rect x="2.2" width="2.2" height="1.3" fill="#3848a8"/><rect y="2.6" width="2.2" height="1.3" fill="#3848a8"/><rect x="2.2" y="2.6" width="2.2" height="1.3" fill="#a84048"/></pattern></defs>
<path d="M366.0,59.4 L385.5,60.0 L405.0,60.7 L424.5,61.3 L444.0,62.0" fill="none" stroke="#e0d848" stroke-width="1.1" opacity="0.55"/>
<path d="M366.0,62.1 L385.5,62.5 L405.0,62.9 L424.5,63.3 L444.0,63.7" fill="none" stroke="#3ad0e4" stroke-width="1.1" opacity="0.55"/>
<path d="M366.0,64.8 L385.5,64.9 L405.0,65.0 L424.5,65.2 L444.0,65.3" fill="none" stroke="#e0d848" stroke-width="1.1" opacity="0.55"/>
<path d="M366.0,67.5 L385.5,67.4 L405.0,67.2 L424.5,67.1 L444.0,67.0" fill="none" stroke="#3ad0e4" stroke-width="1.1" opacity="0.55"/>
<path d="M366.0,70.2 L385.5,69.8 L405.0,69.4 L424.5,69.0 L444.0,68.6" fill="none" stroke="#e0d848" stroke-width="1.1" opacity="0.55"/>
<path d="M366.0,72.9 L385.5,72.3 L405.0,71.6 L424.5,71.0 L444.0,70.3" fill="none" stroke="#3ad0e4" stroke-width="1.1" opacity="0.55"/>
<path d="M366.0,75.6 L385.5,74.7 L405.0,73.8 L424.5,72.9 L444.0,72.0" fill="none" stroke="#e0d848" stroke-width="1.1" opacity="0.55"/>
<polygon points="366.0,58.0 424.0,60.4 424.0,73.9 366.0,77.0" fill="url(#chk0)" opacity="0.85"/>
<polygon points="424.0,60.4 444.0,63.2 444.0,70.8 424.0,73.9" fill="url(#chk0)" opacity="0.5"/>
<path d="M404.0,64.1 L431.5,59.3 L459.0,54.5 L486.5,49.6 L514.0,44.8" fill="none" stroke="#3ad0e0" stroke-width="1.0" opacity="0.6"/>
<path d="M404.0,66.6 L431.5,61.8 L459.0,57.0 L486.5,52.1 L514.0,47.3" fill="none" stroke="#3ad0e0" stroke-width="1.0" opacity="0.6"/>
<path d="M404.0,69.1 L431.5,64.3 L459.0,59.5 L486.5,54.6 L514.0,49.8" fill="none" stroke="#3ad0e0" stroke-width="1.0" opacity="0.6"/>
<polygon points="404.0,62.8 514.0,43.1 514.0,51.5 404.0,70.4" fill="url(#chkB)" opacity="0.8"/>
<polygon points="404.0,62.8 514.0,79.7 514.0,86.7 404.0,68.8" fill="url(#chkA)" opacity="0.7"/>
<path d="M430.0,78.4 L444.0,80.6 L458.0,82.9 L472.0,85.1 L486.0,87.4 L500.0,89.6 L514.0,91.8" fill="none" stroke="#b3262e" stroke-width="1.0" stroke-dasharray="2.2 2.2" stroke-dashoffset="0" opacity="0.22"/><path d="M430.0,78.4 L444.0,80.6 L458.0,82.9 L472.0,85.1 L486.0,87.4 L500.0,89.6 L514.0,91.8" fill="none" stroke="#2c3fb8" stroke-width="1.0" stroke-dasharray="2.2 2.2" stroke-dashoffset="2.2" opacity="0.22"/>
<polygon points="366.0,163.5 514.0,137.8 514.0,146.8 366.0,172.5" fill="#8a7fa8" opacity="0.45" filter="url(#ublur)"/>
<polygon points="416.0,154.3 481.0,143.1 481.0,153.1 416.0,164.3" fill="#7a6a98" opacity="0.35" filter="url(#ublur)"/>
<g filter="url(#sblur)"><rect x="502.0" y="150.1" width="1.1" height="2.5" fill="#6a5aa0" opacity="0.42"/><rect x="471.2" y="148.9" width="1.1" height="2.8" fill="#3a78c8" opacity="0.42"/><rect x="405.5" y="160.0" width="1.1" height="2.3" fill="#4858b0" opacity="0.42"/><rect x="469.9" y="145.8" width="1.1" height="3.1" fill="#6a5aa0" opacity="0.42"/><rect x="486.4" y="151.0" width="1.1" height="2.7" fill="#3a78c8" opacity="0.42"/><rect x="452.8" y="148.4" width="1.1" height="2.2" fill="#8a4a70" opacity="0.42"/><rect x="488.9" y="148.2" width="1.1" height="2.4" fill="#b04848" opacity="0.42"/><rect x="472.4" y="150.3" width="1.1" height="2.4" fill="#8a4a70" opacity="0.42"/><rect x="436.4" y="152.7" width="1.1" height="2.6" fill="#c8a040" opacity="0.42"/><rect x="469.1" y="149.8" width="1.1" height="2.9" fill="#b04848" opacity="0.42"/><rect x="471.4" y="152.8" width="1.1" height="3.5" fill="#6a5aa0" opacity="0.42"/><rect x="441.1" y="145.7" width="1.1" height="3.4" fill="#6a5aa0" opacity="0.42"/><rect x="427.1" y="157.6" width="1.1" height="3.0" fill="#c8a040" opacity="0.42"/><rect x="486.3" y="147.6" width="1.1" height="2.3" fill="#b04848" opacity="0.42"/><rect x="479.8" y="147.0" width="1.1" height="2.0" fill="#6a5aa0" opacity="0.42"/><rect x="497.2" y="151.0" width="1.1" height="3.4" fill="#8a4a70" opacity="0.42"/><rect x="450.8" y="151.7" width="1.1" height="3.2" fill="#8a4a70" opacity="0.42"/><rect x="419.0" y="161.9" width="1.1" height="3.0" fill="#3a78c8" opacity="0.42"/><rect x="456.5" y="154.2" width="1.1" height="3.7" fill="#6a5aa0" opacity="0.42"/><rect x="460.6" y="151.5" width="1.1" height="2.5" fill="#6a5aa0" opacity="0.42"/><rect x="470.3" y="147.3" width="1.1" height="3.9" fill="#3a78c8" opacity="0.42"/><rect x="472.7" y="154.8" width="1.1" height="3.4" fill="#b04848" opacity="0.42"/><rect x="451.3" y="159.3" width="1.1" height="3.5" fill="#6a5aa0" opacity="0.42"/><rect x="377.6" y="163.9" width="1.1" height="2.2" fill="#3a78c8" opacity="0.42"/><rect x="500.5" y="141.1" width="1.1" height="3.8" fill="#8a4a70" opacity="0.42"/><rect x="403.8" y="160.0" width="1.1" height="3.7" fill="#c8a040" opacity="0.42"/><rect x="467.2" y="154.4" width="1.1" height="2.2" fill="#c8a040" opacity="0.42"/><rect x="426.2" y="155.2" width="1.1" height="2.5" fill="#6a5aa0" opacity="0.42"/><rect x="469.4" y="151.2" width="1.1" height="3.3" fill="#6a5aa0" opacity="0.42"/><rect x="469.7" y="151.0" width="1.1" height="3.2" fill="#c8a040" opacity="0.42"/><rect x="425.1" y="160.3" width="1.1" height="4.0" fill="#3a78c8" opacity="0.42"/><rect x="423.0" y="157.6" width="1.1" height="3.8" fill="#3a78c8" opacity="0.42"/><rect x="448.6" y="148.8" width="1.1" height="2.2" fill="#c8a040" opacity="0.42"/><rect x="430.8" y="158.9" width="1.1" height="3.8" fill="#b04848" opacity="0.42"/><rect x="446.2" y="155.6" width="1.1" height="2.2" fill="#6a5aa0" opacity="0.42"/><rect x="447.0" y="156.9" width="1.1" height="3.2" fill="#b04848" opacity="0.42"/><rect x="429.6" y="155.4" width="1.1" height="2.0" fill="#6a5aa0" opacity="0.42"/><rect x="367.2" y="163.8" width="1.1" height="3.7" fill="#3a78c8" opacity="0.42"/><rect x="449.7" y="152.9" width="1.1" height="3.3" fill="#c8a040" opacity="0.42"/><rect x="383.6" y="165.9" width="1.1" height="3.8" fill="#3a78c8" opacity="0.42"/><rect x="505.0" y="138.5" width="1.1" height="2.4" fill="#8a4a70" opacity="0.42"/><rect x="434.5" y="158.5" width="1.1" height="2.1" fill="#3a78c8" opacity="0.42"/><rect x="433.0" y="153.4" width="1.1" height="3.4" fill="#b04848" opacity="0.42"/><rect x="449.4" y="152.8" width="1.1" height="2.5" fill="#b04848" opacity="0.42"/><rect x="383.0" y="163.8" width="1.1" height="3.0" fill="#6a5aa0" opacity="0.42"/><rect x="450.2" y="154.2" width="1.1" height="2.1" fill="#4858b0" opacity="0.42"/><rect x="502.7" y="147.0" width="1.1" height="3.5" fill="#4858b0" opacity="0.42"/><rect x="435.5" y="160.4" width="1.1" height="2.1" fill="#6a5aa0" opacity="0.42"/><rect x="424.2" y="159.0" width="1.1" height="3.4" fill="#3a78c8" opacity="0.42"/><rect x="382.9" y="167.2" width="1.1" height="3.7" fill="#8a4a70" opacity="0.42"/><rect x="451.0" y="159.2" width="1.1" height="2.2" fill="#6a5aa0" opacity="0.42"/><rect x="439.8" y="153.7" width="1.1" height="3.0" fill="#6a5aa0" opacity="0.42"/><rect x="459.2" y="150.5" width="1.1" height="2.3" fill="#8a4a70" opacity="0.42"/><rect x="370.6" y="173.4" width="1.1" height="2.7" fill="#3a78c8" opacity="0.42"/><rect x="510.4" y="141.9" width="1.1" height="2.6" fill="#4858b0" opacity="0.42"/><rect x="371.7" y="172.3" width="1.1" height="3.8" fill="#b04848" opacity="0.42"/><rect x="473.9" y="146.8" width="1.1" height="3.4" fill="#3a78c8" opacity="0.42"/><rect x="496.2" y="146.6" width="1.1" height="2.6" fill="#6a5aa0" opacity="0.42"/><rect x="506.7" y="142.8" width="1.1" height="2.5" fill="#c8a040" opacity="0.42"/><rect x="396.0" y="161.5" width="1.1" height="3.2" fill="#6a5aa0" opacity="0.42"/><rect x="465.2" y="149.1" width="1.1" height="2.8" fill="#4858b0" opacity="0.42"/><rect x="485.3" y="145.3" width="1.1" height="2.9" fill="#c8a040" opacity="0.42"/><rect x="468.4" y="151.3" width="1.1" height="3.4" fill="#3a78c8" opacity="0.42"/><rect x="425.7" y="155.0" width="1.1" height="2.0" fill="#3a78c8" opacity="0.42"/><rect x="492.8" y="148.6" width="1.1" height="3.1" fill="#8a4a70" opacity="0.42"/><rect x="435.8" y="157.4" width="1.1" height="3.0" fill="#b04848" opacity="0.42"/><rect x="424.2" y="158.3" width="1.1" height="2.1" fill="#8a4a70" opacity="0.42"/><rect x="420.8" y="158.0" width="1.1" height="2.7" fill="#4858b0" opacity="0.42"/><rect x="390.9" y="162.6" width="1.1" height="3.3" fill="#3a78c8" opacity="0.42"/><rect x="469.3" y="149.6" width="1.1" height="2.7" fill="#6a5aa0" opacity="0.42"/><rect x="466.6" y="159.8" width="1.1" height="2.3" fill="#6a5aa0" opacity="0.42"/><rect x="413.9" y="163.3" width="1.1" height="3.1" fill="#4858b0" opacity="0.42"/><rect x="471.1" y="145.8" width="1.1" height="3.3" fill="#3a78c8" opacity="0.42"/><rect x="467.0" y="143.7" width="1.1" height="3.5" fill="#b04848" opacity="0.42"/><rect x="465.4" y="156.3" width="1.1" height="2.8" fill="#6a5aa0" opacity="0.42"/><rect x="432.5" y="153.4" width="1.1" height="2.7" fill="#b04848" opacity="0.42"/><rect x="429.2" y="157.9" width="1.1" height="2.4" fill="#b04848" opacity="0.42"/><rect x="433.9" y="160.8" width="1.1" height="3.5" fill="#4858b0" opacity="0.42"/><rect x="379.7" y="168.7" width="1.1" height="3.0" fill="#4858b0" opacity="0.42"/><rect x="409.3" y="166.7" width="1.1" height="2.2" fill="#6a5aa0" opacity="0.42"/><rect x="432.3" y="161.6" width="1.1" height="3.3" fill="#3a78c8" opacity="0.42"/><rect x="408.9" y="156.3" width="1.1" height="2.0" fill="#8a4a70" opacity="0.42"/><rect x="400.3" y="162.9" width="1.1" height="3.6" fill="#8a4a70" opacity="0.42"/><rect x="443.9" y="154.9" width="1.1" height="2.7" fill="#6a5aa0" opacity="0.42"/><rect x="403.9" y="163.0" width="1.1" height="3.6" fill="#8a4a70" opacity="0.42"/><rect x="490.6" y="148.0" width="1.1" height="2.7" fill="#6a5aa0" opacity="0.42"/><rect x="489.8" y="141.7" width="1.1" height="3.4" fill="#8a4a70" opacity="0.42"/><rect x="470.7" y="147.3" width="1.1" height="4.0" fill="#6a5aa0" opacity="0.42"/><rect x="438.2" y="160.9" width="1.1" height="2.8" fill="#6a5aa0" opacity="0.42"/><rect x="422.3" y="158.4" width="1.1" height="2.6" fill="#4858b0" opacity="0.42"/><rect x="453.9" y="154.5" width="1.1" height="3.8" fill="#4858b0" opacity="0.42"/><rect x="498.7" y="148.8" width="1.1" height="3.9" fill="#3a78c8" opacity="0.42"/><rect x="475.1" y="146.4" width="1.1" height="2.3" fill="#4858b0" opacity="0.42"/><rect x="388.5" y="164.1" width="1.1" height="3.6" fill="#3a78c8" opacity="0.42"/><rect x="368.0" y="173.4" width="1.1" height="2.0" fill="#3a78c8" opacity="0.42"/><rect x="490.1" y="144.9" width="1.1" height="2.6" fill="#8a4a70" opacity="0.42"/><rect x="470.8" y="148.1" width="1.1" height="2.5" fill="#4858b0" opacity="0.42"/><rect x="457.8" y="148.4" width="1.1" height="3.2" fill="#b04848" opacity="0.42"/><rect x="426.9" y="158.6" width="1.1" height="3.0" fill="#6a5aa0" opacity="0.42"/><rect x="470.8" y="143.7" width="1.1" height="3.1" fill="#8a4a70" opacity="0.42"/><rect x="468.0" y="143.9" width="1.1" height="2.8" fill="#6a5aa0" opacity="0.42"/><rect x="478.6" y="148.3" width="1.1" height="3.8" fill="#3a78c8" opacity="0.42"/><rect x="415.7" y="155.9" width="1.1" height="2.0" fill="#c8a040" opacity="0.42"/><rect x="484.5" y="140.4" width="1.1" height="2.4" fill="#3a78c8" opacity="0.42"/><rect x="461.1" y="147.7" width="1.1" height="2.8" fill="#8a4a70" opacity="0.42"/><rect x="415.7" y="161.5" width="1.1" height="3.8" fill="#c8a040" opacity="0.42"/><rect x="452.0" y="154.3" width="1.1" height="2.5" fill="#6a5aa0" opacity="0.42"/><rect x="387.8" y="159.1" width="1.1" height="3.9" fill="#c8a040" opacity="0.42"/><rect x="419.7" y="160.9" width="1.1" height="2.9" fill="#8a4a70" opacity="0.42"/><rect x="435.0" y="157.1" width="1.1" height="2.1" fill="#3a78c8" opacity="0.42"/><rect x="416.0" y="158.0" width="1.1" height="3.0" fill="#3a78c8" opacity="0.42"/><rect x="442.3" y="155.4" width="1.1" height="4.0" fill="#4858b0" opacity="0.42"/><rect x="478.6" y="149.3" width="1.1" height="2.5" fill="#4858b0" opacity="0.42"/><rect x="480.7" y="149.2" width="1.1" height="2.3" fill="#4858b0" opacity="0.42"/><rect x="366.3" y="166.0" width="1.1" height="3.2" fill="#3a78c8" opacity="0.42"/><rect x="407.7" y="163.4" width="1.1" height="3.4" fill="#4858b0" opacity="0.42"/><rect x="439.7" y="159.0" width="1.1" height="3.3" fill="#c8a040" opacity="0.42"/><rect x="397.4" y="160.2" width="1.1" height="2.5" fill="#6a5aa0" opacity="0.42"/><rect x="469.3" y="151.3" width="1.1" height="4.0" fill="#4858b0" opacity="0.42"/><rect x="403.6" y="166.6" width="1.1" height="2.9" fill="#c8a040" opacity="0.42"/><rect x="467.4" y="149.8" width="1.1" height="2.7" fill="#8a4a70" opacity="0.42"/><rect x="436.9" y="155.4" width="1.1" height="2.7" fill="#4858b0" opacity="0.42"/><rect x="464.8" y="150.5" width="1.1" height="4.0" fill="#4858b0" opacity="0.42"/><rect x="469.5" y="144.6" width="1.1" height="3.7" fill="#6a5aa0" opacity="0.42"/><rect x="446.9" y="154.9" width="1.1" height="2.2" fill="#6a5aa0" opacity="0.42"/><rect x="373.5" y="166.2" width="1.1" height="3.0" fill="#3a78c8" opacity="0.42"/><rect x="461.3" y="151.2" width="1.1" height="2.8" fill="#3a78c8" opacity="0.42"/><rect x="433.2" y="160.9" width="1.1" height="2.7" fill="#c8a040" opacity="0.42"/><rect x="490.9" y="146.5" width="1.1" height="3.1" fill="#3a78c8" opacity="0.42"/><rect x="384.6" y="163.8" width="1.1" height="2.4" fill="#4858b0" opacity="0.42"/><rect x="476.7" y="152.7" width="1.1" height="2.5" fill="#8a4a70" opacity="0.42"/><rect x="389.7" y="161.9" width="1.1" height="3.1" fill="#6a5aa0" opacity="0.42"/><rect x="436.2" y="145.9" width="1.1" height="2.2" fill="#8a4a70" opacity="0.42"/><rect x="461.2" y="151.7" width="1.1" height="2.8" fill="#3a78c8" opacity="0.42"/><rect x="424.6" y="155.4" width="1.1" height="2.2" fill="#b04848" opacity="0.42"/><rect x="379.8" y="162.9" width="1.1" height="3.4" fill="#4858b0" opacity="0.42"/><rect x="417.1" y="164.1" width="1.1" height="3.8" fill="#3a78c8" opacity="0.42"/><rect x="466.0" y="152.8" width="1.1" height="3.7" fill="#c8a040" opacity="0.42"/><rect x="507.4" y="139.9" width="1.1" height="2.3" fill="#8a4a70" opacity="0.42"/><rect x="469.3" y="144.7" width="1.1" height="2.4" fill="#8a4a70" opacity="0.42"/><rect x="425.1" y="157.2" width="1.1" height="2.3" fill="#4858b0" opacity="0.42"/><rect x="445.0" y="157.5" width="1.1" height="2.8" fill="#3a78c8" opacity="0.42"/><rect x="444.1" y="154.0" width="1.1" height="2.5" fill="#3a78c8" opacity="0.42"/><rect x="480.2" y="147.8" width="1.1" height="2.1" fill="#6a5aa0" opacity="0.42"/><rect x="424.3" y="157.7" width="1.1" height="2.9" fill="#c8a040" opacity="0.42"/><rect x="487.6" y="147.5" width="1.1" height="2.1" fill="#b04848" opacity="0.42"/><rect x="390.0" y="161.4" width="1.1" height="3.4" fill="#8a4a70" opacity="0.42"/><rect x="459.9" y="153.9" width="1.1" height="2.4" fill="#8a4a70" opacity="0.42"/><rect x="465.6" y="146.5" width="1.1" height="2.6" fill="#b04848" opacity="0.42"/><rect x="420.4" y="161.8" width="1.1" height="3.9" fill="#b04848" opacity="0.42"/><rect x="408.1" y="160.0" width="1.1" height="2.7" fill="#c8a040" opacity="0.42"/><rect x="392.2" y="160.7" width="1.1" height="3.7" fill="#3a78c8" opacity="0.42"/><rect x="443.5" y="156.7" width="1.1" height="2.6" fill="#6a5aa0" opacity="0.42"/><rect x="477.8" y="142.7" width="1.1" height="3.5" fill="#b04848" opacity="0.42"/><rect x="372.6" y="168.3" width="1.1" height="2.3" fill="#4858b0" opacity="0.42"/><rect x="496.5" y="147.9" width="1.1" height="2.8" fill="#c8a040" opacity="0.42"/><rect x="366.5" y="172.5" width="1.1" height="3.6" fill="#4858b0" opacity="0.42"/><rect x="425.8" y="165.0" width="1.1" height="3.3" fill="#6a5aa0" opacity="0.42"/><rect x="371.4" y="166.6" width="1.1" height="3.6" fill="#3a78c8" opacity="0.42"/><rect x="428.2" y="161.8" width="1.1" height="2.1" fill="#4858b0" opacity="0.42"/><rect x="471.1" y="151.1" width="1.1" height="3.2" fill="#6a5aa0" opacity="0.42"/><rect x="513.7" y="145.9" width="1.1" height="2.7" fill="#8a4a70" opacity="0.42"/><rect x="373.1" y="164.5" width="1.1" height="3.5" fill="#6a5aa0" opacity="0.42"/><rect x="407.7" y="159.9" width="1.1" height="3.2" fill="#8a4a70" opacity="0.42"/><rect x="457.2" y="150.5" width="1.1" height="3.1" fill="#3a78c8" opacity="0.42"/><rect x="378.5" y="169.5" width="1.1" height="3.9" fill="#3a78c8" opacity="0.42"/><rect x="428.6" y="157.1" width="1.1" height="2.5" fill="#c8a040" opacity="0.42"/><rect x="428.6" y="160.0" width="1.1" height="2.5" fill="#4858b0" opacity="0.42"/><rect x="398.6" y="161.1" width="1.1" height="2.1" fill="#4858b0" opacity="0.42"/><rect x="489.4" y="143.3" width="1.1" height="3.5" fill="#6a5aa0" opacity="0.42"/><rect x="460.8" y="152.9" width="1.1" height="3.0" fill="#3a78c8" opacity="0.42"/><rect x="408.0" y="151.4" width="1.1" height="2.3" fill="#4858b0" opacity="0.42"/><rect x="416.3" y="163.0" width="1.1" height="3.0" fill="#b04848" opacity="0.42"/><rect x="437.7" y="157.2" width="1.1" height="3.8" fill="#b04848" opacity="0.42"/><rect x="441.1" y="154.9" width="1.1" height="3.3" fill="#c8a040" opacity="0.42"/><rect x="447.6" y="155.8" width="1.1" height="2.4" fill="#6a5aa0" opacity="0.42"/><rect x="439.4" y="152.2" width="1.1" height="3.2" fill="#4858b0" opacity="0.42"/><rect x="379.6" y="169.5" width="1.1" height="3.8" fill="#4858b0" opacity="0.42"/><rect x="443.7" y="153.5" width="1.1" height="3.0" fill="#c8a040" opacity="0.42"/><rect x="397.8" y="159.0" width="1.1" height="2.9" fill="#b04848" opacity="0.42"/><rect x="425.0" y="156.6" width="1.1" height="3.4" fill="#c8a040" opacity="0.42"/><rect x="449.4" y="150.3" width="1.1" height="2.9" fill="#6a5aa0" opacity="0.42"/><rect x="473.9" y="145.5" width="1.1" height="2.5" fill="#3a78c8" opacity="0.42"/><rect x="435.0" y="149.5" width="1.1" height="3.4" fill="#3a78c8" opacity="0.42"/><rect x="367.4" y="174.1" width="1.1" height="2.1" fill="#6a5aa0" opacity="0.42"/><rect x="415.2" y="161.9" width="1.1" height="3.3" fill="#c8a040" opacity="0.42"/><rect x="502.8" y="142.4" width="1.1" height="2.9" fill="#4858b0" opacity="0.42"/><rect x="374.2" y="170.6" width="1.1" height="4.0" fill="#c8a040" opacity="0.42"/><rect x="493.5" y="141.1" width="1.1" height="3.1" fill="#c8a040" opacity="0.42"/><rect x="484.9" y="142.1" width="1.1" height="2.9" fill="#3a78c8" opacity="0.42"/><rect x="444.2" y="153.2" width="1.1" height="2.2" fill="#4858b0" opacity="0.42"/><rect x="477.7" y="150.4" width="1.1" height="2.6" fill="#c8a040" opacity="0.42"/><rect x="430.6" y="154.0" width="1.1" height="2.4" fill="#3a78c8" opacity="0.42"/><rect x="438.4" y="158.4" width="1.1" height="2.7" fill="#8a4a70" opacity="0.42"/><rect x="491.6" y="145.5" width="1.1" height="2.3" fill="#b04848" opacity="0.42"/><rect x="478.4" y="149.3" width="1.1" height="2.4" fill="#3a78c8" opacity="0.42"/><rect x="436.8" y="152.6" width="1.1" height="2.4" fill="#4858b0" opacity="0.42"/><rect x="401.7" y="157.6" width="1.1" height="3.5" fill="#4858b0" opacity="0.42"/><rect x="396.0" y="163.3" width="1.1" height="3.2" fill="#3a78c8" opacity="0.42"/><rect x="456.7" y="151.5" width="1.1" height="4.0" fill="#c8a040" opacity="0.42"/><rect x="414.7" y="160.7" width="1.1" height="3.9" fill="#6a5aa0" opacity="0.42"/><rect x="410.4" y="159.2" width="1.1" height="2.9" fill="#c8a040" opacity="0.42"/><rect x="412.8" y="153.6" width="1.1" height="2.3" fill="#6a5aa0" opacity="0.42"/><rect x="469.3" y="147.7" width="1.1" height="2.3" fill="#3a78c8" opacity="0.42"/><rect x="448.2" y="150.1" width="1.1" height="3.5" fill="#b04848" opacity="0.42"/><rect x="436.0" y="150.9" width="1.1" height="3.3" fill="#6a5aa0" opacity="0.42"/><rect x="488.5" y="145.2" width="1.1" height="3.5" fill="#8a4a70" opacity="0.42"/><rect x="428.9" y="158.0" width="1.1" height="2.6" fill="#b04848" opacity="0.42"/><rect x="414.0" y="158.5" width="1.1" height="3.6" fill="#6a5aa0" opacity="0.42"/><rect x="375.0" y="167.0" width="1.1" height="2.2" fill="#4858b0" opacity="0.42"/><rect x="447.8" y="154.9" width="1.1" height="3.8" fill="#8a4a70" opacity="0.42"/><rect x="475.1" y="143.4" width="1.1" height="2.6" fill="#b04848" opacity="0.42"/><rect x="467.2" y="153.6" width="1.1" height="2.3" fill="#3a78c8" opacity="0.42"/><rect x="404.1" y="160.9" width="1.1" height="3.0" fill="#b04848" opacity="0.42"/><rect x="429.3" y="155.0" width="1.1" height="2.3" fill="#b04848" opacity="0.42"/><rect x="417.8" y="161.4" width="1.1" height="2.9" fill="#6a5aa0" opacity="0.42"/><rect x="496.1" y="146.4" width="1.1" height="2.9" fill="#c8a040" opacity="0.42"/><rect x="483.2" y="145.5" width="1.1" height="3.6" fill="#4858b0" opacity="0.42"/><rect x="411.0" y="160.8" width="1.1" height="3.5" fill="#3a78c8" opacity="0.42"/><rect x="409.0" y="162.2" width="1.1" height="2.5" fill="#c8a040" opacity="0.42"/><rect x="461.9" y="149.8" width="1.1" height="3.7" fill="#b04848" opacity="0.42"/><rect x="449.4" y="154.4" width="1.1" height="2.7" fill="#3a78c8" opacity="0.42"/><rect x="366.3" y="171.1" width="1.1" height="3.0" fill="#c8a040" opacity="0.42"/><rect x="461.3" y="149.5" width="1.1" height="3.7" fill="#6a5aa0" opacity="0.42"/><rect x="463.9" y="149.1" width="1.1" height="2.9" fill="#c8a040" opacity="0.42"/><rect x="441.7" y="149.5" width="1.1" height="2.2" fill="#b04848" opacity="0.42"/><rect x="407.0" y="158.7" width="1.1" height="3.0" fill="#c8a040" opacity="0.42"/><rect x="386.9" y="161.4" width="1.1" height="2.8" fill="#8a4a70" opacity="0.42"/><rect x="453.5" y="154.3" width="1.1" height="3.9" fill="#6a5aa0" opacity="0.42"/><rect x="473.2" y="150.0" width="1.1" height="3.0" fill="#3a78c8" opacity="0.42"/><rect x="427.3" y="156.5" width="1.1" height="3.8" fill="#3a78c8" opacity="0.42"/><rect x="408.6" y="157.1" width="1.1" height="2.9" fill="#3a78c8" opacity="0.42"/><rect x="385.9" y="168.2" width="1.1" height="3.8" fill="#8a4a70" opacity="0.42"/><rect x="389.3" y="165.2" width="1.1" height="3.0" fill="#6a5aa0" opacity="0.42"/><rect x="369.2" y="165.9" width="1.1" height="3.0" fill="#4858b0" opacity="0.42"/><rect x="413.9" y="158.2" width="1.1" height="3.4" fill="#4858b0" opacity="0.42"/><rect x="371.8" y="164.4" width="1.1" height="3.8" fill="#6a5aa0" opacity="0.42"/><rect x="496.6" y="143.3" width="1.1" height="2.8" fill="#c8a040" opacity="0.42"/><rect x="444.3" y="152.6" width="1.1" height="3.8" fill="#6a5aa0" opacity="0.42"/><rect x="496.9" y="146.0" width="1.1" height="3.8" fill="#3a78c8" opacity="0.42"/><rect x="449.7" y="153.6" width="1.1" height="2.1" fill="#6a5aa0" opacity="0.42"/><rect x="407.1" y="160.1" width="1.1" height="2.3" fill="#4858b0" opacity="0.42"/><rect x="449.1" y="147.5" width="1.1" height="2.3" fill="#c8a040" opacity="0.42"/><rect x="501.7" y="137.9" width="1.1" height="2.8" fill="#4858b0" opacity="0.42"/><rect x="370.6" y="166.2" width="1.1" height="3.3" fill="#b04848" opacity="0.42"/><rect x="433.5" y="160.7" width="1.1" height="2.6" fill="#4858b0" opacity="0.42"/><rect x="510.1" y="143.5" width="1.1" height="2.0" fill="#6a5aa0" opacity="0.42"/><rect x="473.2" y="147.9" width="1.1" height="2.0" fill="#b04848" opacity="0.42"/><rect x="414.5" y="161.2" width="1.1" height="3.8" fill="#4858b0" opacity="0.42"/><rect x="369.2" y="166.0" width="1.1" height="2.3" fill="#b04848" opacity="0.42"/><rect x="430.8" y="155.2" width="1.1" height="3.6" fill="#8a4a70" opacity="0.42"/><rect x="503.3" y="150.3" width="1.1" height="3.3" fill="#6a5aa0" opacity="0.42"/><rect x="461.5" y="149.2" width="1.1" height="3.4" fill="#6a5aa0" opacity="0.42"/><rect x="373.3" y="168.8" width="1.1" height="2.3" fill="#6a5aa0" opacity="0.42"/><rect x="486.0" y="149.8" width="1.1" height="3.6" fill="#8a4a70" opacity="0.42"/><rect x="470.3" y="149.8" width="1.1" height="2.0" fill="#b04848" opacity="0.42"/><rect x="483.8" y="149.1" width="1.1" height="2.7" fill="#4858b0" opacity="0.42"/><rect x="464.0" y="150.7" width="1.1" height="3.4" fill="#b04848" opacity="0.42"/><rect x="392.2" y="162.1" width="1.1" height="2.5" fill="#8a4a70" opacity="0.42"/><rect x="382.5" y="160.4" width="1.1" height="2.5" fill="#6a5aa0" opacity="0.42"/><rect x="452.4" y="147.2" width="1.1" height="2.8" fill="#c8a040" opacity="0.42"/><rect x="454.6" y="149.5" width="1.1" height="2.2" fill="#4858b0" opacity="0.42"/><rect x="447.3" y="156.2" width="1.1" height="3.2" fill="#b04848" opacity="0.42"/><rect x="458.0" y="151.5" width="1.1" height="3.1" fill="#3a78c8" opacity="0.42"/><rect x="502.7" y="146.8" width="1.1" height="3.0" fill="#b04848" opacity="0.42"/><rect x="387.5" y="167.6" width="1.1" height="2.5" fill="#4858b0" opacity="0.42"/><rect x="436.1" y="162.0" width="1.1" height="2.6" fill="#3a78c8" opacity="0.42"/><rect x="496.1" y="146.0" width="1.1" height="2.5" fill="#4858b0" opacity="0.42"/><rect x="418.5" y="160.6" width="1.1" height="3.9" fill="#6a5aa0" opacity="0.42"/><rect x="479.9" y="145.5" width="1.1" height="2.8" fill="#6a5aa0" opacity="0.42"/><rect x="382.4" y="169.9" width="1.1" height="3.7" fill="#b04848" opacity="0.42"/><rect x="366.5" y="167.2" width="1.1" height="3.3" fill="#8a4a70" opacity="0.42"/><rect x="460.9" y="153.9" width="1.1" height="3.2" fill="#6a5aa0" opacity="0.42"/><rect x="416.6" y="153.9" width="1.1" height="2.2" fill="#4858b0" opacity="0.42"/><rect x="376.5" y="163.4" width="1.1" height="3.6" fill="#c8a040" opacity="0.42"/><rect x="503.1" y="146.4" width="1.1" height="2.6" fill="#8a4a70" opacity="0.42"/><rect x="477.0" y="147.5" width="1.1" height="3.3" fill="#3a78c8" opacity="0.42"/><rect x="412.4" y="163.6" width="1.1" height="2.7" fill="#3a78c8" opacity="0.42"/><rect x="466.0" y="155.1" width="1.1" height="3.0" fill="#4858b0" opacity="0.42"/><rect x="376.1" y="169.3" width="1.1" height="2.5" fill="#b04848" opacity="0.42"/><rect x="428.1" y="158.8" width="1.1" height="2.0" fill="#4858b0" opacity="0.42"/><rect x="456.6" y="155.0" width="1.1" height="2.0" fill="#c8a040" opacity="0.42"/><rect x="508.1" y="139.1" width="1.1" height="2.4" fill="#c8a040" opacity="0.42"/><rect x="494.0" y="151.5" width="1.1" height="2.1" fill="#8a4a70" opacity="0.42"/><rect x="431.0" y="162.2" width="1.1" height="2.7" fill="#b04848" opacity="0.42"/><rect x="407.9" y="159.3" width="1.1" height="2.4" fill="#6a5aa0" opacity="0.42"/><rect x="490.0" y="138.9" width="1.1" height="3.5" fill="#b04848" opacity="0.42"/><rect x="442.6" y="154.6" width="1.1" height="2.9" fill="#b04848" opacity="0.42"/><rect x="493.4" y="146.1" width="1.1" height="3.8" fill="#6a5aa0" opacity="0.42"/><rect x="452.5" y="153.1" width="1.1" height="3.8" fill="#4858b0" opacity="0.42"/><rect x="473.9" y="156.7" width="1.1" height="2.7" fill="#4858b0" opacity="0.42"/><rect x="463.6" y="155.0" width="1.1" height="2.7" fill="#8a4a70" opacity="0.42"/><rect x="413.6" y="158.1" width="1.1" height="3.3" fill="#c8a040" opacity="0.42"/><rect x="404.2" y="160.3" width="1.1" height="3.3" fill="#8a4a70" opacity="0.42"/><rect x="487.5" y="154.4" width="1.1" height="3.2" fill="#4858b0" opacity="0.42"/><rect x="465.3" y="153.4" width="1.1" height="3.2" fill="#4858b0" opacity="0.42"/><rect x="440.0" y="157.1" width="1.1" height="3.1" fill="#b04848" opacity="0.42"/><rect x="499.5" y="145.8" width="1.1" height="3.4" fill="#b04848" opacity="0.42"/><rect x="390.3" y="164.1" width="1.1" height="3.2" fill="#6a5aa0" opacity="0.42"/><rect x="431.7" y="154.9" width="1.1" height="2.0" fill="#c8a040" opacity="0.42"/><rect x="457.6" y="151.2" width="1.1" height="3.1" fill="#c8a040" opacity="0.42"/><rect x="458.3" y="151.0" width="1.1" height="2.4" fill="#3a78c8" opacity="0.42"/><rect x="447.6" y="155.3" width="1.1" height="3.8" fill="#c8a040" opacity="0.42"/><rect x="406.2" y="162.1" width="1.1" height="2.3" fill="#6a5aa0" opacity="0.42"/><rect x="396.6" y="160.4" width="1.1" height="3.3" fill="#6a5aa0" opacity="0.42"/><rect x="422.1" y="155.0" width="1.1" height="2.6" fill="#3a78c8" opacity="0.42"/><rect x="372.2" y="169.1" width="1.1" height="3.1" fill="#3a78c8" opacity="0.42"/><rect x="429.9" y="157.5" width="1.1" height="2.2" fill="#8a4a70" opacity="0.42"/><rect x="480.3" y="150.7" width="1.1" height="3.4" fill="#b04848" opacity="0.42"/><rect x="443.4" y="153.5" width="1.1" height="3.9" fill="#4858b0" opacity="0.42"/><rect x="464.0" y="154.3" width="1.1" height="2.2" fill="#6a5aa0" opacity="0.42"/></g>
<g filter="url(#sblur)"><rect x="380.4" y="143.5" width="1.1" height="2.2" fill="#8a4a70" opacity="0.35"/><rect x="372.2" y="143.6" width="1.1" height="2.2" fill="#8a4a70" opacity="0.35"/><rect x="392.2" y="144.3" width="1.1" height="2.2" fill="#4858b0" opacity="0.35"/><rect x="488.9" y="132.5" width="1.1" height="2.2" fill="#3a78c8" opacity="0.35"/><rect x="492.4" y="133.0" width="1.1" height="2.2" fill="#3a78c8" opacity="0.35"/><rect x="434.4" y="141.3" width="1.1" height="2.2" fill="#8a4a70" opacity="0.35"/><rect x="392.3" y="143.6" width="1.1" height="2.2" fill="#3a78c8" opacity="0.35"/><rect x="388.5" y="143.1" width="1.1" height="2.2" fill="#4858b0" opacity="0.35"/><rect x="477.9" y="132.6" width="1.1" height="2.2" fill="#b04848" opacity="0.35"/><rect x="467.2" y="135.9" width="1.1" height="2.2" fill="#3a78c8" opacity="0.35"/><rect x="433.7" y="139.2" width="1.1" height="2.2" fill="#3a78c8" opacity="0.35"/><rect x="442.6" y="136.4" width="1.1" height="2.2" fill="#8a4a70" opacity="0.35"/><rect x="432.6" y="138.7" width="1.1" height="2.2" fill="#3a78c8" opacity="0.35"/><rect x="412.4" y="138.7" width="1.1" height="2.2" fill="#b04848" opacity="0.35"/><rect x="502.8" y="131.8" width="1.1" height="2.2" fill="#b04848" opacity="0.35"/><rect x="455.8" y="137.1" width="1.1" height="2.2" fill="#b04848" opacity="0.35"/><rect x="435.1" y="137.7" width="1.1" height="2.2" fill="#b04848" opacity="0.35"/><rect x="447.1" y="136.6" width="1.1" height="2.2" fill="#b04848" opacity="0.35"/><rect x="428.2" y="139.4" width="1.1" height="2.2" fill="#b04848" opacity="0.35"/><rect x="412.1" y="137.1" width="1.1" height="2.2" fill="#8a4a70" opacity="0.35"/><rect x="493.7" y="131.0" width="1.1" height="2.2" fill="#4858b0" opacity="0.35"/><rect x="369.5" y="143.5" width="1.1" height="2.2" fill="#4858b0" opacity="0.35"/><rect x="465.5" y="132.2" width="1.1" height="2.2" fill="#3a78c8" opacity="0.35"/><rect x="461.1" y="134.7" width="1.1" height="2.2" fill="#4858b0" opacity="0.35"/><rect x="494.9" y="127.9" width="1.1" height="2.2" fill="#8a4a70" opacity="0.35"/><rect x="476.9" y="135.3" width="1.1" height="2.2" fill="#4858b0" opacity="0.35"/><rect x="462.8" y="131.8" width="1.1" height="2.2" fill="#3a78c8" opacity="0.35"/><rect x="428.3" y="138.4" width="1.1" height="2.2" fill="#b04848" opacity="0.35"/><rect x="471.0" y="132.4" width="1.1" height="2.2" fill="#b04848" opacity="0.35"/><rect x="416.1" y="137.8" width="1.1" height="2.2" fill="#b04848" opacity="0.35"/><rect x="391.1" y="142.8" width="1.1" height="2.2" fill="#4858b0" opacity="0.35"/><rect x="447.9" y="135.6" width="1.1" height="2.2" fill="#8a4a70" opacity="0.35"/><rect x="381.7" y="142.2" width="1.1" height="2.2" fill="#3a78c8" opacity="0.35"/><rect x="480.4" y="135.2" width="1.1" height="2.2" fill="#4858b0" opacity="0.35"/><rect x="397.2" y="141.8" width="1.1" height="2.2" fill="#b04848" opacity="0.35"/><rect x="410.8" y="141.5" width="1.1" height="2.2" fill="#4858b0" opacity="0.35"/><rect x="466.1" y="135.5" width="1.1" height="2.2" fill="#3a78c8" opacity="0.35"/><rect x="502.9" y="131.1" width="1.1" height="2.2" fill="#3a78c8" opacity="0.35"/><rect x="500.3" y="129.8" width="1.1" height="2.2" fill="#b04848" opacity="0.35"/><rect x="451.8" y="136.5" width="1.1" height="2.2" fill="#8a4a70" opacity="0.35"/><rect x="430.1" y="137.2" width="1.1" height="2.2" fill="#4858b0" opacity="0.35"/><rect x="479.5" y="134.9" width="1.1" height="2.2" fill="#3a78c8" opacity="0.35"/><rect x="410.9" y="136.4" width="1.1" height="2.2" fill="#b04848" opacity="0.35"/><rect x="452.5" y="137.7" width="1.1" height="2.2" fill="#8a4a70" opacity="0.35"/><rect x="481.8" y="131.3" width="1.1" height="2.2" fill="#b04848" opacity="0.35"/><rect x="513.4" y="128.3" width="1.1" height="2.2" fill="#4858b0" opacity="0.35"/><rect x="469.9" y="136.3" width="1.1" height="2.2" fill="#3a78c8" opacity="0.35"/><rect x="373.2" y="146.3" width="1.1" height="2.2" fill="#3a78c8" opacity="0.35"/><rect x="389.1" y="143.3" width="1.1" height="2.2" fill="#4858b0" opacity="0.35"/><rect x="441.5" y="134.6" width="1.1" height="2.2" fill="#b04848" opacity="0.35"/><rect x="396.7" y="142.4" width="1.1" height="2.2" fill="#3a78c8" opacity="0.35"/><rect x="375.7" y="145.7" width="1.1" height="2.2" fill="#4858b0" opacity="0.35"/><rect x="445.8" y="136.6" width="1.1" height="2.2" fill="#3a78c8" opacity="0.35"/><rect x="448.0" y="133.9" width="1.1" height="2.2" fill="#b04848" opacity="0.35"/><rect x="485.5" y="132.9" width="1.1" height="2.2" fill="#4858b0" opacity="0.35"/><rect x="509.8" y="128.9" width="1.1" height="2.2" fill="#4858b0" opacity="0.35"/><rect x="513.5" y="129.3" width="1.1" height="2.2" fill="#3a78c8" opacity="0.35"/><rect x="511.9" y="128.8" width="1.1" height="2.2" fill="#8a4a70" opacity="0.35"/><rect x="433.7" y="139.4" width="1.1" height="2.2" fill="#b04848" opacity="0.35"/><rect x="448.4" y="138.3" width="1.1" height="2.2" fill="#4858b0" opacity="0.35"/><rect x="398.1" y="141.1" width="1.1" height="2.2" fill="#3a78c8" opacity="0.35"/><rect x="372.8" y="147.4" width="1.1" height="2.2" fill="#3a78c8" opacity="0.35"/><rect x="409.0" y="142.2" width="1.1" height="2.2" fill="#8a4a70" opacity="0.35"/><rect x="415.1" y="142.1" width="1.1" height="2.2" fill="#4858b0" opacity="0.35"/><rect x="502.6" y="129.4" width="1.1" height="2.2" fill="#8a4a70" opacity="0.35"/><rect x="460.8" y="136.9" width="1.1" height="2.2" fill="#3a78c8" opacity="0.35"/><rect x="512.4" y="130.7" width="1.1" height="2.2" fill="#b04848" opacity="0.35"/><rect x="478.8" y="132.5" width="1.1" height="2.2" fill="#4858b0" opacity="0.35"/><rect x="423.0" y="136.2" width="1.1" height="2.2" fill="#4858b0" opacity="0.35"/><rect x="432.7" y="138.7" width="1.1" height="2.2" fill="#3a78c8" opacity="0.35"/><rect x="415.9" y="143.3" width="1.1" height="2.2" fill="#8a4a70" opacity="0.35"/><rect x="509.3" y="127.9" width="1.1" height="2.2" fill="#3a78c8" opacity="0.35"/><rect x="450.2" y="135.8" width="1.1" height="2.2" fill="#b04848" opacity="0.35"/><rect x="446.6" y="138.9" width="1.1" height="2.2" fill="#3a78c8" opacity="0.35"/><rect x="477.6" y="133.1" width="1.1" height="2.2" fill="#3a78c8" opacity="0.35"/><rect x="511.3" y="130.3" width="1.1" height="2.2" fill="#8a4a70" opacity="0.35"/><rect x="487.4" y="133.7" width="1.1" height="2.2" fill="#8a4a70" opacity="0.35"/><rect x="431.9" y="136.0" width="1.1" height="2.2" fill="#3a78c8" opacity="0.35"/><rect x="498.7" y="133.3" width="1.1" height="2.2" fill="#3a78c8" opacity="0.35"/><rect x="482.5" y="133.4" width="1.1" height="2.2" fill="#4858b0" opacity="0.35"/><rect x="421.5" y="139.2" width="1.1" height="2.2" fill="#4858b0" opacity="0.35"/><rect x="469.8" y="134.5" width="1.1" height="2.2" fill="#4858b0" opacity="0.35"/><rect x="410.0" y="136.5" width="1.1" height="2.2" fill="#3a78c8" opacity="0.35"/><rect x="458.4" y="134.6" width="1.1" height="2.2" fill="#4858b0" opacity="0.35"/><rect x="427.7" y="139.2" width="1.1" height="2.2" fill="#8a4a70" opacity="0.35"/><rect x="428.1" y="138.4" width="1.1" height="2.2" fill="#3a78c8" opacity="0.35"/><rect x="486.7" y="131.6" width="1.1" height="2.2" fill="#4858b0" opacity="0.35"/><rect x="404.8" y="140.7" width="1.1" height="2.2" fill="#b04848" opacity="0.35"/><rect x="483.7" y="130.2" width="1.1" height="2.2" fill="#4858b0" opacity="0.35"/><rect x="449.4" y="136.8" width="1.1" height="2.2" fill="#8a4a70" opacity="0.35"/><rect x="441.4" y="136.0" width="1.1" height="2.2" fill="#8a4a70" opacity="0.35"/><rect x="392.8" y="140.8" width="1.1" height="2.2" fill="#b04848" opacity="0.35"/><rect x="483.8" y="130.1" width="1.1" height="2.2" fill="#8a4a70" opacity="0.35"/><rect x="421.2" y="141.8" width="1.1" height="2.2" fill="#b04848" opacity="0.35"/><rect x="474.2" y="135.4" width="1.1" height="2.2" fill="#8a4a70" opacity="0.35"/><rect x="501.7" y="129.7" width="1.1" height="2.2" fill="#b04848" opacity="0.35"/><rect x="477.3" y="133.2" width="1.1" height="2.2" fill="#3a78c8" opacity="0.35"/><rect x="496.9" y="132.0" width="1.1" height="2.2" fill="#b04848" opacity="0.35"/><rect x="432.5" y="136.3" width="1.1" height="2.2" fill="#8a4a70" opacity="0.35"/><rect x="393.1" y="144.0" width="1.1" height="2.2" fill="#b04848" opacity="0.35"/><rect x="502.6" y="129.1" width="1.1" height="2.2" fill="#3a78c8" opacity="0.35"/><rect x="487.7" y="131.3" width="1.1" height="2.2" fill="#8a4a70" opacity="0.35"/><rect x="449.2" y="133.2" width="1.1" height="2.2" fill="#3a78c8" opacity="0.35"/><rect x="404.6" y="138.4" width="1.1" height="2.2" fill="#3a78c8" opacity="0.35"/><rect x="508.8" y="129.0" width="1.1" height="2.2" fill="#3a78c8" opacity="0.35"/><rect x="376.5" y="145.3" width="1.1" height="2.2" fill="#8a4a70" opacity="0.35"/><rect x="389.5" y="144.5" width="1.1" height="2.2" fill="#b04848" opacity="0.35"/><rect x="427.7" y="138.4" width="1.1" height="2.2" fill="#b04848" opacity="0.35"/><rect x="492.8" y="131.1" width="1.1" height="2.2" fill="#b04848" opacity="0.35"/><rect x="468.5" y="137.0" width="1.1" height="2.2" fill="#4858b0" opacity="0.35"/><rect x="460.7" y="133.9" width="1.1" height="2.2" fill="#3a78c8" opacity="0.35"/><rect x="499.9" y="131.0" width="1.1" height="2.2" fill="#8a4a70" opacity="0.35"/><rect x="500.0" y="129.9" width="1.1" height="2.2" fill="#4858b0" opacity="0.35"/><rect x="450.1" y="135.5" width="1.1" height="2.2" fill="#8a4a70" opacity="0.35"/><rect x="405.3" y="140.9" width="1.1" height="2.2" fill="#4858b0" opacity="0.35"/><rect x="439.9" y="137.4" width="1.1" height="2.2" fill="#8a4a70" opacity="0.35"/><rect x="485.6" y="131.7" width="1.1" height="2.2" fill="#8a4a70" opacity="0.35"/><rect x="461.5" y="136.6" width="1.1" height="2.2" fill="#b04848" opacity="0.35"/><rect x="491.9" y="129.7" width="1.1" height="2.2" fill="#8a4a70" opacity="0.35"/><rect x="506.3" y="128.4" width="1.1" height="2.2" fill="#3a78c8" opacity="0.35"/><rect x="390.3" y="141.2" width="1.1" height="2.2" fill="#b04848" opacity="0.35"/><rect x="415.4" y="139.6" width="1.1" height="2.2" fill="#3a78c8" opacity="0.35"/><rect x="395.1" y="140.2" width="1.1" height="2.2" fill="#3a78c8" opacity="0.35"/><rect x="484.0" y="129.8" width="1.1" height="2.2" fill="#3a78c8" opacity="0.35"/><rect x="482.5" y="135.5" width="1.1" height="2.2" fill="#8a4a70" opacity="0.35"/><rect x="434.8" y="138.8" width="1.1" height="2.2" fill="#8a4a70" opacity="0.35"/><rect x="474.4" y="133.8" width="1.1" height="2.2" fill="#8a4a70" opacity="0.35"/><rect x="410.9" y="140.7" width="1.1" height="2.2" fill="#4858b0" opacity="0.35"/><rect x="401.9" y="140.2" width="1.1" height="2.2" fill="#3a78c8" opacity="0.35"/><rect x="414.5" y="139.4" width="1.1" height="2.2" fill="#8a4a70" opacity="0.35"/><rect x="476.7" y="131.1" width="1.1" height="2.2" fill="#b04848" opacity="0.35"/><rect x="411.9" y="140.7" width="1.1" height="2.2" fill="#b04848" opacity="0.35"/><rect x="512.2" y="128.2" width="1.1" height="2.2" fill="#8a4a70" opacity="0.35"/><rect x="421.0" y="139.6" width="1.1" height="2.2" fill="#4858b0" opacity="0.35"/><rect x="367.0" y="148.4" width="1.1" height="2.2" fill="#8a4a70" opacity="0.35"/><rect x="496.1" y="129.6" width="1.1" height="2.2" fill="#8a4a70" opacity="0.35"/><rect x="430.4" y="141.2" width="1.1" height="2.2" fill="#8a4a70" opacity="0.35"/><rect x="395.8" y="139.9" width="1.1" height="2.2" fill="#4858b0" opacity="0.35"/><rect x="490.0" y="135.1" width="1.1" height="2.2" fill="#b04848" opacity="0.35"/><rect x="406.9" y="140.1" width="1.1" height="2.2" fill="#b04848" opacity="0.35"/></g></g></g>
<rect x="152.5" y="14.5" width="148" height="198" fill="none" stroke="#9a9a9a" stroke-width="0.5"/>
<line x1="182.56" y1="212.5" x2="182.56" y2="211.0" stroke="#333" stroke-width="0.6"/>
<line x1="182.56" y1="14.5" x2="182.56" y2="16.0" stroke="#333" stroke-width="0.6"/>
<text x="182.56" y="223.8" font-size="8.4" text-anchor="middle" fill="#262626">20</text>
<line x1="213.40" y1="212.5" x2="213.40" y2="211.0" stroke="#333" stroke-width="0.6"/>
<line x1="213.40" y1="14.5" x2="213.40" y2="16.0" stroke="#333" stroke-width="0.6"/>
<text x="213.40" y="223.8" font-size="8.4" text-anchor="middle" fill="#262626">40</text>
<line x1="244.23" y1="212.5" x2="244.23" y2="211.0" stroke="#333" stroke-width="0.6"/>
<line x1="244.23" y1="14.5" x2="244.23" y2="16.0" stroke="#333" stroke-width="0.6"/>
<text x="244.23" y="223.8" font-size="8.4" text-anchor="middle" fill="#262626">60</text>
<line x1="275.06" y1="212.5" x2="275.06" y2="211.0" stroke="#333" stroke-width="0.6"/>
<line x1="275.06" y1="14.5" x2="275.06" y2="16.0" stroke="#333" stroke-width="0.6"/>
<text x="275.06" y="223.8" font-size="8.4" text-anchor="middle" fill="#262626">80</text>
<line x1="152.5" y1="14.50" x2="154.0" y2="14.50" stroke="#333" stroke-width="0.6"/>
<line x1="300.5" y1="14.50" x2="299.0" y2="14.50" stroke="#333" stroke-width="0.6"/>
<text x="149.90" y="17.80" font-size="8.4" text-anchor="end" fill="#262626">90</text>
<line x1="152.5" y1="36.50" x2="154.0" y2="36.50" stroke="#333" stroke-width="0.6"/>
<line x1="300.5" y1="36.50" x2="299.0" y2="36.50" stroke="#333" stroke-width="0.6"/>
<text x="149.90" y="39.80" font-size="8.4" text-anchor="end" fill="#262626">100</text>
<line x1="152.5" y1="58.50" x2="154.0" y2="58.50" stroke="#333" stroke-width="0.6"/>
<line x1="300.5" y1="58.50" x2="299.0" y2="58.50" stroke="#333" stroke-width="0.6"/>
<text x="149.90" y="61.80" font-size="8.4" text-anchor="end" fill="#262626">110</text>
<line x1="152.5" y1="80.50" x2="154.0" y2="80.50" stroke="#333" stroke-width="0.6"/>
<line x1="300.5" y1="80.50" x2="299.0" y2="80.50" stroke="#333" stroke-width="0.6"/>
<text x="149.90" y="83.80" font-size="8.4" text-anchor="end" fill="#262626">120</text>
<line x1="152.5" y1="102.50" x2="154.0" y2="102.50" stroke="#333" stroke-width="0.6"/>
<line x1="300.5" y1="102.50" x2="299.0" y2="102.50" stroke="#333" stroke-width="0.6"/>
<text x="149.90" y="105.80" font-size="8.4" text-anchor="end" fill="#262626">130</text>
<line x1="152.5" y1="124.50" x2="154.0" y2="124.50" stroke="#333" stroke-width="0.6"/>
<line x1="300.5" y1="124.50" x2="299.0" y2="124.50" stroke="#333" stroke-width="0.6"/>
<text x="149.90" y="127.80" font-size="8.4" text-anchor="end" fill="#262626">140</text>
<line x1="152.5" y1="146.50" x2="154.0" y2="146.50" stroke="#333" stroke-width="0.6"/>
<line x1="300.5" y1="146.50" x2="299.0" y2="146.50" stroke="#333" stroke-width="0.6"/>
<text x="149.90" y="149.80" font-size="8.4" text-anchor="end" fill="#262626">150</text>
<line x1="152.5" y1="168.50" x2="154.0" y2="168.50" stroke="#333" stroke-width="0.6"/>
<line x1="300.5" y1="168.50" x2="299.0" y2="168.50" stroke="#333" stroke-width="0.6"/>
<text x="149.90" y="171.80" font-size="8.4" text-anchor="end" fill="#262626">160</text>
<line x1="152.5" y1="190.50" x2="154.0" y2="190.50" stroke="#333" stroke-width="0.6"/>
<line x1="300.5" y1="190.50" x2="299.0" y2="190.50" stroke="#333" stroke-width="0.6"/>
<text x="149.90" y="193.80" font-size="8.4" text-anchor="end" fill="#262626">170</text>
<line x1="152.5" y1="212.50" x2="154.0" y2="212.50" stroke="#333" stroke-width="0.6"/>
<line x1="300.5" y1="212.50" x2="299.0" y2="212.50" stroke="#333" stroke-width="0.6"/>
<text x="149.90" y="215.80" font-size="8.4" text-anchor="end" fill="#262626">180</text>
<text x="226.50" y="10.9" font-size="9.6" font-weight="bold" text-anchor="middle" fill="#000" stroke="#000" stroke-width="0.15" textLength="32.7" lengthAdjust="spacingAndGlyphs">Probe 1</text>
<text x="226.50" y="235.1" font-size="9.2" text-anchor="middle" fill="#262626" textLength="57.4" lengthAdjust="spacingAndGlyphs">Array Element</text>
<text transform="translate(133.00,112.6) rotate(-90)" x="0" y="0" font-size="9.2" text-anchor="middle" fill="#262626" textLength="37.5" lengthAdjust="spacingAndGlyphs">Time (μs)</text>
<rect x="303.0" y="14.5" width="5.5" height="198" fill="url(#jet)" stroke="#4a4a4a" stroke-width="0.4"/>
<text x="311.30" y="18.40" font-size="8.2" fill="#262626">1</text>
<text x="311.30" y="38.20" font-size="8.2" fill="#262626">0.8</text>
<text x="311.30" y="58.00" font-size="8.2" fill="#262626">0.6</text>
<text x="311.30" y="77.80" font-size="8.2" fill="#262626">0.4</text>
<text x="311.30" y="97.60" font-size="8.2" fill="#262626">0.2</text>
<text x="311.30" y="117.40" font-size="8.2" fill="#262626">0</text>
<text x="311.30" y="137.20" font-size="8.2" fill="#262626">-0.2</text>
<text x="311.30" y="157.00" font-size="8.2" fill="#262626">-0.4</text>
<text x="311.30" y="176.80" font-size="8.2" fill="#262626">-0.6</text>
<text x="311.30" y="196.60" font-size="8.2" fill="#262626">-0.8</text>
<text x="311.30" y="216.40" font-size="8.2" fill="#262626">-1</text>
<text transform="translate(332.50,108.8) rotate(-90)" font-size="7.4" text-anchor="middle" fill="#262626" textLength="62.5" lengthAdjust="spacingAndGlyphs">Normalized Pressure</text>
<rect x="366.0" y="14.5" width="148" height="198" fill="none" stroke="#9a9a9a" stroke-width="0.5"/>
<line x1="396.06" y1="212.5" x2="396.06" y2="211.0" stroke="#333" stroke-width="0.6"/>
<line x1="396.06" y1="14.5" x2="396.06" y2="16.0" stroke="#333" stroke-width="0.6"/>
<text x="396.06" y="223.8" font-size="8.4" text-anchor="middle" fill="#262626">20</text>
<line x1="426.90" y1="212.5" x2="426.90" y2="211.0" stroke="#333" stroke-width="0.6"/>
<line x1="426.90" y1="14.5" x2="426.90" y2="16.0" stroke="#333" stroke-width="0.6"/>
<text x="426.90" y="223.8" font-size="8.4" text-anchor="middle" fill="#262626">40</text>
<line x1="457.73" y1="212.5" x2="457.73" y2="211.0" stroke="#333" stroke-width="0.6"/>
<line x1="457.73" y1="14.5" x2="457.73" y2="16.0" stroke="#333" stroke-width="0.6"/>
<text x="457.73" y="223.8" font-size="8.4" text-anchor="middle" fill="#262626">60</text>
<line x1="488.56" y1="212.5" x2="488.56" y2="211.0" stroke="#333" stroke-width="0.6"/>
<line x1="488.56" y1="14.5" x2="488.56" y2="16.0" stroke="#333" stroke-width="0.6"/>
<text x="488.56" y="223.8" font-size="8.4" text-anchor="middle" fill="#262626">80</text>
<line x1="366.0" y1="14.50" x2="367.5" y2="14.50" stroke="#333" stroke-width="0.6"/>
<line x1="514.0" y1="14.50" x2="512.5" y2="14.50" stroke="#333" stroke-width="0.6"/>
<text x="363.40" y="17.80" font-size="8.4" text-anchor="end" fill="#262626">90</text>
<line x1="366.0" y1="36.50" x2="367.5" y2="36.50" stroke="#333" stroke-width="0.6"/>
<line x1="514.0" y1="36.50" x2="512.5" y2="36.50" stroke="#333" stroke-width="0.6"/>
<text x="363.40" y="39.80" font-size="8.4" text-anchor="end" fill="#262626">100</text>
<line x1="366.0" y1="58.50" x2="367.5" y2="58.50" stroke="#333" stroke-width="0.6"/>
<line x1="514.0" y1="58.50" x2="512.5" y2="58.50" stroke="#333" stroke-width="0.6"/>
<text x="363.40" y="61.80" font-size="8.4" text-anchor="end" fill="#262626">110</text>
<line x1="366.0" y1="80.50" x2="367.5" y2="80.50" stroke="#333" stroke-width="0.6"/>
<line x1="514.0" y1="80.50" x2="512.5" y2="80.50" stroke="#333" stroke-width="0.6"/>
<text x="363.40" y="83.80" font-size="8.4" text-anchor="end" fill="#262626">120</text>
<line x1="366.0" y1="102.50" x2="367.5" y2="102.50" stroke="#333" stroke-width="0.6"/>
<line x1="514.0" y1="102.50" x2="512.5" y2="102.50" stroke="#333" stroke-width="0.6"/>
<text x="363.40" y="105.80" font-size="8.4" text-anchor="end" fill="#262626">130</text>
<line x1="366.0" y1="124.50" x2="367.5" y2="124.50" stroke="#333" stroke-width="0.6"/>
<line x1="514.0" y1="124.50" x2="512.5" y2="124.50" stroke="#333" stroke-width="0.6"/>
<text x="363.40" y="127.80" font-size="8.4" text-anchor="end" fill="#262626">140</text>
<line x1="366.0" y1="146.50" x2="367.5" y2="146.50" stroke="#333" stroke-width="0.6"/>
<line x1="514.0" y1="146.50" x2="512.5" y2="146.50" stroke="#333" stroke-width="0.6"/>
<text x="363.40" y="149.80" font-size="8.4" text-anchor="end" fill="#262626">150</text>
<line x1="366.0" y1="168.50" x2="367.5" y2="168.50" stroke="#333" stroke-width="0.6"/>
<line x1="514.0" y1="168.50" x2="512.5" y2="168.50" stroke="#333" stroke-width="0.6"/>
<text x="363.40" y="171.80" font-size="8.4" text-anchor="end" fill="#262626">160</text>
<line x1="366.0" y1="190.50" x2="367.5" y2="190.50" stroke="#333" stroke-width="0.6"/>
<line x1="514.0" y1="190.50" x2="512.5" y2="190.50" stroke="#333" stroke-width="0.6"/>
<text x="363.40" y="193.80" font-size="8.4" text-anchor="end" fill="#262626">170</text>
<line x1="366.0" y1="212.50" x2="367.5" y2="212.50" stroke="#333" stroke-width="0.6"/>
<line x1="514.0" y1="212.50" x2="512.5" y2="212.50" stroke="#333" stroke-width="0.6"/>
<text x="363.40" y="215.80" font-size="8.4" text-anchor="end" fill="#262626">180</text>
<text x="440.00" y="10.9" font-size="9.6" font-weight="bold" text-anchor="middle" fill="#000" stroke="#000" stroke-width="0.15" textLength="32.7" lengthAdjust="spacingAndGlyphs">Probe 2</text>
<text x="440.00" y="235.1" font-size="9.2" text-anchor="middle" fill="#262626" textLength="57.4" lengthAdjust="spacingAndGlyphs">Array Element</text>
<text transform="translate(346.50,112.6) rotate(-90)" x="0" y="0" font-size="9.2" text-anchor="middle" fill="#262626" textLength="37.5" lengthAdjust="spacingAndGlyphs">Time (μs)</text>
<rect x="516.5" y="14.5" width="5.5" height="198" fill="url(#jet)" stroke="#4a4a4a" stroke-width="0.4"/>
<text x="524.80" y="18.40" font-size="8.2" fill="#262626">1</text>
<text x="524.80" y="38.20" font-size="8.2" fill="#262626">0.8</text>
<text x="524.80" y="58.00" font-size="8.2" fill="#262626">0.6</text>
<text x="524.80" y="77.80" font-size="8.2" fill="#262626">0.4</text>
<text x="524.80" y="97.60" font-size="8.2" fill="#262626">0.2</text>
<text x="524.80" y="117.40" font-size="8.2" fill="#262626">0</text>
<text x="524.80" y="137.20" font-size="8.2" fill="#262626">-0.2</text>
<text x="524.80" y="157.00" font-size="8.2" fill="#262626">-0.4</text>
<text x="524.80" y="176.80" font-size="8.2" fill="#262626">-0.6</text>
<text x="524.80" y="196.60" font-size="8.2" fill="#262626">-0.8</text>
<text x="524.80" y="216.40" font-size="8.2" fill="#262626">-1</text>
<text transform="translate(546.00,108.8) rotate(-90)" font-size="7.4" text-anchor="middle" fill="#262626" textLength="62.5" lengthAdjust="spacingAndGlyphs">Normalized Pressure</text>
<line x1="226.00" y1="117.60" x2="249.59" y2="74.84" stroke="#ec211c" stroke-width="3.3"/><polygon points="253.70,67.40 253.27,78.01 244.95,73.42" fill="#ec211c"/>
<text x="174" y="130.1" font-size="9.6" font-weight="bold" fill="#ec211c" stroke="#ec211c" stroke-width="0.3" textLength="107.4" lengthAdjust="spacingAndGlyphs">Wave mode of interest</text>
<line x1="435.50" y1="99.20" x2="406.08" y2="68.53" stroke="#ec211c" stroke-width="3.3"/><polygon points="400.20,62.40 410.20,65.97 403.35,72.54" fill="#ec211c"/>
<text x="382" y="111.3" font-size="9.6" font-weight="bold" fill="#ec211c" stroke="#ec211c" stroke-width="0.3" textLength="106" lengthAdjust="spacingAndGlyphs">Wave mode of interest</text>
<line x1="488.30" y1="170.80" x2="501.58" y2="61.24" stroke="#000" stroke-width="3.1"/><polygon points="502.60,52.80 505.92,62.77 496.99,61.69" fill="#000"/>
<line x1="488.30" y1="170.80" x2="467.17" y2="160.35" stroke="#000" stroke-width="3.1"/><polygon points="460.00,156.80 470.06,156.76 466.07,164.82" fill="#000"/>
<path d="M487.6,165 L488.3,170.8 L482,167.8" fill="none" stroke="#000" stroke-width="3.1" stroke-linejoin="miter"/>
<text x="412" y="184.2" font-size="9.6" font-weight="bold" fill="#111" stroke="#111" stroke-width="0.3" textLength="98.2" lengthAdjust="spacingAndGlyphs">Spurious wave mode</text>
<text x="60" y="258" font-size="14.5" font-weight="bold" text-anchor="middle" fill="#111" font-family="'Liberation Serif', 'Times New Roman', serif" textLength="16.6" lengthAdjust="spacingAndGlyphs">(a)</text>
<text x="337.8" y="258" font-size="14.5" font-weight="bold" text-anchor="middle" fill="#111" font-family="'Liberation Serif', 'Times New Roman', serif" textLength="18.9" lengthAdjust="spacingAndGlyphs">(b)</text></svg>
</body></html>
